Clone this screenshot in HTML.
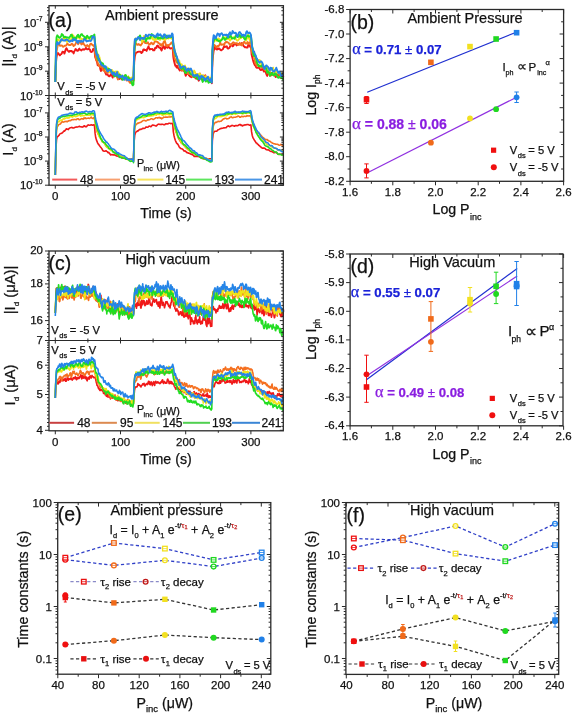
<!DOCTYPE html><html><head><meta charset="utf-8"><style>html,body{margin:0;padding:0;background:#fff;}svg{display:block;filter:blur(0.3px);}text{font-family:"Liberation Sans",sans-serif;stroke-width:0.25px;}</style></head><body><svg width="575" height="716" viewBox="0 0 575 716">
<rect width="575" height="716" fill="#fff"/>
<polyline points="55.3,82 56,62.5 56.6,56.6 57.3,53.7 57.9,53 58.6,53.7 59.2,54.6 59.9,55.4 60.5,54.5 61.2,54.2 61.8,53.4 62.5,51.7 63.1,51.9 63.8,52 64.4,53.6 65.1,51.4 65.7,49.5 66.4,48.2 67,49.1 67.7,50.6 68.3,51.2 69,51.9 69.6,51 70.3,51.2 70.9,51 71.6,50.9 72.3,51.9 72.9,52 73.6,53.4 74.2,51.5 74.9,50.4 75.5,49.1 76.2,49.4 76.8,50.5 77.5,50.9 78.1,50.6 78.8,49.2 79.4,48.6 80.1,49.9 80.7,49.9 81.4,50.5 82,49.8 82.7,49.3 83.3,49.1 84,49.7 84.6,49.3 85.3,49 85.9,47.8 86.6,48.7 87.2,49.4 87.9,49.4 88.6,48.8 89.2,49.1 89.9,49.6 90.5,51.6 91.2,52 91.8,51.8 92.5,51.1 93.1,48.9 93.8,49.1 94.4,48.5 95.1,56.8 95.7,58.5 96.4,60.4 97,61.9 97.7,65.2 98.3,65.3 99,65.5 99.6,65.4 100.3,68.9 100.9,71.1 101.6,70 102.2,67.3 102.9,67.6 103.5,69 104.2,70.5 104.9,71.4 105.5,73.2 106.2,74.6 106.8,74.3 107.5,74.1 108.1,75.5 108.8,76.1 109.4,76.4 110.1,75.8 110.7,74.3 111.4,75.2 112,75.7 112.7,77.6 113.3,75.2 114,74.2 114.6,74.6 115.3,74.9 115.9,75.5 116.6,75.8 117.2,76.4 117.9,78 118.5,77.8 119.2,78.9 119.8,78 120.5,78.2 121.2,78.6 121.8,79.4 122.5,78.5 123.1,78.2 123.8,78.2 124.4,78.9 125.1,78.7 125.7,78.7 126.4,80 127,80.5 127.7,78.7 128.3,77.6 129,77.9 129.6,78.9 130.3,80.2 130.9,79.6 131.6,81 132.2,79 132.9,79.3 133.5,78.9 133.5,80.8 134.2,62.5 134.8,56.5 135.5,53.9 136.1,52.6 136.8,52.5 137.5,52 138.1,51.8 138.8,51.6 139.4,51.6 140.1,51.8 140.7,51.6 141.4,53.1 142,52.6 142.7,51.6 143.3,49.6 144,49.2 144.6,50.1 145.3,50 145.9,50.2 146.6,50.9 147.2,49 147.9,47.7 148.5,46.3 149.2,48.6 149.8,49.6 150.5,49 151.1,49.1 151.8,49 152.4,48.9 153.1,50.3 153.8,50.3 154.4,50.2 155.1,48.1 155.7,47.6 156.4,47.9 157,45.8 157.7,45.5 158.3,46.3 159,47.5 159.6,47.8 160.3,47.7 160.9,49.3 161.6,50.5 162.2,48.4 162.9,47.4 163.5,45.9 164.2,47.7 164.8,48.8 165.5,46.9 166.1,47.3 166.8,45.2 167.4,47.9 168.1,45.8 168.7,47.1 169.4,47.5 170.1,48.5 170.7,48.5 171.4,48.2 172,48.4 172.7,48.2 173.3,56.9 174,61.1 174.6,63.2 175.3,65.8 175.9,65.4 176.6,67.5 177.2,66 177.9,67.8 178.5,68.4 179.2,69.5 179.8,70.5 180.5,69.2 181.1,68.3 181.8,68.8 182.4,69.7 183.1,70.5 183.7,69.2 184.4,71.3 185,73.1 185.7,75.8 186.4,74.3 187,74 187.7,72.2 188.3,73.8 189,75.4 189.6,75.8 190.3,76.7 190.9,76.4 191.6,77.2 192.2,74.6 192.9,75.2 193.5,75.4 194.2,76.7 194.8,76.1 195.5,76.7 196.1,78.6 196.8,77.6 197.4,78.4 198.1,78.5 198.7,80.7 199.4,79.8 200,78.1 200.7,77.9 201.3,78.3 202,79.2 202.7,79.6 203.3,79.5 204,77.7 204.6,76.3 205.3,75.2 205.9,77.8 206.6,78.5 207.2,79.6 207.9,79.1 208.5,79.6 209.2,80.3 209.8,81.5 210.5,80.9 211.1,81.7 211.8,82 211.8,83.3 212.4,61.6 213.1,55.1 213.7,50.4 214.4,49.3 215,46.6 215.7,48.7 216.3,48.3 217,49.6 217.6,48.4 218.3,49.1 219,48.5 219.6,48.6 220.3,49.9 220.9,50.2 221.6,50.3 222.2,49.5 222.9,49.2 223.5,47.6 224.2,46.2 224.8,47.1 225.5,46.7 226.1,46.5 226.8,46.3 227.4,48.2 228.1,48.6 228.7,48.3 229.4,47.7 230,46.7 230.7,44.7 231.3,44 232,45.6 232.6,46.3 233.3,46 233.9,44.6 234.6,43.8 235.3,44.4 235.9,44 236.6,45.4 237.2,43.6 237.9,44.8 238.5,43.9 239.2,44.2 239.8,44.5 240.5,44.7 241.1,44.5 241.8,43.1 242.4,43.6 243.1,44.9 243.7,46.2 244.4,46.6 245,47.4 245.7,47.1 246.3,47.5 247,47.5 247.6,47.6 248.3,44.8 248.9,45 249.6,45.6 250.2,47 250.9,45.9 251.6,54.6 252.2,56.9 252.9,59.9 253.5,61.9 254.2,63.9 254.8,65.2 255.5,65.7 256.1,67.2 256.8,67.8 257.4,67.7 258.1,67.6 258.7,67.7 259.4,67.7 260,69.5 260.7,70 261.3,70 262,68.9 262.6,69 263.3,70.3 263.9,71.5 264.6,71.4 265.2,70.3 265.9,72.6 266.5,74.5 267.2,75.9 267.9,72 268.5,71.8 269.2,71.9 269.8,75.6 270.5,75.6 271.1,75.4 271.8,74.7 272.4,73 273.1,74 273.7,74.1 274.4,75.2 275,75.7 275.7,77 276.3,76.6 277,75.2 277.6,74.1 278.3,75.6 278.9,75.9 279.6,75.1 280.2,76.7 280.9,78 281.5,78 282.2,75.4 282.8,76 283.5,77.3" fill="none" stroke="#f01818" stroke-width="1.9" stroke-linejoin="round"/>
<polyline points="55.3,82 56,59.8 56.6,51 57.3,47.5 57.9,44.4 58.6,44.3 59.2,43.8 59.9,45.8 60.5,45.7 61.2,45.6 61.8,45.4 62.5,46.2 63.1,46.8 63.8,46.5 64.4,45.8 65.1,45.9 65.7,45.7 66.4,45.2 67,44 67.7,43.9 68.3,44.4 69,45 69.6,44.9 70.3,45.1 70.9,44.8 71.6,43.8 72.3,43.9 72.9,44.8 73.6,46.1 74.2,45.6 74.9,45.1 75.5,43.9 76.2,42.5 76.8,42.2 77.5,42.2 78.1,44.3 78.8,43.3 79.4,42 80.1,40.5 80.7,42.6 81.4,44.4 82,44.1 82.7,42.2 83.3,42.9 84,44.4 84.6,45.1 85.3,45.9 85.9,46 86.6,45.9 87.2,45.1 87.9,45.9 88.6,46.7 89.2,47 89.9,44.8 90.5,43.9 91.2,43.6 91.8,44.3 92.5,45.2 93.1,45.1 93.8,46.1 94.4,45 95.1,53.5 95.7,57.6 96.4,60.2 97,60.2 97.7,62.9 98.3,64.2 99,66 99.6,65.7 100.3,66.9 100.9,66.1 101.6,66.2 102.2,67.2 102.9,69.7 103.5,70.7 104.2,71 104.9,71.3 105.5,71.6 106.2,72.3 106.8,72.1 107.5,71.9 108.1,72.6 108.8,72.1 109.4,72.2 110.1,72 110.7,72 111.4,72.5 112,71.2 112.7,72.1 113.3,73.2 114,75.6 114.6,76.3 115.3,76 115.9,74.6 116.6,76.4 117.2,77.2 117.9,79.5 118.5,77.5 119.2,77.2 119.8,75.1 120.5,76.6 121.2,77.7 121.8,77.9 122.5,77.4 123.1,77.3 123.8,77.6 124.4,76.4 125.1,75.2 125.7,76.3 126.4,76.8 127,77.9 127.7,78.7 128.3,80.5 129,81.2 129.6,82.4 130.3,83 130.9,81.5 131.6,80 132.2,78.4 132.9,78.7 133.5,79.2 133.5,80.1 134.2,56.2 134.8,47.7 135.5,44.5 136.1,43.4 136.8,44.2 137.5,44.8 138.1,44.6 138.8,44.1 139.4,44.8 140.1,45 140.7,45.4 141.4,44.3 142,43.7 142.7,41.6 143.3,41.2 144,41.3 144.6,42.2 145.3,43.1 145.9,43.1 146.6,43.2 147.2,42.8 147.9,42.3 148.5,43.8 149.2,44.4 149.8,44.6 150.5,43.5 151.1,42.8 151.8,42.8 152.4,44 153.1,44.3 153.8,43.8 154.4,42.1 155.1,41.5 155.7,41.4 156.4,41.6 157,41.8 157.7,42 158.3,42.9 159,43.4 159.6,43.4 160.3,45.2 160.9,44.5 161.6,45.7 162.2,43.9 162.9,45 163.5,42.2 164.2,41.5 164.8,40.8 165.5,43.2 166.1,45.7 166.8,45.7 167.4,46.2 168.1,45 168.7,45.4 169.4,44.8 170.1,44.1 170.7,43.7 171.4,42.4 172,43.5 172.7,42.3 173.3,50.3 174,54.8 174.6,58 175.3,59.8 175.9,60.7 176.6,62.3 177.2,62.8 177.9,63.1 178.5,64.4 179.2,66.5 179.8,66.4 180.5,68 181.1,69.4 181.8,70.7 182.4,70 183.1,68.9 183.7,70.5 184.4,70.2 185,71.5 185.7,70.4 186.4,70.8 187,71.3 187.7,73.1 188.3,74 189,73.2 189.6,73.1 190.3,73.4 190.9,74.5 191.6,75.3 192.2,76.6 192.9,76.2 193.5,77 194.2,76.4 194.8,77.7 195.5,75.6 196.1,75.8 196.8,74 197.4,76.2 198.1,77.5 198.7,78.1 199.4,75.7 200,73.5 200.7,75.6 201.3,76.7 202,78.1 202.7,77.1 203.3,77.5 204,76.9 204.6,77.3 205.3,76.5 205.9,77.4 206.6,77.8 207.2,79.5 207.9,79.5 208.5,78.7 209.2,78.6 209.8,78.6 210.5,80.7 211.1,81.3 211.8,81.8 211.8,80.1 212.4,54.6 213.1,46.8 213.7,44.8 214.4,44.9 215,45.7 215.7,46.3 216.3,47.6 217,46.5 217.6,46 218.3,46.4 219,45.4 219.6,44.9 220.3,42.7 220.9,44.3 221.6,44.9 222.2,44.5 222.9,44.6 223.5,44.3 224.2,45 224.8,43.1 225.5,42.3 226.1,41.7 226.8,42.3 227.4,42.1 228.1,42.6 228.7,42.8 229.4,44.2 230,44.2 230.7,44.9 231.3,44.8 232,44.1 232.6,42.7 233.3,42.2 233.9,42.6 234.6,43.3 235.3,43.2 235.9,43.4 236.6,43.1 237.2,43.7 237.9,44.6 238.5,44.8 239.2,44.4 239.8,42.8 240.5,44.4 241.1,44.5 241.8,45.4 242.4,43.6 243.1,43.3 243.7,42.5 244.4,41.7 245,42.8 245.7,43.5 246.3,43.5 247,43 247.6,42.1 248.3,43.9 248.9,43.6 249.6,42.5 250.2,41.9 250.9,42.8 251.6,50.1 252.2,53 252.9,53.2 253.5,54.6 254.2,57.2 254.8,60.9 255.5,63.4 256.1,64.3 256.8,65.6 257.4,65.6 258.1,65.6 258.7,64.9 259.4,66.3 260,66.6 260.7,65.8 261.3,66.1 262,67.6 262.6,67.9 263.3,67.9 263.9,67.7 264.6,69.5 265.2,69.9 265.9,70.6 266.5,70.3 267.2,71.6 267.9,73.1 268.5,73.3 269.2,73.5 269.8,72 270.5,72.6 271.1,72.8 271.8,74.9 272.4,74.8 273.1,74.3 273.7,73.5 274.4,72.8 275,73.1 275.7,72.6 276.3,74.3 277,73.6 277.6,72.8 278.3,72.7 278.9,74 279.6,75.3 280.2,76.2 280.9,75.9 281.5,76.1 282.2,75.9 282.8,75 283.5,75.2" fill="none" stroke="#f57020" stroke-width="1.9" stroke-linejoin="round"/>
<polyline points="55.3,82 56,52.1 56.6,43.8 57.3,41.5 57.9,39.5 58.6,39.6 59.2,40.5 59.9,40.4 60.5,42 61.2,40.1 61.8,40.6 62.5,38.7 63.1,40 63.8,39 64.4,37.1 65.1,36.7 65.7,38.3 66.4,40.4 67,42 67.7,41.5 68.3,41.1 69,39.7 69.6,39.8 70.3,40.9 70.9,39.2 71.6,38.5 72.3,34.4 72.9,36 73.6,36 74.2,39.5 74.9,40.5 75.5,40.8 76.2,39.8 76.8,37.7 77.5,37 78.1,36.7 78.8,37.6 79.4,38.3 80.1,38.8 80.7,38.1 81.4,38.8 82,39.2 82.7,39.2 83.3,39 84,38.4 84.6,37.6 85.3,38.2 85.9,38.7 86.6,38.9 87.2,38.5 87.9,38.4 88.6,37.9 89.2,38.4 89.9,38.3 90.5,40.3 91.2,39.2 91.8,38.8 92.5,36.8 93.1,37.4 93.8,37.6 94.4,38.6 95.1,44.4 95.7,48.3 96.4,51.9 97,53.6 97.7,55.3 98.3,54.6 99,56 99.6,57.7 100.3,61.6 100.9,62.6 101.6,62.9 102.2,63.9 102.9,64.7 103.5,66.1 104.2,66.8 104.9,67.7 105.5,68.7 106.2,67.4 106.8,68 107.5,67.5 108.1,68.6 108.8,69.8 109.4,72.2 110.1,72 110.7,71.1 111.4,69.9 112,70 112.7,71.2 113.3,71.6 114,72.6 114.6,73 115.3,71.6 115.9,72.7 116.6,71.4 117.2,72.3 117.9,71.6 118.5,72.8 119.2,74.3 119.8,75 120.5,75.3 121.2,75.3 121.8,76.7 122.5,77.3 123.1,77.4 123.8,77.4 124.4,77.8 125.1,76.7 125.7,77.9 126.4,79.7 127,79.3 127.7,77.5 128.3,76.3 129,78.8 129.6,79.6 130.3,79.2 130.9,77.8 131.6,77.5 132.2,78.7 132.9,78.9 133.5,78.1 133.5,77.3 134.2,48.7 134.8,41.2 135.5,38.5 136.1,39.7 136.8,39.1 137.5,38.6 138.1,37.8 138.8,38.2 139.4,38.4 140.1,38.6 140.7,39.2 141.4,40.6 142,41.9 142.7,40.6 143.3,39.3 144,35.9 144.6,38 145.3,37.7 145.9,39.6 146.6,38.5 147.2,37.9 147.9,38.3 148.5,37.8 149.2,37.4 149.8,37.2 150.5,38.2 151.1,38.1 151.8,38.5 152.4,37.7 153.1,39.6 153.8,39.2 154.4,40.1 155.1,39.5 155.7,39.8 156.4,38.5 157,39.2 157.7,37.8 158.3,38.1 159,38.8 159.6,39.8 160.3,39.8 160.9,37.5 161.6,36.5 162.2,36.7 162.9,38.4 163.5,39.4 164.2,39.6 164.8,38.8 165.5,39.5 166.1,38.8 166.8,38.4 167.4,38 168.1,38.4 168.7,38.6 169.4,37.4 170.1,37.1 170.7,37.8 171.4,38.6 172,37.8 172.7,37.7 173.3,43.8 174,47.9 174.6,51 175.3,52.9 175.9,55.3 176.6,56.8 177.2,59.5 177.9,60.4 178.5,61.2 179.2,60.4 179.8,63.7 180.5,63.8 181.1,66.2 181.8,64.5 182.4,66.2 183.1,67.7 183.7,66.7 184.4,66.3 185,65.5 185.7,67.9 186.4,68.2 187,70 187.7,70.6 188.3,70.2 189,69.6 189.6,68.5 190.3,71.1 190.9,70.4 191.6,72.2 192.2,72.6 192.9,73.5 193.5,72.6 194.2,70.6 194.8,71.7 195.5,73.7 196.1,74.7 196.8,74.7 197.4,74.8 198.1,76.2 198.7,74 199.4,73.6 200,74 200.7,76.7 201.3,77.9 202,75.4 202.7,75.2 203.3,75.1 204,79.3 204.6,78.6 205.3,78.2 205.9,76.3 206.6,78 207.2,78.1 207.9,79.2 208.5,78 209.2,78.8 209.8,77.6 210.5,78.6 211.1,78 211.8,77.3 211.8,78 212.4,51.6 213.1,44.5 213.7,41.5 214.4,41.3 215,40.7 215.7,40.3 216.3,39.8 217,40.9 217.6,40.6 218.3,38.4 219,38.9 219.6,39.4 220.3,41 220.9,39.7 221.6,39.6 222.2,39.2 222.9,38.5 223.5,37.7 224.2,37.5 224.8,37.8 225.5,37.4 226.1,38.3 226.8,37.7 227.4,39.2 228.1,37.8 228.7,39.1 229.4,39.6 230,40.6 230.7,39.7 231.3,38.6 232,38.5 232.6,37.7 233.3,37.1 233.9,37.1 234.6,38.1 235.3,38.6 235.9,39.1 236.6,40 237.2,40.7 237.9,40.5 238.5,39.7 239.2,38.9 239.8,38.2 240.5,38.2 241.1,38 241.8,36.9 242.4,36.8 243.1,36.9 243.7,37.5 244.4,37.8 245,38.2 245.7,38.8 246.3,40.5 247,38 247.6,37.9 248.3,34.8 248.9,37.7 249.6,40 250.2,39.4 250.9,38.7 251.6,42.8 252.2,48.1 252.9,51.1 253.5,50.9 254.2,53.5 254.8,54.8 255.5,57.8 256.1,57.8 256.8,59 257.4,59.5 258.1,60.9 258.7,60.8 259.4,60 260,60.5 260.7,61.7 261.3,64.6 262,64.5 262.6,64.8 263.3,65.2 263.9,66.5 264.6,67.9 265.2,69.5 265.9,69 266.5,66.9 267.2,66.3 267.9,68.6 268.5,71.3 269.2,71.6 269.8,70.2 270.5,69.2 271.1,69.5 271.8,69.6 272.4,69 273.1,67.7 273.7,70.7 274.4,74 275,74.5 275.7,72.2 276.3,71 277,71.2 277.6,73.1 278.3,73.1 278.9,73 279.6,73.2 280.2,73 280.9,74.3 281.5,73.4 282.2,73.8 282.8,74.1 283.5,74.3" fill="none" stroke="#f0e41a" stroke-width="1.9" stroke-linejoin="round"/>
<polyline points="55.3,82 56,46.7 56.6,37.1 57.3,35.3 57.9,36.2 58.6,36.9 59.2,37.8 59.9,37.8 60.5,37 61.2,35.9 61.8,34.1 62.5,34.5 63.1,35.4 63.8,37.4 64.4,37.4 65.1,36.8 65.7,37.1 66.4,37.1 67,37.8 67.7,37.5 68.3,37.6 69,38 69.6,37 70.3,36.5 70.9,34.8 71.6,34.6 72.3,36 72.9,38.1 73.6,38.7 74.2,37.9 74.9,37.4 75.5,38 76.2,38.5 76.8,36.5 77.5,35.3 78.1,34.7 78.8,36.8 79.4,37.4 80.1,36.3 80.7,34.9 81.4,34.2 82,34.2 82.7,35.7 83.3,35.7 84,36.4 84.6,36.9 85.3,38.3 85.9,38.6 86.6,36.3 87.2,35.7 87.9,36.7 88.6,37.7 89.2,38.4 89.9,37.1 90.5,37 91.2,35.9 91.8,36.1 92.5,36.7 93.1,35.8 93.8,35.4 94.4,34.5 95.1,43 95.7,47.4 96.4,51.1 97,55.7 97.7,58.5 98.3,59.9 99,58.5 99.6,60.9 100.3,61.9 100.9,64.2 101.6,62.7 102.2,63.5 102.9,63.5 103.5,65.3 104.2,66.4 104.9,68 105.5,68.8 106.2,68.4 106.8,70.1 107.5,69.9 108.1,69.6 108.8,68.8 109.4,69.2 110.1,70.3 110.7,70.7 111.4,71.9 112,72.2 112.7,72.8 113.3,74.1 114,75.9 114.6,76.3 115.3,75.6 115.9,75.3 116.6,75.7 117.2,76.5 117.9,76.8 118.5,75.2 119.2,74.9 119.8,74.6 120.5,77.3 121.2,77.1 121.8,78.2 122.5,79.7 123.1,79.6 123.8,78.8 124.4,76.2 125.1,75.3 125.7,75 126.4,76.6 127,78.3 127.7,78.5 128.3,77.2 129,78.4 129.6,79.5 130.3,80.6 130.9,80.6 131.6,82.5 132.2,84.5 132.9,85.3 133.5,84.5 133.5,83.1 134.2,52.9 134.8,45.1 135.5,42.1 136.1,40.2 136.8,39 137.5,39.1 138.1,38.3 138.8,36.9 139.4,36.3 140.1,35.4 140.7,37.4 141.4,38.2 142,38.4 142.7,38.5 143.3,38.8 144,38.1 144.6,38.5 145.3,38.3 145.9,41.5 146.6,39 147.2,38.7 147.9,37.4 148.5,38.5 149.2,38.2 149.8,38.6 150.5,37.3 151.1,36.1 151.8,34.1 152.4,34.8 153.1,35.3 153.8,36.7 154.4,37.3 155.1,37.8 155.7,37 156.4,36.4 157,37.1 157.7,38.2 158.3,38.7 159,37.6 159.6,38.2 160.3,37.7 160.9,38.4 161.6,38.1 162.2,38.4 162.9,38.5 163.5,36.7 164.2,37.7 164.8,37.2 165.5,36.8 166.1,36.5 166.8,35.6 167.4,37.9 168.1,36.8 168.7,37.4 169.4,36.6 170.1,36.9 170.7,37.2 171.4,36.5 172,37.3 172.7,37.1 173.3,45.3 174,47 174.6,51.1 175.3,53.4 175.9,56.1 176.6,57 177.2,58.8 177.9,62.4 178.5,62.6 179.2,64.5 179.8,64.4 180.5,68.1 181.1,67.6 181.8,69 182.4,67.5 183.1,67.4 183.7,68.3 184.4,69.9 185,72.6 185.7,73 186.4,72.3 187,70.2 187.7,69.5 188.3,69.8 189,71 189.6,72.4 190.3,73.6 190.9,74.4 191.6,74.4 192.2,74.4 192.9,75.1 193.5,75.9 194.2,77.1 194.8,76.7 195.5,75.2 196.1,75.9 196.8,76.8 197.4,79.2 198.1,77 198.7,77 199.4,76.4 200,76.8 200.7,76.9 201.3,77.7 202,79.9 202.7,81.9 203.3,80.8 204,79.1 204.6,78.4 205.3,80.1 205.9,81.6 206.6,80.3 207.2,80.4 207.9,81.1 208.5,82.8 209.2,81.9 209.8,81.7 210.5,82.1 211.1,82.2 211.8,80.7 211.8,80.3 212.4,50.4 213.1,43 213.7,40.9 214.4,39.3 215,38.9 215.7,37.8 216.3,38.7 217,40 217.6,40 218.3,41.1 219,41 219.6,41.8 220.3,40.6 220.9,40.7 221.6,39.9 222.2,39.3 222.9,37 223.5,37.5 224.2,38.6 224.8,39.9 225.5,39.8 226.1,38.6 226.8,38.2 227.4,36.7 228.1,37.7 228.7,37.2 229.4,37.5 230,36 230.7,35.6 231.3,37.2 232,38.6 232.6,38.2 233.3,38.2 233.9,38.1 234.6,38.7 235.3,36.7 235.9,35.4 236.6,35.4 237.2,36.8 237.9,37.1 238.5,36 239.2,35.9 239.8,34.9 240.5,37.3 241.1,36.1 241.8,36.8 242.4,35.4 243.1,35.9 243.7,37.5 244.4,38.8 245,39.7 245.7,39 246.3,37 247,36.1 247.6,35.4 248.3,35.9 248.9,36.7 249.6,36.5 250.2,36.8 250.9,35.5 251.6,41.4 252.2,46.6 252.9,51.4 253.5,55.4 254.2,56 254.8,54.3 255.5,55.7 256.1,58.6 256.8,62.1 257.4,63.7 258.1,64.7 258.7,66.2 259.4,65.9 260,66.2 260.7,66.6 261.3,66.3 262,65.7 262.6,64.5 263.3,66.2 263.9,67.5 264.6,68.2 265.2,67.1 265.9,68.1 266.5,69.7 267.2,72.9 267.9,71.2 268.5,72.1 269.2,72.9 269.8,75.9 270.5,75.3 271.1,74.1 271.8,72.7 272.4,74 273.1,74.9 273.7,75.4 274.4,73.8 275,73.8 275.7,73.6 276.3,75.5 277,75.3 277.6,77.2 278.3,77.9 278.9,77.6 279.6,76.8 280.2,77.5 280.9,77.6 281.5,77.9 282.2,77.7 282.8,79.3 283.5,80.1" fill="none" stroke="#22dd22" stroke-width="1.9" stroke-linejoin="round"/>
<polyline points="55.3,82 56,51.7 56.6,43.2 57.3,42.1 57.9,44.3 58.6,43.2 59.2,43.6 59.9,42.1 60.5,41.3 61.2,39.7 61.8,39.1 62.5,40 63.1,40.4 63.8,40.6 64.4,40.3 65.1,40.7 65.7,39.8 66.4,39.9 67,39.9 67.7,39.9 68.3,40.5 69,41.3 69.6,41.8 70.3,41.4 70.9,40.7 71.6,40.3 72.3,41.2 72.9,39.6 73.6,40.4 74.2,39 74.9,39.4 75.5,40.3 76.2,40 76.8,42 77.5,41.1 78.1,42.9 78.8,40.7 79.4,41.1 80.1,41.1 80.7,41.8 81.4,40.7 82,41.5 82.7,41.7 83.3,41.4 84,39 84.6,39.2 85.3,39.7 85.9,40.4 86.6,41.4 87.2,40.9 87.9,41.1 88.6,40.9 89.2,40.3 89.9,40.8 90.5,41 91.2,40.7 91.8,39 92.5,36.7 93.1,36.3 93.8,37.6 94.4,36.9 95.1,45.8 95.7,50.7 96.4,53.8 97,55.4 97.7,54.5 98.3,58 99,59 99.6,61.5 100.3,62 100.9,64 101.6,64.8 102.2,65.6 102.9,65.4 103.5,66.5 104.2,66.2 104.9,67.3 105.5,66.2 106.2,67.3 106.8,69.3 107.5,71.4 108.1,71.3 108.8,70.4 109.4,70 110.1,70.1 110.7,69.7 111.4,71.5 112,73.4 112.7,74.3 113.3,73.3 114,72.5 114.6,74 115.3,75.2 115.9,75.6 116.6,73.1 117.2,72.1 117.9,75.1 118.5,76.2 119.2,77.5 119.8,75.9 120.5,77 121.2,77.1 121.8,76 122.5,75.5 123.1,77.3 123.8,78.1 124.4,79.8 125.1,77.3 125.7,77.9 126.4,77.6 127,80 127.7,79.5 128.3,80 129,79.7 129.6,80.1 130.3,80.2 130.9,79.4 131.6,79.5 132.2,79.3 132.9,78 133.5,78.7 133.5,77.9 134.2,48.8 134.8,39.8 135.5,38.6 136.1,38.7 136.8,39.7 137.5,38 138.1,37.1 138.8,37.2 139.4,38.4 140.1,40.1 140.7,38.1 141.4,38.3 142,37.7 142.7,38.8 143.3,38.1 144,38.8 144.6,37.7 145.3,36.8 145.9,34.6 146.6,36 147.2,36.1 147.9,36.4 148.5,34.7 149.2,34.9 149.8,34.6 150.5,35.1 151.1,34.9 151.8,35.4 152.4,34.9 153.1,35.4 153.8,35.4 154.4,36.2 155.1,36.4 155.7,37 156.4,35.1 157,34.5 157.7,33.5 158.3,35.9 159,35 159.6,35.1 160.3,34.2 160.9,35.2 161.6,36.5 162.2,36.4 162.9,37.4 163.5,35.4 164.2,34.3 164.8,34.5 165.5,36 166.1,37.8 166.8,36.9 167.4,37 168.1,35.6 168.7,36.2 169.4,35.4 170.1,37.2 170.7,36.5 171.4,35.3 172,33.5 172.7,34.3 173.3,43.2 174,48.2 174.6,50.6 175.3,52.8 175.9,54.6 176.6,56.1 177.2,58 177.9,60.9 178.5,62 179.2,64.4 179.8,65.6 180.5,67.8 181.1,67.9 181.8,67.3 182.4,66.7 183.1,66.4 183.7,66.3 184.4,66.8 185,66.9 185.7,69.3 186.4,70.3 187,70.9 187.7,68.6 188.3,68.5 189,69 189.6,70 190.3,69.6 190.9,68.5 191.6,70.2 192.2,71.4 192.9,75.6 193.5,75.4 194.2,75.7 194.8,75.1 195.5,75.5 196.1,76 196.8,74.9 197.4,74.6 198.1,75.9 198.7,77.3 199.4,79.4 200,78.2 200.7,77.6 201.3,75.8 202,77.1 202.7,76.2 203.3,77.5 204,77.9 204.6,80.3 205.3,79.3 205.9,79.5 206.6,78 207.2,78.4 207.9,76.7 208.5,78.3 209.2,80.5 209.8,81.2 210.5,79.9 211.1,78.5 211.8,81.1 211.8,82.5 212.4,51.5 213.1,39.2 213.7,35.2 214.4,35.7 215,38.3 215.7,38.4 216.3,36.8 217,34.8 217.6,33.4 218.3,34.6 219,34 219.6,36.3 220.3,34.1 220.9,33.9 221.6,33.2 222.2,33.9 222.9,35.4 223.5,35.1 224.2,34.8 224.8,34.6 225.5,35.2 226.1,34.5 226.8,35.4 227.4,35.1 228.1,37.2 228.7,34.2 229.4,33.2 230,32.3 230.7,34.6 231.3,34 232,33.5 232.6,31 233.3,31.9 233.9,32.9 234.6,33.1 235.3,32.8 235.9,32.9 236.6,35.5 237.2,36.5 237.9,35.8 238.5,33.6 239.2,32.3 239.8,32 240.5,33 241.1,33.7 241.8,35.6 242.4,35.7 243.1,34.8 243.7,34.7 244.4,35.2 245,36.2 245.7,34.3 246.3,32.1 247,31.2 247.6,32.5 248.3,33.3 248.9,33.1 249.6,32.5 250.2,33.3 250.9,34.8 251.6,42.3 252.2,47.4 252.9,49.1 253.5,51.7 254.2,51.6 254.8,54.4 255.5,55.2 256.1,57.3 256.8,58.6 257.4,59.5 258.1,61 258.7,61.8 259.4,62.7 260,62 260.7,61.4 261.3,61.5 262,62.3 262.6,63.5 263.3,66.8 263.9,68 264.6,69.1 265.2,66.5 265.9,65.8 266.5,65.4 267.2,66.6 267.9,66.7 268.5,68.7 269.2,68.4 269.8,70.5 270.5,67.6 271.1,68.4 271.8,68.1 272.4,70.4 273.1,71.2 273.7,71.5 274.4,71.7 275,70 275.7,69.5 276.3,67.7 277,70 277.6,71.1 278.3,73 278.9,72.1 279.6,71.6 280.2,73.5 280.9,75.7 281.5,76.4 282.2,76.1 282.8,73.7 283.5,73.8" fill="none" stroke="#2585e8" stroke-width="1.9" stroke-linejoin="round"/>
<polyline points="55.3,175 56,147.1 56.6,139.2 57.3,136.6 57.9,136.5 58.6,135.7 59.2,135.1 59.9,133.9 60.5,133.6 61.2,133.4 61.8,133.3 62.5,132.6 63.1,132 63.8,131.1 64.4,131.2 65.1,130.4 65.7,129.7 66.4,128.7 67,128.9 67.7,129.2 68.3,129.6 69,128.5 69.6,128.2 70.3,127.7 70.9,127.8 71.6,127.4 72.3,127.6 72.9,128 73.6,128 74.2,127.8 74.9,127.3 75.5,127.2 76.2,126.9 76.8,127.1 77.5,127 78.1,126.8 78.8,126.5 79.4,126.2 80.1,126.8 80.7,126.8 81.4,127 82,126.9 82.7,127.1 83.3,126.5 84,126 84.6,125.8 85.3,126.6 85.9,126.7 86.6,126.6 87.2,125.7 87.9,125.1 88.6,124.9 89.2,125.3 89.9,125.2 90.5,125 91.2,124.7 91.8,125 92.5,125.1 93.1,125.1 93.8,124.7 94.4,124.9 95.1,133.4 95.7,137.5 96.4,139.9 97,141.4 97.7,143.1 98.3,144.1 99,144.9 99.6,145.8 100.3,146.7 100.9,147.4 101.6,148.4 102.2,149.3 102.9,150.6 103.5,151.1 104.2,151.3 104.9,151.2 105.5,150.9 106.2,150.9 106.8,151.4 107.5,151.9 108.1,152.7 108.8,152.4 109.4,153.4 110.1,154.1 110.7,154.9 111.4,154.8 112,154.5 112.7,154.9 113.3,154.9 114,155 114.6,154.9 115.3,155.3 115.9,155.5 116.6,156 117.2,156 117.9,156.2 118.5,156.3 119.2,156.9 119.8,156.8 120.5,157.1 121.2,157.3 121.8,158 122.5,157.9 123.1,157.7 123.8,157.6 124.4,158.1 125.1,158.8 125.7,159 126.4,158.7 127,158.6 127.7,158.8 128.3,158.9 129,158.7 129.6,158.8 130.3,159.3 130.9,159.3 131.6,159.2 132.2,159.3 132.9,159.4 133.5,159.8 133.5,159.8 134.2,141 134.8,134.9 135.5,132.8 136.1,131.8 136.8,131.6 137.5,130.9 138.1,130.9 138.8,130 139.4,129.8 140.1,129.2 140.7,129.5 141.4,129.1 142,129 142.7,128.3 143.3,128.4 144,128.4 144.6,128.2 145.3,127.9 145.9,127 146.6,127.1 147.2,127.2 147.9,127.2 148.5,126.5 149.2,126.1 149.8,126.2 150.5,126.7 151.1,126.6 151.8,125.7 152.4,125.1 153.1,125.1 153.8,125.2 154.4,125.5 155.1,125.5 155.7,126 156.4,125.9 157,125.2 157.7,124.6 158.3,124.2 159,124.1 159.6,124.4 160.3,124.5 160.9,124.4 161.6,124.4 162.2,124.3 162.9,124.3 163.5,124.7 164.2,124.6 164.8,124.6 165.5,124 166.1,123.7 166.8,123.9 167.4,124 168.1,123.8 168.7,123.3 169.4,123.2 170.1,123.3 170.7,123.7 171.4,123.4 172,123.6 172.7,123.4 173.3,131.7 174,135.5 174.6,138 175.3,140.3 175.9,141.7 176.6,143.1 177.2,143.6 177.9,144.4 178.5,145.4 179.2,146.9 179.8,147.8 180.5,148.1 181.1,148.7 181.8,148.7 182.4,149.2 183.1,149.5 183.7,150.7 184.4,151.1 185,150.8 185.7,151.4 186.4,152.1 187,152.7 187.7,152.6 188.3,153.1 189,153 189.6,153.6 190.3,153.8 190.9,154.2 191.6,154.4 192.2,154 192.9,155.1 193.5,155.2 194.2,156.5 194.8,156.3 195.5,156.4 196.1,156.3 196.8,156.5 197.4,156.5 198.1,156.3 198.7,156.6 199.4,156.7 200,157.1 200.7,157.5 201.3,158 202,158.4 202.7,158.4 203.3,158.9 204,158.4 204.6,158.9 205.3,158.2 205.9,158.5 206.6,158.4 207.2,158.9 207.9,158.9 208.5,159 209.2,159 209.8,158.7 210.5,158.8 211.1,159 211.8,159.6 211.8,159.4 212.4,139.8 213.1,134.3 213.7,132.5 214.4,131.6 215,131.2 215.7,131.2 216.3,131.2 217,130.9 217.6,130.2 218.3,129.7 219,129.4 219.6,129.1 220.3,128.8 220.9,128.4 221.6,128.4 222.2,128.2 222.9,128.2 223.5,127.8 224.2,127.9 224.8,127.8 225.5,127.8 226.1,127.7 226.8,126.9 227.4,126.3 228.1,125.8 228.7,126.1 229.4,126.7 230,126.5 230.7,126.3 231.3,125.6 232,125.6 232.6,125.4 233.3,125.7 233.9,125.9 234.6,126.2 235.3,125.6 235.9,125.8 236.6,125.6 237.2,125.8 237.9,125.7 238.5,125.2 239.2,124.8 239.8,124.5 240.5,124.5 241.1,125.5 241.8,125.4 242.4,126 243.1,125.2 243.7,125.4 244.4,125.1 245,124.8 245.7,125 246.3,124.8 247,124.6 247.6,124.5 248.3,124.5 248.9,125 249.6,125.2 250.2,125 250.9,124.9 251.6,131.9 252.2,135.2 252.9,137.6 253.5,138.6 254.2,139.8 254.8,140.8 255.5,141.8 256.1,142.9 256.8,143.1 257.4,144 258.1,144.4 258.7,145.4 259.4,145.5 260,146.4 260.7,146.7 261.3,147.5 262,147.8 262.6,148.3 263.3,148.2 263.9,147.9 264.6,148.2 265.2,148.6 265.9,149.4 266.5,149.8 267.2,149.8 267.9,150 268.5,149.9 269.2,150.4 269.8,150.9 270.5,151.3 271.1,151.5 271.8,151.4 272.4,151.9 273.1,152.1 273.7,152.7 274.4,152.8 275,152.6 275.7,152.4 276.3,152.4 277,153.2 277.6,153.8 278.3,154.2 278.9,154.5 279.6,154.4 280.2,154.2 280.9,154.3 281.5,154.4 282.2,154.9 282.8,154.4 283.5,154.6" fill="none" stroke="#f01818" stroke-width="1.6" stroke-linejoin="round"/>
<polyline points="55.3,175 56,139.9 56.6,129.7 57.3,126.6 57.9,126 58.6,124.8 59.2,124.2 59.9,124.2 60.5,123.9 61.2,122.8 61.8,121.9 62.5,121.5 63.1,122.1 63.8,122 64.4,121.8 65.1,121.4 65.7,121.6 66.4,121.2 67,121.8 67.7,121.2 68.3,121.1 69,120.6 69.6,120.8 70.3,120.6 70.9,120.5 71.6,119.7 72.3,119.6 72.9,119.5 73.6,119.8 74.2,119.6 74.9,119.4 75.5,119.6 76.2,119.8 76.8,119.1 77.5,118.7 78.1,118.7 78.8,119.3 79.4,119.8 80.1,119.6 80.7,119.2 81.4,118.6 82,118.9 82.7,118.7 83.3,119.1 84,117.9 84.6,118.4 85.3,117.8 85.9,118.6 86.6,118.5 87.2,118.3 87.9,118.2 88.6,118 89.2,118.4 89.9,118.2 90.5,117.8 91.2,117.1 91.8,118 92.5,118.2 93.1,118.6 93.8,117.5 94.4,117.8 95.1,122.2 95.7,126.3 96.4,129 97,131.4 97.7,133.1 98.3,134.3 99,135.6 99.6,136.6 100.3,137.8 100.9,139 101.6,140.2 102.2,141.8 102.9,141.8 103.5,142.5 104.2,142.7 104.9,144.2 105.5,145.2 106.2,146.2 106.8,147 107.5,147.3 108.1,147.9 108.8,148.6 109.4,148.8 110.1,149.1 110.7,149.1 111.4,149.8 112,150.3 112.7,151.2 113.3,151.9 114,152.1 114.6,152.4 115.3,152.5 115.9,153.2 116.6,153.9 117.2,154.9 117.9,155.5 118.5,155.5 119.2,155.2 119.8,154.9 120.5,155.6 121.2,156.5 121.8,157.3 122.5,156.9 123.1,156.3 123.8,156.1 124.4,157.1 125.1,157.7 125.7,158.4 126.4,159 127,159 127.7,159 128.3,159.2 129,159.8 129.6,160.1 130.3,159.2 130.9,159 131.6,158.7 132.2,159.5 132.9,160.2 133.5,161.3 133.5,161.2 134.2,135.6 134.8,127.6 135.5,125.6 136.1,124.4 136.8,124.1 137.5,123.1 138.1,123.4 138.8,122.9 139.4,122.8 140.1,122.5 140.7,122.3 141.4,121.8 142,121.3 142.7,120.8 143.3,120.6 144,120.4 144.6,120.5 145.3,120.7 145.9,121 146.6,120.6 147.2,120.2 147.9,119.8 148.5,120 149.2,119.7 149.8,119.5 150.5,119.1 151.1,118.7 151.8,118.8 152.4,119.1 153.1,119.4 153.8,119.2 154.4,118.8 155.1,118.4 155.7,117.7 156.4,117.8 157,117.8 157.7,118.1 158.3,117.6 159,117.8 159.6,117.4 160.3,118.1 160.9,117.8 161.6,118.9 162.2,118.2 162.9,118 163.5,117.1 164.2,117.3 164.8,117.2 165.5,117.1 166.1,117.3 166.8,117.1 167.4,117.2 168.1,117 168.7,117 169.4,117 170.1,116.9 170.7,117 171.4,116.7 172,116.6 172.7,116.6 173.3,122 174,125.1 174.6,128.2 175.3,129.8 175.9,132 176.6,133.3 177.2,135.1 177.9,136.8 178.5,138.6 179.2,139.5 179.8,140.7 180.5,141.5 181.1,142.8 181.8,143.1 182.4,143.9 183.1,144.4 183.7,145.4 184.4,145.8 185,146.6 185.7,147.4 186.4,148.4 187,148.7 187.7,149.3 188.3,149.9 189,150.2 189.6,150.8 190.3,150.5 190.9,151.4 191.6,151.6 192.2,152.8 192.9,153.1 193.5,153.2 194.2,153 194.8,153 195.5,153.7 196.1,154.2 196.8,154.7 197.4,155 198.1,155.1 198.7,155.5 199.4,155.6 200,156.6 200.7,157.4 201.3,157.7 202,157.2 202.7,157.1 203.3,157.5 204,158.3 204.6,158.6 205.3,158.8 205.9,159.2 206.6,159.5 207.2,159.9 207.9,159.8 208.5,159.7 209.2,160 209.8,160.1 210.5,160.4 211.1,160.2 211.8,160.4 211.8,160.6 212.4,134.6 213.1,127.2 213.7,124.8 214.4,123.4 215,122.8 215.7,122.2 216.3,122.5 217,121.9 217.6,121.7 218.3,121.2 219,121.6 219.6,121.5 220.3,121.3 220.9,121.3 221.6,120.7 222.2,120.2 222.9,119.4 223.5,118.9 224.2,118.8 224.8,118.3 225.5,118.3 226.1,118.3 226.8,118.9 227.4,118.7 228.1,118.8 228.7,118.2 229.4,118.1 230,117.2 230.7,117 231.3,116.7 232,117.5 232.6,117.8 233.3,117.6 233.9,117.2 234.6,117.2 235.3,117.3 235.9,117.1 236.6,116.8 237.2,116.7 237.9,116.1 238.5,116.1 239.2,116.5 239.8,117.3 240.5,117.2 241.1,116.6 241.8,116.2 242.4,116.4 243.1,116.7 243.7,116.5 244.4,116.3 245,116.2 245.7,116.4 246.3,116.2 247,115.8 247.6,115.7 248.3,115.9 248.9,116 249.6,115.9 250.2,115.9 250.9,116.1 251.6,119.3 252.2,122.1 252.9,124.4 253.5,126.5 254.2,127.2 254.8,128.6 255.5,129 256.1,130.1 256.8,130.8 257.4,132.4 258.1,133.1 258.7,133.4 259.4,133.8 260,134.1 260.7,135.1 261.3,135.7 262,136.6 262.6,137.1 263.3,137.6 263.9,138.3 264.6,138.7 265.2,139.3 265.9,139.5 266.5,139.8 267.2,139.6 267.9,140.4 268.5,140.6 269.2,141.2 269.8,141.2 270.5,141.7 271.1,142.3 271.8,142.5 272.4,143.2 273.1,143.2 273.7,143.8 274.4,143.7 275,144 275.7,144.1 276.3,144.2 277,144.3 277.6,144.3 278.3,144.7 278.9,145.1 279.6,145.2 280.2,145 280.9,144.4 281.5,144.7 282.2,145.1 282.8,145.8 283.5,146" fill="none" stroke="#f57020" stroke-width="1.6" stroke-linejoin="round"/>
<polyline points="55.3,175 56,138.2 56.6,127.1 57.3,123.1 57.9,121.9 58.6,121.5 59.2,121.7 59.9,120.7 60.5,120.3 61.2,120.1 61.8,120.5 62.5,119.7 63.1,119 63.8,118.7 64.4,118.9 65.1,118.6 65.7,118 66.4,118 67,117.7 67.7,118.1 68.3,117.7 69,118 69.6,117.1 70.3,116.8 70.9,116.8 71.6,116.6 72.3,117.2 72.9,116.6 73.6,116.5 74.2,115.9 74.9,116.3 75.5,116.7 76.2,116.5 76.8,116.2 77.5,115.9 78.1,115.8 78.8,115.1 79.4,115.3 80.1,115.5 80.7,116.1 81.4,115.7 82,115.6 82.7,115.5 83.3,115.6 84,115.8 84.6,115.3 85.3,115.3 85.9,114.7 86.6,115.1 87.2,115.3 87.9,115.3 88.6,115.3 89.2,114.8 89.9,115.2 90.5,115 91.2,114.7 91.8,114.5 92.5,114.7 93.1,115 93.8,115.1 94.4,115 95.1,120.4 95.7,124 96.4,127.3 97,129.7 97.7,132 98.3,134.3 99,135.9 99.6,137.5 100.3,137.7 100.9,139.3 101.6,139.8 102.2,141.4 102.9,141.9 103.5,142.6 104.2,143.1 104.9,143.8 105.5,145.1 106.2,146.4 106.8,147 107.5,147.2 108.1,147.3 108.8,147.7 109.4,148.8 110.1,149.7 110.7,150.5 111.4,150.4 112,150.5 112.7,151.2 113.3,152 114,152.4 114.6,152.8 115.3,152.7 115.9,153.5 116.6,153.4 117.2,153.9 117.9,154.2 118.5,154.9 119.2,155.6 119.8,155.6 120.5,156.2 121.2,156.6 121.8,157.2 122.5,157.2 123.1,156.9 123.8,157.2 124.4,157 125.1,157.5 125.7,157.9 126.4,158.8 127,159.3 127.7,159.7 128.3,159.5 129,159.5 129.6,159.4 130.3,159.8 130.9,159.6 131.6,160.1 132.2,159.9 132.9,160.4 133.5,160.5 133.5,160.7 134.2,132.4 134.8,123.9 135.5,121.7 136.1,120.6 136.8,120 137.5,119.4 138.1,119.1 138.8,118.9 139.4,118.6 140.1,117.9 140.7,117.8 141.4,117.5 142,117.4 142.7,117.5 143.3,117.7 144,117.6 144.6,117.2 145.3,116.9 145.9,116.7 146.6,116.2 147.2,116.2 147.9,115.9 148.5,116.2 149.2,115.6 149.8,116.2 150.5,115.6 151.1,116 151.8,115.8 152.4,115.7 153.1,115.8 153.8,115.1 154.4,114.8 155.1,114.6 155.7,114.9 156.4,115.2 157,114.3 157.7,114.1 158.3,114 159,114.5 159.6,114.4 160.3,114 160.9,113.9 161.6,114.3 162.2,115.2 162.9,115.2 163.5,114.5 164.2,114.2 164.8,114.5 165.5,114.8 166.1,114.4 166.8,114.1 167.4,114 168.1,114.6 168.7,114.8 169.4,114.9 170.1,114.8 170.7,114.4 171.4,114.6 172,114.2 172.7,114.4 173.3,119.8 174,123.6 174.6,126.4 175.3,128.2 175.9,130.6 176.6,132.6 177.2,134.5 177.9,136.1 178.5,136.8 179.2,138.1 179.8,139.1 180.5,140.6 181.1,141.7 181.8,143 182.4,143.8 183.1,144.2 183.7,144.3 184.4,145.1 185,146.2 185.7,146.8 186.4,147.6 187,147.8 187.7,148.8 188.3,149.2 189,150.1 189.6,150.9 190.3,151.2 190.9,151.5 191.6,151.5 192.2,152.2 192.9,152.4 193.5,152.7 194.2,152.7 194.8,153.6 195.5,154.3 196.1,154.8 196.8,155 197.4,155 198.1,154.6 198.7,155.2 199.4,155.6 200,156.7 200.7,156.7 201.3,156.7 202,156.9 202.7,157.6 203.3,158 204,158.7 204.6,158 205.3,158.2 205.9,158.1 206.6,159.1 207.2,159 207.9,159 208.5,159.6 209.2,159.9 209.8,160.1 210.5,159.7 211.1,160.1 211.8,160.7 211.8,161.2 212.4,131.2 213.1,122.7 213.7,119.6 214.4,119 215,118.6 215.7,118.4 216.3,117.9 217,117.1 217.6,116.7 218.3,116.5 219,116.4 219.6,116.6 220.3,116.7 220.9,116.3 221.6,116.6 222.2,116.1 222.9,116.3 223.5,115.4 224.2,115.7 224.8,115.5 225.5,115.4 226.1,115.7 226.8,115.6 227.4,115.1 228.1,114.6 228.7,114.2 229.4,114.3 230,114.2 230.7,114.4 231.3,114.3 232,114.4 232.6,114.2 233.3,113.9 233.9,113.8 234.6,113.7 235.3,114.3 235.9,113.8 236.6,114 237.2,113.7 237.9,113.2 238.5,112.6 239.2,112.2 239.8,113.2 240.5,113 241.1,113.5 241.8,113.4 242.4,114 243.1,113.9 243.7,113.4 244.4,113.3 245,113.1 245.7,113.3 246.3,113.5 247,113.4 247.6,113.1 248.3,112.7 248.9,112.8 249.6,112.6 250.2,112.4 250.9,112.1 251.6,117.3 252.2,121 252.9,123 253.5,125.3 254.2,127.1 254.8,129.6 255.5,130.6 256.1,131.8 256.8,132.9 257.4,134.6 258.1,135.9 258.7,136.9 259.4,137.4 260,138 260.7,138.4 261.3,139.1 262,140 262.6,140.5 263.3,141.1 263.9,141.1 264.6,141.6 265.2,142.6 265.9,143.3 266.5,144.3 267.2,144.6 267.9,144.8 268.5,145.1 269.2,145.3 269.8,145.7 270.5,145.8 271.1,146.3 271.8,147.1 272.4,147.3 273.1,147.8 273.7,147.8 274.4,147.9 275,147.9 275.7,148.1 276.3,148.8 277,149.5 277.6,149.9 278.3,150.1 278.9,150.2 279.6,150.4 280.2,150.4 280.9,150.5 281.5,150.5 282.2,150.6 282.8,151.1 283.5,151.2" fill="none" stroke="#f0e41a" stroke-width="1.6" stroke-linejoin="round"/>
<polyline points="55.3,175 56,135.7 56.6,124.3 57.3,120.8 57.9,119.1 58.6,118.7 59.2,118.2 59.9,118.4 60.5,117.4 61.2,117.1 61.8,116.8 62.5,116.7 63.1,116.5 63.8,116.3 64.4,116.7 65.1,116.2 65.7,116.1 66.4,115.9 67,115.9 67.7,115.8 68.3,115.6 69,115.7 69.6,115.3 70.3,115.3 70.9,115.2 71.6,115.5 72.3,115.3 72.9,115 73.6,114.6 74.2,114.6 74.9,114.5 75.5,114.6 76.2,114.4 76.8,114.4 77.5,113.6 78.1,113.4 78.8,113.5 79.4,114 80.1,113.7 80.7,113.9 81.4,113.8 82,113.8 82.7,113.2 83.3,113.3 84,113.1 84.6,113 85.3,113.4 85.9,114 86.6,114.5 87.2,114.3 87.9,114 88.6,113.3 89.2,113.2 89.9,113.4 90.5,113.9 91.2,113.1 91.8,113 92.5,113.2 93.1,113.6 93.8,113.3 94.4,113.1 95.1,118.3 95.7,122.4 96.4,125.3 97,128 97.7,129.9 98.3,131.4 99,132.7 99.6,135 100.3,136.9 100.9,138.7 101.6,139.4 102.2,140.8 102.9,141.7 103.5,142.2 104.2,142.6 104.9,142.8 105.5,143.7 106.2,144.7 106.8,145.4 107.5,146.2 108.1,146.8 108.8,148.4 109.4,148.7 110.1,148.9 110.7,148.6 111.4,149.1 112,150 112.7,151.5 113.3,151.9 114,152.6 114.6,152.7 115.3,153.3 115.9,153.9 116.6,153.6 117.2,154.1 117.9,154 118.5,155.6 119.2,156.5 119.8,157.4 120.5,157.2 121.2,157.4 121.8,157.5 122.5,157.9 123.1,158.1 123.8,158 124.4,158.1 125.1,158 125.7,158.8 126.4,159.1 127,159.2 127.7,159 128.3,159.4 129,160.3 129.6,161 130.3,161.2 130.9,161.4 131.6,161 132.2,161.2 132.9,161.4 133.5,161.9 133.5,162.7 134.2,132 134.8,122.6 135.5,119.5 136.1,118.6 136.8,118.6 137.5,118 138.1,117.8 138.8,117.5 139.4,117.5 140.1,117.3 140.7,117.3 141.4,116.6 142,116.2 142.7,115.5 143.3,115.7 144,115.8 144.6,115.7 145.3,115.5 145.9,115.8 146.6,116.2 147.2,115.6 147.9,114.8 148.5,114.5 149.2,114.7 149.8,114.8 150.5,114.8 151.1,114.8 151.8,114.3 152.4,114.2 153.1,114 153.8,114.2 154.4,113.8 155.1,113.4 155.7,113 156.4,113 157,113 157.7,112.6 158.3,112.9 159,112.9 159.6,113.3 160.3,113.1 160.9,112.8 161.6,113.3 162.2,112.9 162.9,113.7 163.5,113.2 164.2,113.4 164.8,113.2 165.5,113.3 166.1,112.8 166.8,112.3 167.4,112.3 168.1,113.1 168.7,113.3 169.4,113.5 170.1,113.1 170.7,113.4 171.4,113.5 172,113 172.7,112.9 173.3,117.8 174,121.9 174.6,124.7 175.3,127 175.9,129 176.6,130.9 177.2,133.4 177.9,135.7 178.5,137.3 179.2,138.1 179.8,138.6 180.5,139 181.1,139.3 181.8,140.6 182.4,142.6 183.1,143.9 183.7,144.4 184.4,144.7 185,145.2 185.7,145.8 186.4,146.4 187,147.2 187.7,148 188.3,148.4 189,148.8 189.6,149.6 190.3,150.8 190.9,151.4 191.6,152.5 192.2,152.2 192.9,152.7 193.5,152.3 194.2,153.1 194.8,153.5 195.5,154.4 196.1,155.1 196.8,155.3 197.4,155.2 198.1,155.3 198.7,155.8 199.4,156.3 200,157 200.7,157.7 201.3,157.8 202,158 202.7,158.1 203.3,158.3 204,158.6 204.6,158.5 205.3,159 205.9,159.5 206.6,159.9 207.2,160.5 207.9,160.5 208.5,160.9 209.2,161.5 209.8,161.8 210.5,162 211.1,161.7 211.8,161.7 211.8,161.6 212.4,129.5 213.1,120.9 213.7,118 214.4,117.4 215,116 215.7,115.8 216.3,115.9 217,116 217.6,115.7 218.3,115.2 219,115 219.6,114.9 220.3,114.8 220.9,115.1 221.6,114.9 222.2,115 222.9,114.8 223.5,115 224.2,115 224.8,114.9 225.5,114.4 226.1,113.9 226.8,113.7 227.4,113.8 228.1,114 228.7,113.9 229.4,113.3 230,112.8 230.7,112.9 231.3,113.5 232,113.9 232.6,113.4 233.3,113 233.9,112.9 234.6,113 235.3,113.1 235.9,112.9 236.6,112.9 237.2,112.4 237.9,112.7 238.5,112.9 239.2,113 239.8,112.5 240.5,112.6 241.1,112.9 241.8,113.1 242.4,113.3 243.1,113 243.7,112.8 244.4,112.6 245,112.6 245.7,113 246.3,112.7 247,112.4 247.6,112 248.3,111.9 248.9,112.6 249.6,112.6 250.2,113 250.9,112.6 251.6,117.4 252.2,120.6 252.9,123.6 253.5,126 254.2,127.4 254.8,129.1 255.5,130.6 256.1,132.7 256.8,133.4 257.4,134.8 258.1,135.6 258.7,136.7 259.4,137.6 260,138.8 260.7,139.8 261.3,140.4 262,141.1 262.6,141.5 263.3,142.7 263.9,143.4 264.6,144.9 265.2,145.6 265.9,146.1 266.5,146.3 267.2,146.6 267.9,146.6 268.5,147.4 269.2,148 269.8,148.8 270.5,148.5 271.1,149.2 271.8,149.8 272.4,150.2 273.1,150.4 273.7,151.1 274.4,151.8 275,152.1 275.7,151.9 276.3,152 277,152.6 277.6,153.8 278.3,154.3 278.9,154.3 279.6,154 280.2,154.2 280.9,154.7 281.5,155 282.2,155.1 282.8,154.9 283.5,154.7" fill="none" stroke="#22dd22" stroke-width="1.6" stroke-linejoin="round"/>
<polyline points="55.3,175 56,134.9 56.6,123.5 57.3,119.3 57.9,118 58.6,117 59.2,117 59.9,116.6 60.5,116.3 61.2,115.9 61.8,115.3 62.5,115.4 63.1,115 63.8,114.9 64.4,114.7 65.1,114.6 65.7,114.8 66.4,114.4 67,114.7 67.7,114.3 68.3,114 69,113.6 69.6,113.2 70.3,113.2 70.9,113.1 71.6,113.7 72.3,113.5 72.9,113.9 73.6,113.5 74.2,113.1 74.9,112 75.5,112 76.2,111.8 76.8,112.5 77.5,112.5 78.1,113 78.8,112.7 79.4,112.3 80.1,112.2 80.7,112.2 81.4,112 82,111.8 82.7,112.1 83.3,112.1 84,112.2 84.6,111.6 85.3,111.5 85.9,111 86.6,111.2 87.2,111.6 87.9,112 88.6,111.9 89.2,111.8 89.9,111.6 90.5,111.8 91.2,111.7 91.8,111.9 92.5,111.1 93.1,110.7 93.8,110.7 94.4,111.3 95.1,116.2 95.7,119.2 96.4,121.9 97,124.1 97.7,126.4 98.3,128.9 99,130.3 99.6,131.7 100.3,132.8 100.9,133.8 101.6,135 102.2,135.8 102.9,137 103.5,138.4 104.2,139.3 104.9,140.4 105.5,140.9 106.2,142.1 106.8,142.1 107.5,143 108.1,143.5 108.8,144.6 109.4,145.6 110.1,146.3 110.7,147.5 111.4,148.1 112,148.8 112.7,149 113.3,149 114,149.3 114.6,149.8 115.3,150.6 115.9,151 116.6,152.4 117.2,152.4 117.9,153.3 118.5,152.8 119.2,153.6 119.8,154 120.5,154.5 121.2,154.6 121.8,154.9 122.5,155.2 123.1,155.4 123.8,155.7 124.4,155.8 125.1,156.5 125.7,157 126.4,157.6 127,158.1 127.7,158.9 128.3,159.2 129,159.4 129.6,159.3 130.3,159.4 130.9,159.3 131.6,159.1 132.2,159.1 132.9,160.5 133.5,161.1 133.5,161.4 134.2,129.7 134.8,120.9 135.5,118.1 136.1,117.7 136.8,117.1 137.5,117.2 138.1,116.4 138.8,116.1 139.4,115.3 140.1,115 140.7,114.3 141.4,114 142,113.6 142.7,113.7 143.3,114 144,114.2 144.6,114.5 145.3,114.2 145.9,114.3 146.6,114.1 147.2,113.6 147.9,113.4 148.5,112.9 149.2,112.8 149.8,112.8 150.5,113.4 151.1,113.2 151.8,113.2 152.4,112.8 153.1,112.7 153.8,112.3 154.4,112.1 155.1,112.3 155.7,112.1 156.4,111.6 157,111.4 157.7,111.7 158.3,112.2 159,112.3 159.6,112.3 160.3,111.8 160.9,111.6 161.6,111.3 162.2,111.8 162.9,111.8 163.5,111.8 164.2,111.5 164.8,112 165.5,111.3 166.1,111.2 166.8,111.3 167.4,111.9 168.1,111.4 168.7,110.8 169.4,110.3 170.1,110.6 170.7,110.6 171.4,111.4 172,111.6 172.7,111.7 173.3,115.6 174,118.8 174.6,121.2 175.3,123.3 175.9,125.5 176.6,127.5 177.2,129.1 177.9,130.5 178.5,131.6 179.2,132.9 179.8,134.2 180.5,135.6 181.1,137 181.8,138.4 182.4,139.5 183.1,140.5 183.7,140.7 184.4,141.2 185,142.1 185.7,142.9 186.4,144 187,144.4 187.7,145.3 188.3,145.8 189,147 189.6,147.5 190.3,148 190.9,148.4 191.6,149 192.2,150.1 192.9,150.5 193.5,150.9 194.2,150.8 194.8,151.5 195.5,152.2 196.1,152.9 196.8,152.9 197.4,153.9 198.1,154.6 198.7,155.3 199.4,154.8 200,154.8 200.7,155.3 201.3,155.4 202,155.7 202.7,155.6 203.3,156.6 204,157.3 204.6,158.3 205.3,158.2 205.9,158.5 206.6,158.8 207.2,159.4 207.9,159.5 208.5,160 209.2,160.3 209.8,160.4 210.5,160.2 211.1,160.9 211.8,160.6 211.8,161.1 212.4,128.9 213.1,120.4 213.7,116.8 214.4,115.8 215,115 215.7,115.3 216.3,114.9 217,115 217.6,114.5 218.3,115 219,114.6 219.6,114.8 220.3,114.2 220.9,114.6 221.6,114.3 222.2,114.2 222.9,114.1 223.5,114.1 224.2,114.2 224.8,113.3 225.5,113.3 226.1,112.4 226.8,112.5 227.4,112.2 228.1,112.3 228.7,111.9 229.4,112.3 230,112.7 230.7,112.6 231.3,112.7 232,112.3 232.6,112.6 233.3,112.1 233.9,111.9 234.6,111.6 235.3,111.3 235.9,111.8 236.6,112.4 237.2,112.2 237.9,112.1 238.5,111.9 239.2,112.4 239.8,112 240.5,112.1 241.1,111.7 241.8,111.4 242.4,111.1 243.1,111.2 243.7,111.6 244.4,111.4 245,111.9 245.7,111.6 246.3,111.7 247,111.5 247.6,111.7 248.3,111.8 248.9,111.3 249.6,110.9 250.2,110.6 250.9,111.1 251.6,115.2 252.2,118.9 252.9,121.2 253.5,123.1 254.2,124.6 254.8,126.4 255.5,127.7 256.1,129 256.8,130.6 257.4,131.4 258.1,132 258.7,132.2 259.4,133.8 260,135.3 260.7,136.4 261.3,137.1 262,137.6 262.6,138.5 263.3,138.9 263.9,139.5 264.6,140.1 265.2,141.1 265.9,142.3 266.5,142.4 267.2,142.8 267.9,142.8 268.5,144 269.2,144.6 269.8,145.3 270.5,145.8 271.1,145.7 271.8,145.5 272.4,146.1 273.1,147.1 273.7,147.7 274.4,148 275,148.3 275.7,148.3 276.3,148.5 277,148.5 277.6,149.8 278.3,149.7 278.9,150.1 279.6,149.7 280.2,150.2 280.9,150.9 281.5,151.5 282.2,151.4 282.8,151.9 283.5,152.4" fill="none" stroke="#2585e8" stroke-width="1.6" stroke-linejoin="round"/>
<rect x="49" y="5.7" width="234.4" height="179.5" fill="none" stroke="#2a2a2a" stroke-width="1.3"/>
<line x1="49" y1="95.5" x2="283.4" y2="95.5" stroke="#2a2a2a" stroke-width="1.2" />
<path d="M55.3 185.2L55.3 188.7M55.3 5.7L55.3 8.7M55.3 95.5L55.3 92.5M55.3 95.5L55.3 98.5M120.5 185.2L120.5 188.7M120.5 5.7L120.5 8.7M120.5 95.5L120.5 92.5M120.5 95.5L120.5 98.5M185.7 185.2L185.7 188.7M185.7 5.7L185.7 8.7M185.7 95.5L185.7 92.5M185.7 95.5L185.7 98.5M250.9 185.2L250.9 188.7M250.9 5.7L250.9 8.7M250.9 95.5L250.9 92.5M250.9 95.5L250.9 98.5M87.9 185.2L87.9 187.2M87.9 5.7L87.9 7.7M87.9 95.5L87.9 93.5M87.9 95.5L87.9 97.5M153.1 185.2L153.1 187.2M153.1 5.7L153.1 7.7M153.1 95.5L153.1 93.5M153.1 95.5L153.1 97.5M218.3 185.2L218.3 187.2M218.3 5.7L218.3 7.7M218.3 95.5L218.3 93.5M218.3 95.5L218.3 97.5M45 22.3L49 22.3M279.9 22.3L283.4 22.3M45 46.8L49 46.8M279.9 46.8L283.4 46.8M45 71.2L49 71.2M279.9 71.2L283.4 71.2M45 95.5L49 95.5M279.9 95.5L283.4 95.5M45 112.9L49 112.9M279.9 112.9L283.4 112.9M45 137L49 137M279.9 137L283.4 137M45 161.1L49 161.1M279.9 161.1L283.4 161.1M45 185.2L49 185.2M279.9 185.2L283.4 185.2M47 15L49 15M281.4 15L283.4 15M47 10.7L49 10.7M281.4 10.7L283.4 10.7M47 7.6L49 7.6M281.4 7.6L283.4 7.6M47 39.4L49 39.4M281.4 39.4L283.4 39.4M47 35.1L49 35.1M281.4 35.1L283.4 35.1M47 32L49 32M281.4 32L283.4 32M47 29.6L49 29.6M281.4 29.6L283.4 29.6M47 27.7L49 27.7M281.4 27.7L283.4 27.7M47 26.1L49 26.1M281.4 26.1L283.4 26.1M47 24.7L49 24.7M281.4 24.7L283.4 24.7M47 23.4L49 23.4M281.4 23.4L283.4 23.4M47 63.8L49 63.8M281.4 63.8L283.4 63.8M47 59.5L49 59.5M281.4 59.5L283.4 59.5M47 56.4L49 56.4M281.4 56.4L283.4 56.4M47 54L49 54M281.4 54L283.4 54M47 52.1L49 52.1M281.4 52.1L283.4 52.1M47 50.5L49 50.5M281.4 50.5L283.4 50.5M47 49.1L49 49.1M281.4 49.1L283.4 49.1M47 47.8L49 47.8M281.4 47.8L283.4 47.8M47 88.2L49 88.2M281.4 88.2L283.4 88.2M47 83.9L49 83.9M281.4 83.9L283.4 83.9M47 80.8L49 80.8M281.4 80.8L283.4 80.8M47 78.4L49 78.4M281.4 78.4L283.4 78.4M47 76.5L49 76.5M281.4 76.5L283.4 76.5M47 74.9L49 74.9M281.4 74.9L283.4 74.9M47 73.5L49 73.5M281.4 73.5L283.4 73.5M47 72.2L49 72.2M281.4 72.2L283.4 72.2M47 105.6L49 105.6M281.4 105.6L283.4 105.6M47 101.4L49 101.4M281.4 101.4L283.4 101.4M47 98.4L49 98.4M281.4 98.4L283.4 98.4M47 129.7L49 129.7M281.4 129.7L283.4 129.7M47 125.5L49 125.5M281.4 125.5L283.4 125.5M47 122.5L49 122.5M281.4 122.5L283.4 122.5M47 120.2L49 120.2M281.4 120.2L283.4 120.2M47 118.2L49 118.2M281.4 118.2L283.4 118.2M47 116.6L49 116.6M281.4 116.6L283.4 116.6M47 115.2L49 115.2M281.4 115.2L283.4 115.2M47 114L49 114M281.4 114L283.4 114M47 153.8L49 153.8M281.4 153.8L283.4 153.8M47 149.6L49 149.6M281.4 149.6L283.4 149.6M47 146.6L49 146.6M281.4 146.6L283.4 146.6M47 144.3L49 144.3M281.4 144.3L283.4 144.3M47 142.3L49 142.3M281.4 142.3L283.4 142.3M47 140.7L49 140.7M281.4 140.7L283.4 140.7M47 139.3L49 139.3M281.4 139.3L283.4 139.3M47 138.1L49 138.1M281.4 138.1L283.4 138.1M47 177.9L49 177.9M281.4 177.9L283.4 177.9M47 173.7L49 173.7M281.4 173.7L283.4 173.7M47 170.7L49 170.7M281.4 170.7L283.4 170.7M47 168.4L49 168.4M281.4 168.4L283.4 168.4M47 166.4L49 166.4M281.4 166.4L283.4 166.4M47 164.8L49 164.8M281.4 164.8L283.4 164.8M47 163.4L49 163.4M281.4 163.4L283.4 163.4M47 162.2L49 162.2M281.4 162.2L283.4 162.2" stroke="#2a2a2a" stroke-width="1.0" fill="none"/>
<text x="42.5" y="26.5" font-size="11.5" text-anchor="end" fill="#111" stroke="#111">10<tspan font-size="6.8" dy="-5.2">-7</tspan></text>
<text x="42.5" y="51" font-size="11.5" text-anchor="end" fill="#111" stroke="#111">10<tspan font-size="6.8" dy="-5.2">-8</tspan></text>
<text x="42.5" y="75.4" font-size="11.5" text-anchor="end" fill="#111" stroke="#111">10<tspan font-size="6.8" dy="-5.2">-9</tspan></text>
<text x="42.5" y="99.7" font-size="11.5" text-anchor="end" fill="#111" stroke="#111">10<tspan font-size="6.8" dy="-5.2">-10</tspan></text>
<text x="42.5" y="117.1" font-size="11.5" text-anchor="end" fill="#111" stroke="#111">10<tspan font-size="6.8" dy="-5.2">-7</tspan></text>
<text x="42.5" y="141.2" font-size="11.5" text-anchor="end" fill="#111" stroke="#111">10<tspan font-size="6.8" dy="-5.2">-8</tspan></text>
<text x="42.5" y="165.3" font-size="11.5" text-anchor="end" fill="#111" stroke="#111">10<tspan font-size="6.8" dy="-5.2">-9</tspan></text>
<text x="42.5" y="189.4" font-size="11.5" text-anchor="end" fill="#111" stroke="#111">10<tspan font-size="6.8" dy="-5.2">-10</tspan></text>
<text x="55.3" y="199.8" font-size="11.5" text-anchor="middle" font-weight="normal" fill="#111" stroke="#111" >0</text>
<text x="120.5" y="199.8" font-size="11.5" text-anchor="middle" font-weight="normal" fill="#111" stroke="#111" >100</text>
<text x="185.7" y="199.8" font-size="11.5" text-anchor="middle" font-weight="normal" fill="#111" stroke="#111" >200</text>
<text x="250.9" y="199.8" font-size="11.5" text-anchor="middle" font-weight="normal" fill="#111" stroke="#111" >300</text>
<text x="166" y="218.1" font-size="14.2" text-anchor="middle" font-weight="normal" fill="#111" stroke="#111" >Time (s)</text>
<text transform="translate(13,46.5) rotate(-90)" font-size="14.8" text-anchor="middle" fill="#111" stroke="#111">|I<tspan font-size="8" dy="3.8">d</tspan><tspan dy="-3.8"> (A)|</tspan></text>
<text transform="translate(13,139.5) rotate(-90)" font-size="14.8" text-anchor="middle" fill="#111" stroke="#111">I<tspan font-size="8" dy="3.8">d</tspan><tspan dy="-3.8"> (A)</tspan></text>
<text x="48.5" y="26.5" font-size="19.5" text-anchor="start" font-weight="normal" fill="#111" stroke="#111" >(a)</text>
<text x="105" y="19.7" font-size="14.5" text-anchor="start" font-weight="normal" fill="#111" stroke="#111" >Ambient pressure</text>
<text x="57.3" y="90.3" font-size="11.2" text-anchor="start" font-weight="normal" fill="#111" stroke="#111" >V</text>
<text x="65.3" y="94.6" font-size="7.5" text-anchor="start" font-weight="normal" fill="#111" stroke="#111" >ds</text>
<text x="75.8" y="90.3" font-size="11.2" text-anchor="start" font-weight="normal" fill="#111" stroke="#111" >= -5 V</text>
<text x="57.3" y="105.5" font-size="11.2" text-anchor="start" font-weight="normal" fill="#111" stroke="#111" >V</text>
<text x="65.3" y="109.8" font-size="7.5" text-anchor="start" font-weight="normal" fill="#111" stroke="#111" >ds</text>
<text x="75.8" y="105.5" font-size="11.2" text-anchor="start" font-weight="normal" fill="#111" stroke="#111" >= 5 V</text>
<text x="137" y="167.4" font-size="10.8" text-anchor="start" font-weight="normal" fill="#111" stroke="#111" >P</text>
<text x="143.6" y="171.4" font-size="7.2" text-anchor="start" font-weight="normal" fill="#111" stroke="#111" >inc</text>
<text x="156.3" y="169.2" font-size="10.8" text-anchor="start" font-weight="normal" fill="#111" stroke="#111" >(μW)</text>
<line x1="52.2" y1="179.6" x2="77.2" y2="179.6" stroke="#f25a5a" stroke-width="2.0" />
<text x="80" y="183.8" font-size="12" text-anchor="start" font-weight="normal" fill="#111" stroke="#111" >48</text>
<line x1="95" y1="179.6" x2="120" y2="179.6" stroke="#f7a070" stroke-width="2.0" />
<text x="122.7" y="183.8" font-size="12" text-anchor="start" font-weight="normal" fill="#111" stroke="#111" >95</text>
<line x1="137.4" y1="179.6" x2="163.4" y2="179.6" stroke="#f7e35a" stroke-width="2.0" />
<text x="165.2" y="183.8" font-size="12" text-anchor="start" font-weight="normal" fill="#111" stroke="#111" >145</text>
<line x1="186" y1="179.6" x2="212" y2="179.6" stroke="#5ee65e" stroke-width="2.0" />
<text x="214.5" y="183.8" font-size="12" text-anchor="start" font-weight="normal" fill="#111" stroke="#111" >193</text>
<line x1="235" y1="179.6" x2="262" y2="179.6" stroke="#4a96e6" stroke-width="2.0" />
<text x="264" y="183.8" font-size="12" text-anchor="start" font-weight="normal" fill="#111" stroke="#111" >241</text>
<polyline points="55.3,313 55.6,304.6 56,294.6 56.3,288.3 56.6,288.1 56.9,290.6 57.3,290.9 57.6,290 57.9,287.7 58.2,288.8 58.6,289.5 58.9,292.7 59.2,292.2 59.5,292.7 59.9,291.4 60.2,291.9 60.5,290.6 60.8,287.3 61.2,289.2 61.5,288.7 61.8,289.7 62.1,288.4 62.5,287.9 62.8,287.4 63.1,287 63.4,290.2 63.8,291.3 64.1,292.5 64.4,288.5 64.8,286.2 65.1,288 65.4,289.4 65.7,290 66.1,287.4 66.4,288.8 66.7,288.6 67,287.5 67.4,287.1 67.7,288.2 68,290.5 68.3,291.5 68.7,293.3 69,291.7 69.3,290.3 69.6,288.9 70,289.3 70.3,289.8 70.6,290.3 70.9,291.8 71.3,294.9 71.6,294.6 71.9,293.7 72.3,291.4 72.6,293 72.9,292.2 73.2,290.5 73.6,291 73.9,292.2 74.2,293.5 74.5,291.1 74.9,291.1 75.2,291.5 75.5,292.3 75.8,292.4 76.2,294.2 76.5,292 76.8,291.9 77.1,287.4 77.5,288.1 77.8,287 78.1,289.3 78.4,291.2 78.8,290 79.1,287.3 79.4,286.5 79.8,288.1 80.1,288.9 80.4,287.7 80.7,290 81.1,290 81.4,291.8 81.7,288.7 82,289.1 82.4,289.4 82.7,289.7 83,291.3 83.3,289.7 83.7,288.1 84,289.9 84.3,291.4 84.6,294.5 85,293.4 85.3,294.3 85.6,293.3 85.9,289.6 86.3,286.7 86.6,288 86.9,291 87.2,293.9 87.6,290.4 87.9,286.6 88.2,284.4 88.6,285 88.9,288.1 89.2,288.2 89.5,291.9 89.9,290.9 90.2,291.5 90.5,290.5 90.8,291.8 91.2,291.4 91.5,291.3 91.8,293.5 92.1,293 92.5,291.6 92.8,287.5 93.1,286.6 93.4,287.7 93.8,290.2 94.1,294.1 94.4,293.9 94.7,291.7 95.1,291.6 95.4,291.1 95.7,293 96,292.3 96.4,294.9 96.7,296.6 97,301.3 97.4,301.4 97.7,299.6 98,298.6 98.3,300 98.7,303 99,300.4 99.3,301.4 99.6,299.9 100,301.7 100.3,297 100.6,297.3 100.9,295.4 101.3,299.7 101.6,303.2 101.9,305.2 102.2,302 102.6,300.5 102.9,301.8 103.2,301.8 103.5,300.4 103.9,300 104.2,303.2 104.5,305 104.9,305.9 105.2,303.4 105.5,300 105.8,300 106.2,300.6 106.5,304 106.8,303.1 107.1,305.2 107.5,304.4 107.8,307 108.1,306.5 108.4,308.4 108.8,307.4 109.1,308.9 109.4,308.9 109.7,305.7 110.1,303.6 110.4,305.7 110.7,308.8 111,310.5 111.4,308.7 111.7,307.3 112,305.7 112.3,304.3 112.7,306.8 113,308.3 113.3,311.7 113.7,310.9 114,313.1 114.3,311.4 114.6,309.2 115,309 115.3,309 115.6,312.3 115.9,310.3 116.3,309.4 116.6,308.1 116.9,306.4 117.2,305.2 117.6,303.9 117.9,304.8 118.2,304.6 118.5,305.8 118.9,307 119.2,311.7 119.5,314.4 119.8,314 120.2,312.5 120.5,309.7 120.8,310.4 121.2,309.2 121.5,308.8 121.8,308.4 122.1,306.5 122.5,307.9 122.8,307.5 123.1,308.1 123.4,307.1 123.8,308.3 124.1,308.9 124.4,310.1 124.7,310.2 125.1,313.3 125.4,311.2 125.7,310.3 126,308.9 126.4,312.6 126.7,313.1 127,313.5 127.3,309.5 127.7,308.4 128,309.7 128.3,311.3 128.7,315.2 129,311.9 129.3,312 129.6,306.9 130,308.8 130.3,309.6 130.6,314.6 130.9,314 131.3,313.4 131.6,308.7 131.9,308.4 132.2,310.1 132.6,313.1 132.9,314.9 133.2,314.9 133.5,313.8 133.5,313 133.9,309.1 134.2,305.8 134.5,306.5 134.8,306.2 135.2,306.3 135.5,304.3 135.8,304 136.1,306.8 136.5,308.2 136.8,303.5 137.1,302.8 137.5,302.9 137.8,305.7 138.1,302.3 138.4,300.5 138.8,302.2 139.1,305.2 139.4,303.3 139.7,302.1 140.1,301.8 140.4,304.4 140.7,308 141,308.1 141.4,306.2 141.7,299.8 142,300.9 142.3,301.5 142.7,304.6 143,301.7 143.3,302.8 143.6,300.5 144,301.9 144.3,301.1 144.6,303.9 144.9,305.6 145.3,305.2 145.6,304.9 145.9,304.2 146.3,302.2 146.6,301.6 146.9,300.5 147.2,304 147.6,303.2 147.9,304.2 148.2,303.4 148.5,302.4 148.9,299.2 149.2,296.7 149.5,298.9 149.8,301.2 150.2,304.2 150.5,305.1 150.8,304.1 151.1,304.5 151.5,304.5 151.8,305.9 152.1,305.1 152.4,302.1 152.8,301.9 153.1,299.8 153.4,299.9 153.8,298.9 154.1,300.5 154.4,302.1 154.7,302.1 155.1,300.5 155.4,300.8 155.7,300.3 156,299.7 156.4,299.5 156.7,302.6 157,304 157.3,302.3 157.7,302.2 158,305.2 158.3,306.2 158.6,304 159,301.9 159.3,306.4 159.6,306.9 159.9,307.9 160.3,304.4 160.6,301.7 160.9,298.8 161.2,296.4 161.6,299.6 161.9,301.2 162.2,305.4 162.6,304.4 162.9,304.7 163.2,302.3 163.5,302.9 163.9,305.7 164.2,306 164.5,307.8 164.8,306.4 165.2,305.1 165.5,304 165.8,301.7 166.1,302.7 166.5,301.9 166.8,302.5 167.1,301.7 167.4,303.6 167.8,303.2 168.1,304.8 168.4,305 168.7,306.3 169.1,306.7 169.4,306.3 169.7,306.9 170.1,307.9 170.4,304 170.7,305.2 171,302.8 171.4,302.3 171.7,298.7 172,296.7 172.3,299.1 172.7,297.9 173,300.1 173.3,301.8 173.6,305.1 174,306.3 174.3,306.3 174.6,306.6 174.9,308.4 175.3,309.3 175.6,309.6 175.9,311.2 176.2,309.4 176.6,309.4 176.9,308.7 177.2,310.7 177.6,311 177.9,310.5 178.2,311.6 178.5,314.4 178.9,315 179.2,314.6 179.5,313.6 179.8,313.8 180.2,311.7 180.5,311.8 180.8,311.8 181.1,313.9 181.5,314.6 181.8,315.3 182.1,315.5 182.4,311.8 182.8,309.5 183.1,310.5 183.4,313.5 183.7,316.7 184.1,317.1 184.4,316.8 184.7,314.5 185,312.8 185.4,313.4 185.7,313.7 186,316.4 186.4,314.9 186.7,314.1 187,312.9 187.3,312.4 187.7,317.3 188,316.3 188.3,318.8 188.6,316.3 189,316.7 189.3,314.4 189.6,312.2 189.9,314.7 190.3,318.7 190.6,324.4 190.9,321.3 191.2,320.7 191.6,317.8 191.9,321.1 192.2,319.7 192.5,320.8 192.9,320.9 193.2,322.6 193.5,323.7 193.9,322.3 194.2,323.7 194.5,320.7 194.8,323.4 195.2,317.5 195.5,318.6 195.8,315.2 196.1,319.1 196.5,320.6 196.8,322.8 197.1,323 197.4,324 197.8,321 198.1,319.8 198.4,319.6 198.7,322.2 199.1,320.5 199.4,318.9 199.7,316.9 200,321.9 200.4,323.1 200.7,324.1 201,323.9 201.3,321.2 201.7,323.3 202,322.4 202.3,323.4 202.7,320.2 203,319 203.3,316.1 203.6,317.3 204,315.2 204.3,320.2 204.6,319.6 204.9,318.9 205.3,318.1 205.6,320 205.9,322.7 206.2,324.9 206.6,325.5 206.9,326.4 207.2,322.6 207.5,317.4 207.9,318.1 208.2,320.3 208.5,323.7 208.8,321.1 209.2,319.8 209.5,318.3 209.8,320.3 210.1,321.5 210.5,326 210.8,326.4 211.1,325.7 211.5,324.7 211.8,326.3 211.8,325.6 212.1,316.6 212.4,310.2 212.8,307 213.1,306.5 213.4,306.8 213.7,308.6 214.1,309.8 214.4,309.9 214.7,308.8 215,309.1 215.4,310.1 215.7,311.5 216,312.9 216.3,311.2 216.7,309.7 217,309.9 217.3,310.5 217.6,311.3 218,308.4 218.3,309.4 218.6,308.2 219,307.2 219.3,305.6 219.6,305.5 219.9,308 220.3,307.5 220.6,308.2 220.9,306.7 221.2,307.6 221.6,306.5 221.9,308.3 222.2,305.8 222.5,306.1 222.9,303.5 223.2,306.3 223.5,306.8 223.8,308.5 224.2,307 224.5,305.9 224.8,303.6 225.1,303.6 225.5,303.8 225.8,305.7 226.1,306.6 226.4,308.7 226.8,308.1 227.1,306.5 227.4,303.6 227.8,303.8 228.1,305.4 228.4,309.5 228.7,309.7 229.1,311.6 229.4,311.4 229.7,309.7 230,308.9 230.4,307.8 230.7,311.1 231,309.4 231.3,309.1 231.7,306.5 232,306.4 232.3,305.1 232.6,308.2 233,308 233.3,309.3 233.6,306.9 233.9,306.1 234.3,305.1 234.6,305.9 234.9,305.9 235.3,306.4 235.6,304.5 235.9,304.2 236.2,303.6 236.6,304.3 236.9,304.1 237.2,301.5 237.5,301.8 237.9,303.5 238.2,305.2 238.5,305.4 238.8,302.9 239.2,304.1 239.5,304.4 239.8,306.9 240.1,305.4 240.5,305 240.8,304.7 241.1,307.1 241.4,307.3 241.8,307.5 242.1,305 242.4,305.8 242.8,307.1 243.1,307.4 243.4,307 243.7,305.8 244.1,306.4 244.4,303.7 244.7,305.8 245,303.2 245.4,305.4 245.7,302.4 246,306.6 246.3,305.6 246.7,306.2 247,305.4 247.3,306.6 247.6,305.8 248,305.9 248.3,305.8 248.6,307.9 248.9,306.3 249.3,305.6 249.6,303.7 249.9,303.2 250.2,303.7 250.6,304.8 250.9,307.9 251.2,307.7 251.6,308.2 251.9,308.2 252.2,308.8 252.5,308.6 252.9,307.5 253.2,306.9 253.5,305.6 253.8,307.2 254.2,308.6 254.5,310 254.8,306.9 255.1,306.9 255.5,308.8 255.8,309.1 256.1,307.8 256.4,307.8 256.8,311.5 257.1,315 257.4,312.8 257.7,311.7 258.1,308.6 258.4,310.2 258.7,308.9 259.1,310.3 259.4,311.5 259.7,312.6 260,312 260.4,310.3 260.7,310.3 261,310 261.3,310.2 261.7,310.8 262,313.7 262.3,310.6 262.6,308.2 263,304.3 263.3,308.5 263.6,313.6 263.9,315.6 264.3,314.6 264.6,312.9 264.9,309.2 265.2,308.9 265.6,303 265.9,306.6 266.2,306.2 266.5,309.9 266.9,310.2 267.2,310.2 267.5,312.4 267.9,312 268.2,313.4 268.5,315.4 268.8,314.8 269.2,315.6 269.5,311 269.8,313.4 270.1,313.4 270.5,314.8 270.8,314.5 271.1,315.4 271.4,317.2 271.8,315.8 272.1,313.6 272.4,313.2 272.7,311.2 273.1,310.5 273.4,309.6 273.7,312.5 274,316 274.4,317.8 274.7,317.4 275,315.5 275.4,311.3 275.7,310.6 276,310.3 276.3,311.9 276.7,312.3 277,312.8 277.3,311.8 277.6,310.9 278,307.7 278.3,310.6 278.6,309.9 278.9,310.1 279.3,309.6 279.6,310.8 279.9,314.5 280.2,312.9 280.6,316.2 280.9,315.9 281.2,316.6 281.5,313.8 281.9,312.6 282.2,313.5 282.5,316.2 282.8,315.9 283.2,313.3 283.5,309.5" fill="none" stroke="#f01818" stroke-width="1.6" stroke-linejoin="round"/>
<polyline points="55.3,313 55.6,306.6 56,301.3 56.3,296.4 56.6,298.2 56.9,299.2 57.3,299.2 57.6,296.6 57.9,296.7 58.2,294.7 58.6,297.1 58.9,295.8 59.2,301.2 59.5,301.6 59.9,301 60.2,297.9 60.5,296.1 60.8,295.8 61.2,296.2 61.5,297.8 61.8,296.7 62.1,296.2 62.5,296.9 62.8,299.9 63.1,299.1 63.4,295.8 63.8,293.6 64.1,292.4 64.4,295.1 64.8,296.3 65.1,297.5 65.4,293.9 65.7,293.2 66.1,293.4 66.4,297.7 66.7,297.6 67,298.4 67.4,297.5 67.7,299 68,298.5 68.3,294 68.7,295 69,296 69.3,298.4 69.6,296.3 70,294.1 70.3,293.4 70.6,291.5 70.9,293.5 71.3,295.4 71.6,297.6 71.9,298 72.3,298 72.6,297.9 72.9,295.6 73.2,295.6 73.6,297.1 73.9,299.1 74.2,300 74.5,297.7 74.9,295.4 75.2,295.4 75.5,295.3 75.8,296.9 76.2,294.9 76.5,295.7 76.8,295 77.1,294.5 77.5,292 77.8,295 78.1,296 78.4,295.8 78.8,291.9 79.1,290 79.4,291.6 79.8,289.4 80.1,291.7 80.4,294.9 80.7,298.1 81.1,298.3 81.4,296.9 81.7,295.5 82,296.1 82.4,293 82.7,293.9 83,291.7 83.3,295.7 83.7,296.7 84,297 84.3,294.1 84.6,294.1 85,294.3 85.3,296.4 85.6,298.2 85.9,299.1 86.3,298.1 86.6,296 86.9,297.2 87.2,297.4 87.6,297.6 87.9,297.9 88.2,299.7 88.6,300.5 88.9,297.9 89.2,294.9 89.5,295.5 89.9,295.1 90.2,297.2 90.5,294.7 90.8,295.5 91.2,294.7 91.5,295.9 91.8,296.1 92.1,296.1 92.5,294.3 92.8,292.5 93.1,291.8 93.4,295.8 93.8,297.1 94.1,296 94.4,292.7 94.7,294.2 95.1,298.1 95.4,299.1 95.7,300.5 96,299.7 96.4,300.6 96.7,299 97,299 97.4,298.9 97.7,301.3 98,299.4 98.3,302.2 98.7,302.8 99,306.3 99.3,307.1 99.6,307.1 100,304.2 100.3,302.5 100.6,302.5 100.9,304.1 101.3,302.7 101.6,302.8 101.9,304.6 102.2,305.8 102.6,305 102.9,303.8 103.2,303.7 103.5,304.1 103.9,306.4 104.2,305.2 104.5,304.9 104.9,305.8 105.2,308.5 105.5,309.4 105.8,308.4 106.2,306.7 106.5,305 106.8,301.7 107.1,301.2 107.5,303.3 107.8,306.8 108.1,308.3 108.4,307.2 108.8,306.7 109.1,308.2 109.4,309.5 109.7,306.5 110.1,305 110.4,301.3 110.7,304.3 111,303.9 111.4,306.6 111.7,308.4 112,311.4 112.3,313.1 112.7,311.5 113,310 113.3,308.6 113.7,308.2 114,310.7 114.3,310.4 114.6,309.6 115,307.3 115.3,309.8 115.6,311.9 115.9,310.4 116.3,309.1 116.6,307.6 116.9,307.3 117.2,307.7 117.6,307.4 117.9,310.4 118.2,311 118.5,310.6 118.9,309.6 119.2,308.5 119.5,308.8 119.8,308.1 120.2,310.1 120.5,310.4 120.8,308.8 121.2,306.4 121.5,308.1 121.8,313.4 122.1,313.1 122.5,311.5 122.8,308.2 123.1,307.8 123.4,308.9 123.8,309.3 124.1,311.6 124.4,314.2 124.7,313.9 125.1,314.7 125.4,312.8 125.7,312.4 126,310.5 126.4,311.5 126.7,313.4 127,314.5 127.3,310.9 127.7,311.2 128,311.8 128.3,316.3 128.7,317.1 129,317.5 129.3,315 129.6,313.1 130,311.3 130.3,311.4 130.6,311.7 130.9,313.3 131.3,314.4 131.6,314.6 131.9,313 132.2,312.6 132.6,314.4 132.9,314 133.2,313.5 133.5,312.2 133.5,314 133.9,307.1 134.2,302.4 134.5,299.5 134.8,300 135.2,301.8 135.5,299.7 135.8,293.7 136.1,291.8 136.5,292.6 136.8,295.3 137.1,292.5 137.5,293.8 137.8,294.4 138.1,295.7 138.4,296.4 138.8,299.8 139.1,302.4 139.4,302.8 139.7,298.9 140.1,297.7 140.4,296 140.7,298.1 141,297.9 141.4,297.9 141.7,297 142,295.2 142.3,296.3 142.7,297.6 143,298 143.3,297.6 143.6,293.3 144,295 144.3,295.4 144.6,296.3 144.9,297.3 145.3,296.3 145.6,295.3 145.9,291 146.3,292 146.6,294 146.9,297.3 147.2,294 147.6,294.2 147.9,294 148.2,295.1 148.5,296.2 148.9,294.3 149.2,295.7 149.5,295.2 149.8,298.7 150.2,296.5 150.5,297.1 150.8,295.8 151.1,296 151.5,295 151.8,296.3 152.1,299.3 152.4,295.1 152.8,291.6 153.1,287.9 153.4,292.3 153.8,291.6 154.1,293.2 154.4,291.6 154.7,293 155.1,293.1 155.4,293 155.7,292.2 156,293.4 156.4,293.5 156.7,295.3 157,292.5 157.3,294.2 157.7,292.1 158,296.5 158.3,295.1 158.6,294.7 159,290.7 159.3,294.3 159.6,296 159.9,296.3 160.3,293.2 160.6,291 160.9,294.5 161.2,295.6 161.6,294.1 161.9,292.3 162.2,293 162.6,295.7 162.9,296.1 163.2,294.7 163.5,294.9 163.9,294.6 164.2,293.8 164.5,293.9 164.8,293.9 165.2,294.8 165.5,293.4 165.8,291.7 166.1,292.1 166.5,294.2 166.8,292.3 167.1,291.2 167.4,291.9 167.8,296.4 168.1,296.2 168.4,296.2 168.7,293.6 169.1,293.5 169.4,294.3 169.7,295 170.1,295.8 170.4,290.9 170.7,290.1 171,288.8 171.4,290.9 171.7,289.7 172,292.8 172.3,292.5 172.7,294.1 173,293.3 173.3,295.9 173.6,299.8 174,300.9 174.3,302.7 174.6,303.5 174.9,306.4 175.3,305.1 175.6,301.3 175.9,300.8 176.2,300.2 176.6,302.9 176.9,299.7 177.2,300.2 177.6,300.5 177.9,302.1 178.2,303.1 178.5,305.4 178.9,307.2 179.2,306.1 179.5,307.3 179.8,304.2 180.2,304.1 180.5,301.6 180.8,303.9 181.1,302.2 181.5,302.2 181.8,304.3 182.1,306.5 182.4,308.3 182.8,308 183.1,310.9 183.4,306.9 183.7,306.4 184.1,307.1 184.4,312 184.7,314 185,311.9 185.4,309.5 185.7,307 186,308.6 186.4,307.5 186.7,308.7 187,304.5 187.3,303.5 187.7,305.9 188,308.8 188.3,311.3 188.6,306 189,305.9 189.3,308.6 189.6,309.6 189.9,306.5 190.3,303.6 190.6,305 190.9,308 191.2,306.6 191.6,305.6 191.9,304.2 192.2,306.9 192.5,308.8 192.9,311.7 193.2,309.4 193.5,310.3 193.9,308.7 194.2,310.4 194.5,310.9 194.8,311.6 195.2,311.1 195.5,307.6 195.8,307.7 196.1,309.4 196.5,310.8 196.8,310.7 197.1,307.3 197.4,306.4 197.8,307.1 198.1,311.4 198.4,312.8 198.7,310 199.1,307.8 199.4,306.2 199.7,308.1 200,311.4 200.4,314 200.7,314.2 201,313 201.3,312.2 201.7,312.9 202,311.8 202.3,313 202.7,310.5 203,311.3 203.3,312 203.6,310.9 204,306.2 204.3,303.9 204.6,309.1 204.9,312.9 205.3,315.1 205.6,313.9 205.9,315.1 206.2,313.3 206.6,311.8 206.9,311.2 207.2,312.9 207.5,314.6 207.9,314.6 208.2,313.1 208.5,313.9 208.8,314.1 209.2,316.3 209.5,311.3 209.8,312.1 210.1,307.3 210.5,311.2 210.8,308.9 211.1,312.5 211.5,311.6 211.8,312.1 211.8,312.2 212.1,305.4 212.4,300.4 212.8,294.3 213.1,291.5 213.4,292.7 213.7,294.6 214.1,296.1 214.4,294.7 214.7,294.4 215,295.4 215.4,298.1 215.7,299.2 216,297.5 216.3,296.5 216.7,294.8 217,293.6 217.3,293.8 217.6,296.8 218,297.3 218.3,294.7 218.6,293.9 219,292.6 219.3,292.9 219.6,292.1 219.9,290.6 220.3,292.1 220.6,293.4 220.9,298.3 221.2,295.5 221.6,292.6 221.9,290 222.2,290.1 222.5,294.7 222.9,294.5 223.2,295.8 223.5,293.2 223.8,295.2 224.2,297.6 224.5,295.8 224.8,296.4 225.1,294.6 225.5,294.4 225.8,293.4 226.1,291.2 226.4,295.1 226.8,293.9 227.1,297.2 227.4,296.7 227.8,296.9 228.1,294.2 228.4,292.6 228.7,291.9 229.1,294.4 229.4,294.5 229.7,294.9 230,292.6 230.4,293.4 230.7,292.4 231,295.7 231.3,293.6 231.7,295.3 232,291.7 232.3,295 232.6,296.4 233,299.5 233.3,298.2 233.6,297.1 233.9,297.7 234.3,297.7 234.6,298.2 234.9,296.6 235.3,296.7 235.6,296.5 235.9,295.4 236.2,292.2 236.6,294.6 236.9,293 237.2,292.2 237.5,288.4 237.9,292.9 238.2,297.6 238.5,297.7 238.8,295.4 239.2,293.6 239.5,291.7 239.8,290.9 240.1,291.3 240.5,295.7 240.8,294.5 241.1,290.9 241.4,287.1 241.8,289.2 242.1,292.5 242.4,294.9 242.8,294.6 243.1,294 243.4,291.9 243.7,292.3 244.1,293.3 244.4,296 244.7,297.2 245,294.9 245.4,290.8 245.7,286.6 246,291.3 246.3,293.3 246.7,296.3 247,293.3 247.3,295.6 247.6,299.5 248,298.8 248.3,297.6 248.6,292.2 248.9,293.3 249.3,294.2 249.6,293.7 249.9,295.2 250.2,296.1 250.6,298.1 250.9,296.1 251.2,295.6 251.6,293.8 251.9,295.8 252.2,295.6 252.5,297.9 252.9,298.9 253.2,299.6 253.5,300 253.8,300.3 254.2,304.6 254.5,304.7 254.8,305.4 255.1,302.2 255.5,304 255.8,303.5 256.1,303.1 256.4,304.2 256.8,306.3 257.1,308.2 257.4,307.4 257.7,303.4 258.1,306.1 258.4,306 258.7,306 259.1,304.8 259.4,302.8 259.7,303.8 260,300 260.4,304.1 260.7,308.3 261,310.6 261.3,307.9 261.7,304.1 262,304.3 262.3,306.2 262.6,309.1 263,308.7 263.3,308.6 263.6,304.2 263.9,307.8 264.3,307.2 264.6,308.9 264.9,309 265.2,309.1 265.6,312.1 265.9,311.6 266.2,314.1 266.5,311.2 266.9,309.9 267.2,308.2 267.5,309.1 267.9,311.3 268.2,309.8 268.5,311.6 268.8,311.5 269.2,309.8 269.5,307.1 269.8,304.1 270.1,306.1 270.5,308.1 270.8,309.2 271.1,310.2 271.4,309 271.8,309.2 272.1,309.9 272.4,311.6 272.7,310.7 273.1,310 273.4,307.9 273.7,308.9 274,307.1 274.4,309.5 274.7,310.8 275,312.7 275.4,310.5 275.7,309 276,308.3 276.3,307.1 276.7,310.1 277,315.7 277.3,316.2 277.6,312.4 278,308.6 278.3,311.3 278.6,310.7 278.9,307.3 279.3,307.3 279.6,306.7 279.9,311.5 280.2,310.1 280.6,313 280.9,311.1 281.2,311.1 281.5,310.8 281.9,310.4 282.2,313 282.5,313.1 282.8,313.6 283.2,311.1 283.5,310.9" fill="none" stroke="#f57020" stroke-width="1.6" stroke-linejoin="round"/>
<polyline points="55.3,313 55.6,302.7 56,301.6 56.3,301.7 56.6,300.6 56.9,299.6 57.3,299.1 57.6,298.8 57.9,296 58.2,293 58.6,292.9 58.9,292.6 59.2,291.9 59.5,289.7 59.9,292.8 60.2,295.2 60.5,297.7 60.8,295.2 61.2,294.2 61.5,294.1 61.8,295.3 62.1,295.4 62.5,295.5 62.8,295.3 63.1,295.1 63.4,294.5 63.8,292 64.1,293.5 64.4,292.7 64.8,295.3 65.1,293.4 65.4,296.2 65.7,294.1 66.1,294 66.4,290.3 66.7,291.6 67,291.6 67.4,295.4 67.7,296.2 68,298.1 68.3,293.5 68.7,291.7 69,289.9 69.3,289.3 69.6,289.9 70,294 70.3,295.8 70.6,296.3 70.9,295 71.3,294.4 71.6,292.7 71.9,291.3 72.3,293.3 72.6,292.1 72.9,292 73.2,291.2 73.6,294.1 73.9,291.5 74.2,290.9 74.5,288.8 74.9,290.6 75.2,292.4 75.5,292.2 75.8,296.5 76.2,294.4 76.5,296.5 76.8,294.1 77.1,296.4 77.5,294.9 77.8,292.3 78.1,290.6 78.4,291.8 78.8,293.1 79.1,294.3 79.4,294.1 79.8,292.7 80.1,290.6 80.4,291.8 80.7,292.3 81.1,291.4 81.4,292 81.7,291.5 82,292.4 82.4,291.1 82.7,290.7 83,290.8 83.3,290.9 83.7,291.3 84,296 84.3,294.7 84.6,299.6 85,296.2 85.3,296.2 85.6,291.5 85.9,291 86.3,290.2 86.6,291.1 86.9,292.5 87.2,291.4 87.6,290.1 87.9,286.1 88.2,290 88.6,291.2 88.9,294.1 89.2,291.9 89.5,293.4 89.9,293.8 90.2,295.1 90.5,293.5 90.8,292.8 91.2,291.6 91.5,289.2 91.8,290.9 92.1,288.7 92.5,289.9 92.8,289.4 93.1,291.6 93.4,294.2 93.8,295.6 94.1,298.1 94.4,298.9 94.7,297.3 95.1,298.5 95.4,296.1 95.7,297 96,296.1 96.4,297.6 96.7,298.1 97,296.7 97.4,299.3 97.7,296.4 98,299.1 98.3,299 98.7,302.7 99,302 99.3,299.5 99.6,301.5 100,305.2 100.3,305.6 100.6,306.2 100.9,302.1 101.3,303.1 101.6,300.7 101.9,300.7 102.2,299.7 102.6,298.7 102.9,301.4 103.2,303.4 103.5,306.2 103.9,304.5 104.2,305.4 104.5,302.6 104.9,301 105.2,301.4 105.5,305.1 105.8,305 106.2,303.4 106.5,300.7 106.8,303.3 107.1,304.7 107.5,306.4 107.8,304.7 108.1,304.8 108.4,305 108.8,305 109.1,305.1 109.4,304.2 109.7,306.7 110.1,307.2 110.4,307.3 110.7,306.9 111,306.2 111.4,306.3 111.7,304.3 112,302 112.3,301.5 112.7,303.3 113,307.5 113.3,308.3 113.7,308.1 114,307 114.3,309 114.6,309.5 115,310.8 115.3,310.9 115.6,309.3 115.9,308.2 116.3,304 116.6,304.9 116.9,304.4 117.2,308.6 117.6,308.5 117.9,309.7 118.2,310.8 118.5,310.1 118.9,308.3 119.2,306.9 119.5,308.8 119.8,309.8 120.2,310.7 120.5,308.4 120.8,309.4 121.2,309.9 121.5,313.2 121.8,312.8 122.1,310.9 122.5,310 122.8,309.3 123.1,307.5 123.4,306.1 123.8,306.3 124.1,307.8 124.4,307.4 124.7,307.2 125.1,307.5 125.4,308.9 125.7,309.3 126,310.1 126.4,311.4 126.7,311.7 127,312.1 127.3,309.1 127.7,304.8 128,303.7 128.3,306.5 128.7,310.2 129,309.9 129.3,307.3 129.6,309 130,309.2 130.3,311.4 130.6,311.7 130.9,313.3 131.3,316.1 131.6,314.4 131.9,315.1 132.2,312.9 132.6,312.2 132.9,311 133.2,309.3 133.5,308.8 133.5,309.2 133.9,301.4 134.2,301.2 134.5,297.6 134.8,296.8 135.2,293.9 135.5,293.9 135.8,294.5 136.1,293.4 136.5,292.1 136.8,288.6 137.1,287.6 137.5,291.7 137.8,295.7 138.1,297.7 138.4,294.9 138.8,294 139.1,294.2 139.4,292.9 139.7,292 140.1,290.3 140.4,294 140.7,293.6 141,296.5 141.4,294 141.7,299.3 142,297.6 142.3,298.2 142.7,296.3 143,297.6 143.3,298.9 143.6,295.5 144,295.8 144.3,296.9 144.6,298.2 144.9,295.9 145.3,292 145.6,293.6 145.9,294.7 146.3,296.2 146.6,293 146.9,294.9 147.2,296.1 147.6,297.8 147.9,297.6 148.2,295 148.5,296.3 148.9,292.8 149.2,296.1 149.5,294.4 149.8,297.6 150.2,295 150.5,295.9 150.8,295.8 151.1,295.1 151.5,294.7 151.8,291.9 152.1,294.4 152.4,293.4 152.8,294 153.1,292.5 153.4,295 153.8,294.1 154.1,294.3 154.4,292.2 154.7,292.9 155.1,291.8 155.4,292 155.7,293.1 156,292 156.4,292.6 156.7,290.6 157,292.8 157.3,295.7 157.7,296 158,295.9 158.3,292.3 158.6,295 159,294.5 159.3,292.3 159.6,288.7 159.9,289.6 160.3,292.4 160.6,296.2 160.9,295.2 161.2,295.7 161.6,292.8 161.9,295.3 162.2,294.3 162.6,294.8 162.9,293.3 163.2,295.8 163.5,295.6 163.9,293.6 164.2,289.7 164.5,289.3 164.8,290.9 165.2,292.8 165.5,294.2 165.8,294.6 166.1,295.7 166.5,295.6 166.8,293.5 167.1,288.7 167.4,289.4 167.8,290.2 168.1,293.1 168.4,293.3 168.7,294.9 169.1,293 169.4,291.1 169.7,290.6 170.1,292.6 170.4,295.5 170.7,294.7 171,292 171.4,292.1 171.7,290.5 172,292 172.3,290.9 172.7,291.7 173,297.4 173.3,297.9 173.6,300.8 174,297.2 174.3,300.5 174.6,300.9 174.9,300.9 175.3,300 175.6,297.2 175.9,297.7 176.2,296.6 176.6,299.5 176.9,299.2 177.2,301.3 177.6,303.4 177.9,303.7 178.2,302.2 178.5,299.4 178.9,300.3 179.2,301.4 179.5,302.6 179.8,303.3 180.2,302.2 180.5,300.5 180.8,302.6 181.1,301.5 181.5,305.1 181.8,302.9 182.1,303.5 182.4,303.9 182.8,304.9 183.1,304.8 183.4,302.1 183.7,302.8 184.1,306.4 184.4,308.1 184.7,306.8 185,302.8 185.4,301.1 185.7,301.6 186,303.6 186.4,303.7 186.7,305.8 187,304.2 187.3,304.2 187.7,303.2 188,305.3 188.3,305.8 188.6,306.6 189,304 189.3,306.9 189.6,308.7 189.9,313.5 190.3,311.5 190.6,311.2 190.9,308.7 191.2,310.4 191.6,307.5 191.9,307.7 192.2,306.7 192.5,304.6 192.9,304.1 193.2,305.8 193.5,304.3 193.9,305.2 194.2,304.1 194.5,308.7 194.8,308.5 195.2,309.2 195.5,309.3 195.8,306.4 196.1,303.2 196.5,302.4 196.8,305.3 197.1,306.1 197.4,306.4 197.8,308.6 198.1,305.2 198.4,307 198.7,306 199.1,311 199.4,309.5 199.7,308.3 200,308 200.4,308.4 200.7,307.4 201,308 201.3,306.5 201.7,307.6 202,306 202.3,305.6 202.7,306.6 203,307 203.3,307 203.6,306.1 204,304.3 204.3,308 204.6,308.9 204.9,313.6 205.3,310.9 205.6,311.2 205.9,307.1 206.2,306.8 206.6,305.7 206.9,307.7 207.2,310.2 207.5,310 207.9,311 208.2,311.1 208.5,310.3 208.8,308.5 209.2,305.9 209.5,309.6 209.8,309.1 210.1,311.7 210.5,310.6 210.8,311 211.1,309.2 211.5,308.4 211.8,307.7 211.8,306.6 212.1,297.8 212.4,295.6 212.8,295.6 213.1,298.3 213.4,294.7 213.7,294.8 214.1,290.6 214.4,294.6 214.7,294.8 215,296.6 215.4,297 215.7,295.4 216,294.5 216.3,291 216.7,290.6 217,291.4 217.3,293.8 217.6,296.5 218,295.9 218.3,294 218.6,291.7 219,291.5 219.3,291.8 219.6,291.7 219.9,291.1 220.3,291.7 220.6,291.5 220.9,292.4 221.2,290.6 221.6,291.5 221.9,292.5 222.2,295.3 222.5,294.3 222.9,291.9 223.2,289.2 223.5,288.3 223.8,289 224.2,290.4 224.5,289.6 224.8,291.4 225.1,289.7 225.5,291.2 225.8,289.2 226.1,292.5 226.4,296 226.8,296.5 227.1,295 227.4,291.8 227.8,292.1 228.1,292.2 228.4,296.2 228.7,294.9 229.1,295 229.4,290.5 229.7,292.5 230,291.9 230.4,293.8 230.7,291.8 231,295.4 231.3,294.9 231.7,293.9 232,292 232.3,291 232.6,291.9 233,291.5 233.3,291.4 233.6,294.1 233.9,292.7 234.3,294.7 234.6,293.8 234.9,295.1 235.3,294 235.6,293.3 235.9,292.3 236.2,292.7 236.6,294.2 236.9,294.1 237.2,296.6 237.5,298 237.9,296.9 238.2,295.4 238.5,292.9 238.8,294.8 239.2,292.2 239.5,294.6 239.8,293.1 240.1,294.1 240.5,290.8 240.8,294.6 241.1,296.5 241.4,295.6 241.8,292.3 242.1,291.1 242.4,292.3 242.8,292.5 243.1,290.5 243.4,291.4 243.7,290.4 244.1,293 244.4,296 244.7,297 245,298.2 245.4,295.4 245.7,294.9 246,292.1 246.3,290.3 246.7,291.4 247,292.8 247.3,295.4 247.6,294.9 248,292.3 248.3,290.9 248.6,293.6 248.9,295.6 249.3,295.6 249.6,290.4 249.9,289.5 250.2,290.3 250.6,291.8 250.9,294.3 251.2,293.9 251.6,295 251.9,293.1 252.2,294.5 252.5,297.8 252.9,298.4 253.2,296.6 253.5,295.6 253.8,297.6 254.2,302.6 254.5,301.5 254.8,303.2 255.1,302.4 255.5,304.9 255.8,302.1 256.1,300.3 256.4,298.6 256.8,301.2 257.1,303 257.4,306.1 257.7,307.5 258.1,307.5 258.4,306.2 258.7,306.5 259.1,304.9 259.4,304.6 259.7,301.6 260,303.1 260.4,304.1 260.7,303.6 261,305.9 261.3,304 261.7,304.2 262,300.5 262.3,300.6 262.6,302.6 263,306 263.3,307.8 263.6,308.3 263.9,308.4 264.3,308 264.6,306.9 264.9,306.7 265.2,310.4 265.6,310 265.9,310.1 266.2,308.2 266.5,310.6 266.9,310.8 267.2,311.6 267.5,308.6 267.9,307.8 268.2,303.7 268.5,305.3 268.8,308.9 269.2,312 269.5,312.3 269.8,309.6 270.1,309.5 270.5,307.7 270.8,306.5 271.1,306.1 271.4,308.3 271.8,308.1 272.1,308.3 272.4,307.2 272.7,306.6 273.1,306 273.4,305.9 273.7,309 274,311.8 274.4,313.8 274.7,312.4 275,309.9 275.4,307 275.7,306.7 276,309.7 276.3,313.5 276.7,314.6 277,312.2 277.3,310.7 277.6,311 278,311.4 278.3,312.1 278.6,310.5 278.9,310.6 279.3,309.6 279.6,312.2 279.9,310.5 280.2,312.9 280.6,311.3 280.9,312.4 281.2,310.7 281.5,311.1 281.9,311.5 282.2,312.1 282.5,311.2 282.8,309.3 283.2,309.7 283.5,309.9" fill="none" stroke="#f0e41a" stroke-width="1.6" stroke-linejoin="round"/>
<polyline points="55.3,313 55.6,304.2 56,295.3 56.3,291.5 56.6,288.3 56.9,290.9 57.3,291.7 57.6,294 57.9,291.6 58.2,288.4 58.6,284.7 58.9,287.1 59.2,288 59.5,288.9 59.9,288.6 60.2,289.2 60.5,291.7 60.8,290.2 61.2,288 61.5,285.4 61.8,284.6 62.1,286 62.5,287.6 62.8,291.2 63.1,291.2 63.4,290.7 63.8,287 64.1,288.8 64.4,289.4 64.8,291.4 65.1,287.9 65.4,286.3 65.7,287.2 66.1,287.3 66.4,289.6 66.7,289.6 67,290.4 67.4,287.4 67.7,287.1 68,289.6 68.3,290.7 68.7,288.4 69,288 69.3,289.4 69.6,290.3 70,290.5 70.3,289.9 70.6,291.4 70.9,289.2 71.3,288.6 71.6,288.2 71.9,287.7 72.3,286.2 72.6,285.2 72.9,288.1 73.2,292.1 73.6,295.8 73.9,295.5 74.2,296.2 74.5,293.6 74.9,291.6 75.2,290 75.5,288.4 75.8,290 76.2,288.8 76.5,290.5 76.8,288.3 77.1,288.7 77.5,289.7 77.8,290.6 78.1,289.9 78.4,288.9 78.8,290.4 79.1,291.1 79.4,289.1 79.8,285.8 80.1,284.2 80.4,287.3 80.7,289.3 81.1,291.8 81.4,291.8 81.7,292.4 82,292.4 82.4,290.2 82.7,287.6 83,287.8 83.3,288.4 83.7,291.4 84,289.1 84.3,289 84.6,291 85,291.4 85.3,291.7 85.6,290.7 85.9,291.5 86.3,291.6 86.6,286.9 86.9,288.2 87.2,287.5 87.6,292.1 87.9,291 88.2,291.1 88.6,289.9 88.9,289.7 89.2,289.5 89.5,291 89.9,292.7 90.2,293.6 90.5,292.6 90.8,292.4 91.2,293 91.5,292 91.8,291 92.1,290.7 92.5,291.4 92.8,291.8 93.1,290.5 93.4,289.6 93.8,289.8 94.1,289.2 94.4,289.3 94.7,291.9 95.1,295.1 95.4,296.1 95.7,296.1 96,296.1 96.4,298.6 96.7,298.9 97,297.9 97.4,295.5 97.7,297 98,300 98.3,301.5 98.7,299.7 99,299.6 99.3,299.5 99.6,300.7 100,301.3 100.3,301.7 100.6,303.3 100.9,302.6 101.3,303.3 101.6,302.8 101.9,306.1 102.2,309.1 102.6,310.9 102.9,308.2 103.2,306.2 103.5,306.4 103.9,308.7 104.2,306.7 104.5,305.6 104.9,303.6 105.2,307.1 105.5,308.2 105.8,308.7 106.2,310.7 106.5,309.7 106.8,313.9 107.1,310.9 107.5,311.3 107.8,310.7 108.1,310.3 108.4,309.9 108.8,309.5 109.1,310.3 109.4,311.7 109.7,308.2 110.1,310.8 110.4,311.6 110.7,313.9 111,312.5 111.4,310.6 111.7,309.6 112,306.6 112.3,307.9 112.7,310.4 113,313.8 113.3,314.6 113.7,314 114,311.7 114.3,308.8 114.6,308.8 115,310.4 115.3,313.6 115.6,312.5 115.9,311.1 116.3,310.5 116.6,310.1 116.9,309.3 117.2,307.9 117.6,307.6 117.9,308.3 118.2,308.5 118.5,311.1 118.9,315.8 119.2,319 119.5,317.2 119.8,315.7 120.2,313.4 120.5,314.5 120.8,312.2 121.2,312.2 121.5,309.5 121.8,312.9 122.1,312.1 122.5,315.2 122.8,312 123.1,313.5 123.4,311.2 123.8,311.5 124.1,312.5 124.4,314.9 124.7,312.9 125.1,312.9 125.4,310.4 125.7,313.4 126,313.1 126.4,314 126.7,313.2 127,312.2 127.3,313.7 127.7,315.5 128,317.7 128.3,317.6 128.7,319.1 129,316.1 129.3,318.1 129.6,315.1 130,317.5 130.3,315 130.6,315.5 130.9,313.3 131.3,314 131.6,316.7 131.9,318.3 132.2,317.8 132.6,315.1 132.9,315.9 133.2,315.7 133.5,315.7 133.5,315.1 133.9,305.1 134.2,300 134.5,294.9 134.8,290.6 135.2,288.4 135.5,290.6 135.8,292.5 136.1,292.2 136.5,293.9 136.8,292.5 137.1,294.7 137.5,293.8 137.8,296.2 138.1,294.6 138.4,293.6 138.8,289.5 139.1,286.8 139.4,285.3 139.7,288.4 140.1,292.3 140.4,293 140.7,293.5 141,292.9 141.4,295.1 141.7,291.6 142,289.8 142.3,286.5 142.7,287.4 143,290.8 143.3,290.9 143.6,291.2 144,288.5 144.3,290.9 144.6,291.5 144.9,293.1 145.3,292.7 145.6,292.4 145.9,288.3 146.3,286.4 146.6,285.6 146.9,291 147.2,291.4 147.6,291.6 147.9,289.9 148.2,291 148.5,291.3 148.9,292.3 149.2,293.5 149.5,295.1 149.8,292.6 150.2,290.2 150.5,287.2 150.8,288.7 151.1,290.5 151.5,292 151.8,291.5 152.1,295.5 152.4,295.3 152.8,292.9 153.1,289.3 153.4,290.2 153.8,291.9 154.1,292 154.4,292.4 154.7,294.4 155.1,294.3 155.4,296.1 155.7,294.9 156,291.3 156.4,291.5 156.7,289 157,293.4 157.3,292 157.7,292.5 158,291.2 158.3,292 158.6,292.5 159,292.5 159.3,290.3 159.6,290.4 159.9,289.5 160.3,292.2 160.6,294.5 160.9,295.3 161.2,293.5 161.6,292.8 161.9,293.2 162.2,293.6 162.6,291.1 162.9,291.9 163.2,290.5 163.5,289.4 163.9,289.1 164.2,288.7 164.5,292 164.8,290.9 165.2,291.7 165.5,292.7 165.8,292.4 166.1,292.9 166.5,290.8 166.8,290.9 167.1,289.8 167.4,291.2 167.8,293.4 168.1,296.2 168.4,296.7 168.7,293.1 169.1,293.1 169.4,293.8 169.7,298.5 170.1,294.1 170.4,292.8 170.7,289.6 171,294.1 171.4,292.6 171.7,292.5 172,294.1 172.3,296.9 172.7,294.8 173,293.6 173.3,295.5 173.6,298.3 174,300 174.3,299.1 174.6,298.7 174.9,297.6 175.3,299.6 175.6,303.6 175.9,304.1 176.2,304.6 176.6,302.4 176.9,303.9 177.2,302.7 177.6,302.2 177.9,302.6 178.2,302.3 178.5,300.7 178.9,299.4 179.2,299 179.5,301.8 179.8,301.8 180.2,302.2 180.5,300.3 180.8,303 181.1,304.3 181.5,308.1 181.8,306.7 182.1,306.8 182.4,306.3 182.8,305.3 183.1,303.4 183.4,304 183.7,307 184.1,309.5 184.4,311.7 184.7,308.6 185,308 185.4,305.1 185.7,308.8 186,311.6 186.4,311.9 186.7,311.4 187,308.8 187.3,308.3 187.7,307.2 188,306.2 188.3,309.8 188.6,310.8 189,314 189.3,312.5 189.6,308.5 189.9,308.1 190.3,307.9 190.6,307.9 190.9,307 191.2,308.4 191.6,314.1 191.9,312.6 192.2,312.3 192.5,310.6 192.9,311.9 193.2,310.5 193.5,310.8 193.9,311.9 194.2,313.3 194.5,312.1 194.8,309.6 195.2,310.6 195.5,313 195.8,314.1 196.1,312.3 196.5,311.7 196.8,310.2 197.1,311 197.4,313.2 197.8,316 198.1,314.4 198.4,314.1 198.7,313.8 199.1,315.1 199.4,311.8 199.7,312.1 200,309.4 200.4,308.3 200.7,306.1 201,309.8 201.3,311.5 201.7,315.2 202,311.2 202.3,310.6 202.7,311 203,312.7 203.3,311.1 203.6,308.2 204,308.9 204.3,311.4 204.6,314.2 204.9,316.6 205.3,318.7 205.6,317.8 205.9,315.4 206.2,312.7 206.6,309.9 206.9,312.4 207.2,314.8 207.5,317 207.9,314.1 208.2,313.4 208.5,313.9 208.8,315.4 209.2,313 209.5,312.7 209.8,311.7 210.1,314.4 210.5,314.9 210.8,316.3 211.1,314.8 211.5,316.1 211.8,316.6 211.8,318.9 212.1,309.3 212.4,304.6 212.8,301 213.1,297.2 213.4,293.3 213.7,291.3 214.1,293.5 214.4,297.3 214.7,298.9 215,298.3 215.4,299.6 215.7,299 216,296.6 216.3,292.1 216.7,292.4 217,295.8 217.3,299.1 217.6,299.3 218,299.6 218.3,298.6 218.6,298.1 219,296.6 219.3,297.7 219.6,300.1 219.9,299.2 220.3,297 220.6,295.9 220.9,300.4 221.2,300.3 221.6,298.5 221.9,296.2 222.2,298.6 222.5,299.6 222.9,299.1 223.2,299.1 223.5,297.6 223.8,297.7 224.2,297.9 224.5,301.6 224.8,303.3 225.1,302.5 225.5,299.3 225.8,299.6 226.1,300.8 226.4,302 226.8,301.7 227.1,302.1 227.4,302.8 227.8,298.2 228.1,296.3 228.4,295.5 228.7,297.6 229.1,298.1 229.4,297.7 229.7,299.4 230,302.2 230.4,302.1 230.7,303.1 231,299.8 231.3,302.2 231.7,300.6 232,303.1 232.3,301.5 232.6,302.7 233,299.9 233.3,301.2 233.6,300.2 233.9,302.8 234.3,300.4 234.6,298.6 234.9,299 235.3,301.7 235.6,305.9 235.9,302.6 236.2,302.4 236.6,301 236.9,304.8 237.2,304.4 237.5,303 237.9,301.7 238.2,301.6 238.5,301.2 238.8,301.3 239.2,298.9 239.5,298.5 239.8,299.4 240.1,301.4 240.5,302.3 240.8,301 241.1,303.2 241.4,304.4 241.8,302.6 242.1,300.3 242.4,301 242.8,302.2 243.1,302.1 243.4,301.9 243.7,303.6 244.1,307.4 244.4,304.8 244.7,302.3 245,298.4 245.4,300.4 245.7,300.7 246,303.2 246.3,299 246.7,301 247,298.6 247.3,301.9 247.6,301.4 248,302.6 248.3,301.6 248.6,302.8 248.9,303.4 249.3,304.1 249.6,302.4 249.9,300.1 250.2,299.1 250.6,298.4 250.9,300.4 251.2,304.9 251.6,306.2 251.9,305.4 252.2,304.3 252.5,308.6 252.9,311.9 253.2,314 253.5,314.2 253.8,315.2 254.2,316.3 254.5,314.5 254.8,315.8 255.1,317.4 255.5,320.9 255.8,320.3 256.1,319.5 256.4,316.8 256.8,315.8 257.1,317.3 257.4,318.8 257.7,320.9 258.1,321.5 258.4,320 258.7,319.2 259.1,317.6 259.4,320 259.7,318.7 260,319.5 260.4,317.9 260.7,319.1 261,319.8 261.3,323.2 261.7,323.9 262,322.5 262.3,320.2 262.6,321.8 263,324.7 263.3,325.6 263.6,327.5 263.9,328.4 264.3,328.4 264.6,327.6 264.9,324.4 265.2,324.2 265.6,321.6 265.9,323.8 266.2,326.3 266.5,327 266.9,329 267.2,325.6 267.5,328.3 267.9,324 268.2,324.4 268.5,324 268.8,326.3 269.2,327.8 269.5,326.5 269.8,327 270.1,326.7 270.5,325.5 270.8,325 271.1,325.5 271.4,325.8 271.8,326.9 272.1,329.2 272.4,328.3 272.7,327.1 273.1,324.4 273.4,326.8 273.7,327.8 274,327.3 274.4,327.3 274.7,327.3 275,328.2 275.4,330.5 275.7,330.7 276,329 276.3,324.9 276.7,325.6 277,327.2 277.3,328.6 277.6,326 278,326.2 278.3,327 278.6,328 278.9,328 279.3,329.4 279.6,331.5 279.9,332.8 280.2,331.4 280.6,328.6 280.9,329 281.2,331.3 281.5,335 281.9,335.6 282.2,334 282.5,332.9 282.8,331.4 283.2,332.7 283.5,333.1" fill="none" stroke="#22dd22" stroke-width="1.6" stroke-linejoin="round"/>
<polyline points="55.3,316 55.6,308.3 56,302.2 56.3,296.1 56.6,291.1 56.9,289.5 57.3,288.6 57.6,293.7 57.9,293.4 58.2,294.9 58.6,291.6 58.9,292.2 59.2,291.7 59.5,288.9 59.9,290.5 60.2,292.2 60.5,295.3 60.8,293.9 61.2,291.4 61.5,291.8 61.8,291.2 62.1,291.1 62.5,290.8 62.8,291 63.1,291.3 63.4,291 63.8,292.4 64.1,290.5 64.4,289.3 64.8,287.7 65.1,290.6 65.4,291.7 65.7,290 66.1,286.6 66.4,288.8 66.7,291.5 67,291.5 67.4,287.6 67.7,287.3 68,290.9 68.3,294.3 68.7,293.6 69,291.2 69.3,291.6 69.6,290.8 70,293.3 70.3,291.1 70.6,292.5 70.9,292.1 71.3,292.3 71.6,291 71.9,287.2 72.3,286.5 72.6,288.3 72.9,292.2 73.2,288.6 73.6,289.7 73.9,288.7 74.2,294.3 74.5,293.5 74.9,293 75.2,291.5 75.5,290.9 75.8,289.8 76.2,289 76.5,288.6 76.8,288.9 77.1,287 77.5,284.9 77.8,286.2 78.1,288.8 78.4,290.9 78.8,288.6 79.1,289.1 79.4,288.4 79.8,287.1 80.1,288.1 80.4,286.6 80.7,292.4 81.1,291 81.4,292.4 81.7,286.2 82,284.5 82.4,287.1 82.7,292.1 83,293.4 83.3,289.1 83.7,286.7 84,286 84.3,288.9 84.6,289.3 85,290.1 85.3,287.3 85.6,286.6 85.9,288 86.3,288.2 86.6,290.3 86.9,291.5 87.2,294.4 87.6,291.2 87.9,289.8 88.2,286.4 88.6,288.7 88.9,286.5 89.2,290.6 89.5,291.8 89.9,292.6 90.2,293.4 90.5,293.1 90.8,292.2 91.2,288.4 91.5,290.4 91.8,290.5 92.1,292.4 92.5,288.9 92.8,288.8 93.1,286.1 93.4,286 93.8,286.5 94.1,290 94.4,289.5 94.7,288.3 95.1,286.2 95.4,287.5 95.7,290.6 96,293.6 96.4,293.7 96.7,294.5 97,294.2 97.4,297.5 97.7,297.1 98,297.5 98.3,296.3 98.7,298.4 99,297.3 99.3,296.3 99.6,294.6 100,293.2 100.3,295.9 100.6,298 100.9,301.2 101.3,304.3 101.6,304.8 101.9,307.8 102.2,305.6 102.6,305.4 102.9,300.9 103.2,301.1 103.5,300.7 103.9,301.2 104.2,299.4 104.5,300 104.9,303.2 105.2,303.5 105.5,302 105.8,301.9 106.2,300.8 106.5,301.6 106.8,301.7 107.1,301 107.5,301.8 107.8,298.2 108.1,299.1 108.4,297.1 108.8,299.8 109.1,302.1 109.4,303.9 109.7,305.4 110.1,304.7 110.4,304.6 110.7,304.2 111,303.9 111.4,304.5 111.7,305.3 112,305 112.3,306.5 112.7,303.8 113,304.3 113.3,300.6 113.7,301.5 114,304 114.3,307 114.6,309.5 115,305.5 115.3,303.7 115.6,302.8 115.9,306 116.3,308.6 116.6,305.8 116.9,305.5 117.2,304.4 117.6,306.9 117.9,306.9 118.2,306.8 118.5,304.4 118.9,302.4 119.2,300.9 119.5,301.5 119.8,302.9 120.2,306.7 120.5,307.6 120.8,306.9 121.2,303.6 121.5,302.3 121.8,303.5 122.1,304.5 122.5,306.6 122.8,305.3 123.1,306.7 123.4,305.5 123.8,307.6 124.1,306.1 124.4,308.9 124.7,307 125.1,308.6 125.4,308.2 125.7,309.4 126,311.1 126.4,310.8 126.7,309.8 127,308.6 127.3,307.3 127.7,307.9 128,307 128.3,308.5 128.7,311.6 129,309.3 129.3,308.8 129.6,308 130,310.2 130.3,311.1 130.6,311.7 130.9,310.3 131.3,310 131.6,309.1 131.9,310 132.2,307.6 132.6,305.3 132.9,306.4 133.2,309.1 133.5,313 133.5,314.6 133.9,302.4 134.2,296 134.5,292.6 134.8,295.4 135.2,292.9 135.5,290.4 135.8,288.2 136.1,290.3 136.5,291.8 136.8,293.8 137.1,292.7 137.5,291 137.8,287.3 138.1,288.7 138.4,287.5 138.8,288.3 139.1,285.3 139.4,286.1 139.7,285.8 140.1,286.2 140.4,290.6 140.7,291.2 141,290.5 141.4,287.4 141.7,288.8 142,288.3 142.3,287.6 142.7,283.9 143,285.9 143.3,287.4 143.6,291.8 144,289.2 144.3,291.2 144.6,290.3 144.9,291.5 145.3,288 145.6,286.4 145.9,285.1 146.3,286.7 146.6,286.2 146.9,286.9 147.2,286.5 147.6,287.5 147.9,287.7 148.2,286.6 148.5,285.8 148.9,288.4 149.2,290 149.5,289.7 149.8,287.8 150.2,288.3 150.5,288.9 150.8,291.3 151.1,290.1 151.5,291.4 151.8,286.1 152.1,286.6 152.4,286.2 152.8,289.8 153.1,289.3 153.4,289.5 153.8,288 154.1,288.6 154.4,287.9 154.7,287.2 155.1,284.6 155.4,284.7 155.7,286.6 156,285 156.4,281.9 156.7,282.9 157,285.8 157.3,292.5 157.7,289 158,288.7 158.3,284 158.6,286.8 159,289.1 159.3,292.1 159.6,289.9 159.9,289.7 160.3,285.8 160.6,287.6 160.9,286.1 161.2,288.6 161.6,287.1 161.9,288.7 162.2,287.8 162.6,288.8 162.9,286.6 163.2,285.3 163.5,286.3 163.9,287.1 164.2,289.2 164.5,290.7 164.8,289.1 165.2,288 165.5,285.5 165.8,287.9 166.1,288 166.5,289.3 166.8,288.7 167.1,286.6 167.4,284.4 167.8,281 168.1,283 168.4,283.3 168.7,286.9 169.1,287.5 169.4,288 169.7,288.9 170.1,289.5 170.4,287.9 170.7,285.2 171,284.8 171.4,288.8 171.7,289.5 172,288.8 172.3,286.9 172.7,288.2 173,289.3 173.3,290.3 173.6,289.6 174,289.8 174.3,289 174.6,291.2 174.9,291.9 175.3,294.3 175.6,294.6 175.9,297.2 176.2,293.3 176.6,292 176.9,289.5 177.2,293.4 177.6,296.2 177.9,301.8 178.2,304.5 178.5,305.7 178.9,303.1 179.2,300.8 179.5,300.1 179.8,296.9 180.2,299.1 180.5,298.7 180.8,302.8 181.1,300.4 181.5,299.2 181.8,297.8 182.1,299.4 182.4,301.7 182.8,302.3 183.1,303.1 183.4,303.8 183.7,303 184.1,302.6 184.4,299.8 184.7,300.9 185,302.5 185.4,303.9 185.7,307.4 186,307 186.4,309.4 186.7,307.3 187,308 187.3,308.4 187.7,308.6 188,306.9 188.3,304.9 188.6,307.5 189,308.2 189.3,308.5 189.6,305.1 189.9,303.2 190.3,303.3 190.6,304.9 190.9,306.7 191.2,306.5 191.6,306.8 191.9,308.2 192.2,308.8 192.5,308.8 192.9,307 193.2,309 193.5,307.3 193.9,308.4 194.2,307.5 194.5,308.4 194.8,307.5 195.2,310.3 195.5,313.1 195.8,312.4 196.1,309.8 196.5,306.2 196.8,309.1 197.1,307.3 197.4,309.9 197.8,310.4 198.1,314.6 198.4,315.6 198.7,314.3 199.1,313.4 199.4,311.3 199.7,311.9 200,310 200.4,308.3 200.7,309.4 201,307.5 201.3,309.7 201.7,309.7 202,312.7 202.3,311 202.7,309.5 203,310.4 203.3,314.1 203.6,317.3 204,314 204.3,313.2 204.6,310.5 204.9,314.1 205.3,311.3 205.6,311.8 205.9,311.8 206.2,313.4 206.6,313.2 206.9,311 207.2,313.5 207.5,312.2 207.9,312.4 208.2,310.5 208.5,312 208.8,316.2 209.2,317.1 209.5,316.5 209.8,314.5 210.1,314.7 210.5,316.3 210.8,315.5 211.1,315.8 211.5,313.9 211.8,312.4 211.8,311.2 212.1,300.4 212.4,297.2 212.8,297.2 213.1,298.7 213.4,297.3 213.7,294.6 214.1,291.6 214.4,289 214.7,289.1 215,287.8 215.4,289.9 215.7,288.9 216,291.8 216.3,291.4 216.7,291.6 217,289.7 217.3,287.2 217.6,286.5 218,288.1 218.3,291.8 218.6,294.1 219,291.7 219.3,288.9 219.6,287.9 219.9,288.6 220.3,293.3 220.6,292.7 220.9,291.2 221.2,286.9 221.6,288.5 221.9,288 222.2,289 222.5,284.9 222.9,289.5 223.2,288.6 223.5,289 223.8,284.5 224.2,284.1 224.5,281.9 224.8,283.6 225.1,287.5 225.5,291.1 225.8,291.3 226.1,286.7 226.4,287 226.8,286.6 227.1,287 227.4,288.4 227.8,289.6 228.1,289.5 228.4,289.6 228.7,288.9 229.1,290.8 229.4,288.9 229.7,290.6 230,290.7 230.4,290 230.7,289.3 231,287.9 231.3,288.5 231.7,289.8 232,288.8 232.3,287.2 232.6,284.4 233,285.1 233.3,288.3 233.6,286.6 233.9,290.4 234.3,290.8 234.6,292.3 234.9,289.4 235.3,286.8 235.6,288.3 235.9,288.9 236.2,290.4 236.6,290.5 236.9,292.2 237.2,290.9 237.5,290.8 237.9,287.9 238.2,288.2 238.5,287.5 238.8,287.7 239.2,288.1 239.5,286.6 239.8,286.4 240.1,285.1 240.5,284.7 240.8,283.9 241.1,284.1 241.4,285.4 241.8,284.3 242.1,284.6 242.4,283.2 242.8,284.2 243.1,284.8 243.4,287.9 243.7,289.4 244.1,288.4 244.4,286.3 244.7,287.7 245,286.2 245.4,288.3 245.7,284.4 246,285.8 246.3,284.3 246.7,286 247,289.1 247.3,289.7 247.6,290 248,289 248.3,288.3 248.6,287.3 248.9,287.5 249.3,289.5 249.6,292.4 249.9,289.2 250.2,289.8 250.6,287.4 250.9,290.1 251.2,290 251.6,294.6 251.9,292 252.2,289.7 252.5,288.6 252.9,292.1 253.2,293.6 253.5,288.5 253.8,288.9 254.2,289.6 254.5,290.4 254.8,293.9 255.1,291.1 255.5,294.3 255.8,291 256.1,295.1 256.4,297.3 256.8,297.2 257.1,296 257.4,294.8 257.7,292.5 258.1,292.5 258.4,296 258.7,298.2 259.1,299.9 259.4,300 259.7,302.7 260,303.2 260.4,301.8 260.7,300.2 261,299 261.3,299.6 261.7,300.4 262,304 262.3,302.5 262.6,302 263,300.5 263.3,300.8 263.6,301 263.9,299.5 264.3,300.3 264.6,301.4 264.9,305.3 265.2,305 265.6,302.4 265.9,300.6 266.2,304 266.5,305.9 266.9,304.4 267.2,301.1 267.5,298 267.9,298.8 268.2,298.9 268.5,300.9 268.8,302.2 269.2,301.4 269.5,301.1 269.8,299.5 270.1,301.7 270.5,307 270.8,309.8 271.1,309.3 271.4,306.1 271.8,304.2 272.1,305.3 272.4,305.4 272.7,306.5 273.1,306.6 273.4,306.2 273.7,304.9 274,304.3 274.4,305.7 274.7,306.4 275,305.2 275.4,305.2 275.7,308 276,310.7 276.3,308.7 276.7,306.3 277,304.7 277.3,307 277.6,305.2 278,305 278.3,305.2 278.6,306.3 278.9,307 279.3,303.5 279.6,302.5 279.9,302.3 280.2,306.3 280.6,308.2 280.9,307.5 281.2,307.3 281.5,309.1 281.9,311.1 282.2,310.8 282.5,308.7 282.8,309 283.2,310 283.5,311.8" fill="none" stroke="#2585e8" stroke-width="1.6" stroke-linejoin="round"/>
<polyline points="55.3,398 55.6,390.7 56,386.3 56.3,384 56.6,384.1 56.9,383.9 57.3,382.4 57.6,381.7 57.9,381.8 58.2,383.9 58.6,382.9 58.9,381.3 59.2,381.1 59.5,382 59.9,382.5 60.2,381 60.5,379.1 60.8,379.2 61.2,379.3 61.5,379.8 61.8,379.8 62.1,381 62.5,379.9 62.8,379.1 63.1,379.2 63.4,380.5 63.8,380.6 64.1,380.1 64.4,379.2 64.8,378.6 65.1,378.1 65.4,379.8 65.7,381.3 66.1,381.2 66.4,380.8 66.7,379.7 67,378.9 67.4,377 67.7,377.4 68,378.7 68.3,380.1 68.7,379.8 69,378.9 69.3,379.3 69.6,379.2 70,378.5 70.3,378.6 70.6,378.1 70.9,379.4 71.3,378.4 71.6,379.5 71.9,379.3 72.3,380.1 72.6,379.5 72.9,379 73.2,377.8 73.6,378 73.9,377.7 74.2,378.7 74.5,378 74.9,377.9 75.2,376.7 75.5,376.7 75.8,378.5 76.2,379.6 76.5,379.7 76.8,377.8 77.1,378.6 77.5,378.3 77.8,378.9 78.1,377.3 78.4,378.4 78.8,378.5 79.1,378.4 79.4,377.6 79.8,376.8 80.1,376.4 80.4,376.1 80.7,374.8 81.1,376.3 81.4,377.7 81.7,378.9 82,378 82.4,375.5 82.7,376.4 83,376.6 83.3,378.2 83.7,377.1 84,376.6 84.3,375.6 84.6,376.3 85,378.3 85.3,378.6 85.6,378.7 85.9,376.8 86.3,377.4 86.6,379.2 86.9,380.3 87.2,380.8 87.6,378.3 87.9,378.2 88.2,377.2 88.6,378.8 88.9,378.8 89.2,379.2 89.5,377.2 89.9,376.5 90.2,375.7 90.5,377.2 90.8,377.1 91.2,378.1 91.5,376.7 91.8,376.2 92.1,375.4 92.5,376.7 92.8,376.9 93.1,377 93.4,376.8 93.8,377.8 94.1,377.7 94.4,377.8 94.7,377.5 95.1,377.2 95.4,377.2 95.7,379.7 96,380.8 96.4,382.9 96.7,383.3 97,385.5 97.4,385.4 97.7,385.7 98,386.8 98.3,388 98.7,388.8 99,388.3 99.3,388.6 99.6,389.8 100,390.5 100.3,390.5 100.6,389.2 100.9,389.6 101.3,389.5 101.6,389.6 101.9,390.4 102.2,390.9 102.6,390.8 102.9,389.9 103.2,391.9 103.5,393.4 103.9,393.3 104.2,391.5 104.5,392.3 104.9,393.7 105.2,394.8 105.5,394.3 105.8,394.6 106.2,395.7 106.5,396.3 106.8,396.1 107.1,394.2 107.5,394.4 107.8,395.7 108.1,397.3 108.4,396.3 108.8,395.5 109.1,396.1 109.4,396.7 109.7,397.1 110.1,397.2 110.4,398.9 110.7,397.6 111,395.7 111.4,395 111.7,396.7 112,397.7 112.3,397.6 112.7,397 113,398.2 113.3,396.8 113.7,397.4 114,395.8 114.3,396.9 114.6,395.8 115,396.2 115.3,396.8 115.6,397.9 115.9,399.9 116.3,399.9 116.6,400.2 116.9,399.3 117.2,399.7 117.6,400.6 117.9,400.6 118.2,400.6 118.5,399.6 118.9,399.6 119.2,399.6 119.5,400.4 119.8,400.5 120.2,400.7 120.5,400.1 120.8,400.7 121.2,400.4 121.5,401.2 121.8,400.3 122.1,401.2 122.5,402 122.8,402.6 123.1,402.2 123.4,400.1 123.8,400.5 124.1,400.7 124.4,402.2 124.7,401.3 125.1,401.8 125.4,402.4 125.7,403.2 126,402.7 126.4,400.7 126.7,400.5 127,401.2 127.3,402.6 127.7,401.9 128,400.8 128.3,399.8 128.7,399.9 129,400.5 129.3,401.5 129.6,403.5 130,403.9 130.3,404.8 130.6,402.4 130.9,403.4 131.3,403 131.6,404.5 131.9,404.1 132.2,404 132.6,405.1 132.9,405.2 133.2,403.6 133.5,401.2 133.5,401.7 133.9,395.7 134.2,393.9 134.5,390.5 134.8,388.9 135.2,387 135.5,387 135.8,387.3 136.1,386.9 136.5,386.9 136.8,387 137.1,386.7 137.5,385.4 137.8,383.5 138.1,383.8 138.4,384.5 138.8,385.2 139.1,384.9 139.4,384.7 139.7,385.1 140.1,385.8 140.4,386.4 140.7,386.6 141,386.9 141.4,385.6 141.7,385.6 142,385 142.3,384.9 142.7,383.9 143,383.9 143.3,384.6 143.6,384.1 144,383.3 144.3,384.3 144.6,385.6 144.9,386 145.3,385.8 145.6,384.5 145.9,384.3 146.3,384 146.6,384.3 146.9,383.6 147.2,383.3 147.6,384.6 147.9,383.5 148.2,383.2 148.5,381.2 148.9,382.7 149.2,381.6 149.5,384.2 149.8,383.8 150.2,384.8 150.5,382.5 150.8,382.2 151.1,381.8 151.5,382.4 151.8,384.3 152.1,384.8 152.4,385.6 152.8,383.7 153.1,383.5 153.4,382.1 153.8,381.7 154.1,384.2 154.4,384.3 154.7,385.5 155.1,382.4 155.4,382.1 155.7,381.2 156,382.4 156.4,382.5 156.7,383.1 157,382.5 157.3,381.9 157.7,382.1 158,381.9 158.3,383 158.6,382.5 159,382.7 159.3,382.7 159.6,383.6 159.9,383.1 160.3,383.4 160.6,382 160.9,382.3 161.2,381.7 161.6,382.5 161.9,380.9 162.2,380.1 162.6,379.8 162.9,382.2 163.2,382.4 163.5,383.5 163.9,381.6 164.2,382.1 164.5,381.5 164.8,382.7 165.2,382.8 165.5,383.1 165.8,382.5 166.1,382.7 166.5,382.8 166.8,383.2 167.1,381.1 167.4,379.6 167.8,379.1 168.1,380 168.4,381.1 168.7,381.1 169.1,383.5 169.4,383.6 169.7,383.3 170.1,381.4 170.4,382 170.7,383.4 171,382.9 171.4,382.5 171.7,381.7 172,383.9 172.3,382.8 172.7,383.6 173,383.3 173.3,384.1 173.6,384.3 174,385.2 174.3,386.3 174.6,386.8 174.9,386.7 175.3,387.9 175.6,389 175.9,389.3 176.2,388.6 176.6,387.1 176.9,387.1 177.2,386.8 177.6,388.6 177.9,388.3 178.2,389.2 178.5,388.1 178.9,389.3 179.2,388.7 179.5,389.6 179.8,389.5 180.2,389.9 180.5,390.1 180.8,390.6 181.1,392.2 181.5,391.1 181.8,389.8 182.1,389.2 182.4,391.2 182.8,391.6 183.1,391.3 183.4,390.7 183.7,392.7 184.1,392.6 184.4,392 184.7,389.5 185,388.8 185.4,390.6 185.7,391.5 186,393.8 186.4,393.5 186.7,394.1 187,393.3 187.3,393.5 187.7,393.9 188,392.9 188.3,392 188.6,391.1 189,391.9 189.3,392.2 189.6,391.8 189.9,391.3 190.3,392.8 190.6,395.2 190.9,395.1 191.2,394.2 191.6,392.8 191.9,392.9 192.2,393.2 192.5,393.2 192.9,395 193.2,394.9 193.5,394.8 193.9,391.9 194.2,391.6 194.5,392.4 194.8,393.8 195.2,394.5 195.5,394.5 195.8,393.8 196.1,393.1 196.5,392.9 196.8,394.7 197.1,395 197.4,394.8 197.8,394.1 198.1,393.9 198.4,393.9 198.7,393.5 199.1,394.2 199.4,394 199.7,395.1 200,394.4 200.4,394.9 200.7,394.7 201,395.7 201.3,395.8 201.7,396.4 202,395.7 202.3,395.4 202.7,394.6 203,393.9 203.3,393.9 203.6,394.9 204,396.3 204.3,395.9 204.6,395.4 204.9,395.4 205.3,395.1 205.6,395.1 205.9,394.9 206.2,396.4 206.6,396.4 206.9,395 207.2,393.1 207.5,394.3 207.9,395.3 208.2,397.6 208.5,397.1 208.8,397.5 209.2,395.9 209.5,396 209.8,395.9 210.1,397.1 210.5,396.5 210.8,397.2 211.1,397.6 211.5,396.3 211.8,394.8 211.8,394.2 212.1,389.5 212.4,387.9 212.8,386.1 213.1,385 213.4,385.3 213.7,386.1 214.1,386.8 214.4,386 214.7,384.4 215,383.4 215.4,382.6 215.7,382.3 216,381.7 216.3,381.8 216.7,381.7 217,382.6 217.3,382.8 217.6,383.4 218,382.7 218.3,382.8 218.6,383.2 219,383.7 219.3,382.4 219.6,380.9 219.9,382 220.3,382.3 220.6,383.2 220.9,380.5 221.2,380.3 221.6,380 221.9,381.8 222.2,380.5 222.5,380 222.9,379.1 223.2,380.6 223.5,381 223.8,380.9 224.2,380.1 224.5,380.8 224.8,381.9 225.1,383.1 225.5,382.5 225.8,382.5 226.1,382.7 226.4,382.4 226.8,381.1 227.1,380.3 227.4,380.9 227.8,382.2 228.1,382.1 228.4,382 228.7,381.2 229.1,380.8 229.4,380.6 229.7,380.9 230,382.5 230.4,381.5 230.7,381.6 231,380.6 231.3,382.7 231.7,382.6 232,384.2 232.3,383.5 232.6,382.8 233,380.8 233.3,379.6 233.6,380.3 233.9,381.2 234.3,382.7 234.6,382.5 234.9,381.2 235.3,380.3 235.6,379.9 235.9,381 236.2,381.8 236.6,382.9 236.9,383 237.2,381 237.5,379.4 237.9,377.7 238.2,378.6 238.5,378.4 238.8,380.1 239.2,380.4 239.5,382 239.8,382.6 240.1,382.4 240.5,382.3 240.8,381.5 241.1,382.1 241.4,382.4 241.8,381.6 242.1,381.2 242.4,381.4 242.8,381.6 243.1,381.8 243.4,380.8 243.7,381.1 244.1,380 244.4,379.4 244.7,379.1 245,380.7 245.4,381.3 245.7,382.5 246,380.9 246.3,381.1 246.7,380.7 247,382.2 247.3,381.4 247.6,381.8 248,382 248.3,383.8 248.6,382.6 248.9,380.9 249.3,378.6 249.6,379.9 249.9,381.1 250.2,382.3 250.6,381.1 250.9,381.5 251.2,383.4 251.6,384.8 251.9,384.6 252.2,384.9 252.5,385.9 252.9,387.4 253.2,386.7 253.5,387 253.8,386.2 254.2,386.4 254.5,386.3 254.8,386.7 255.1,387.7 255.5,387.9 255.8,388.4 256.1,387.8 256.4,387.4 256.8,388.5 257.1,388.6 257.4,390.9 257.7,390.8 258.1,390 258.4,388.5 258.7,387.8 259.1,389.5 259.4,390 259.7,390 260,391 260.4,391.2 260.7,392.4 261,391.2 261.3,391 261.7,391.3 262,391.7 262.3,391.6 262.6,390.7 263,391.7 263.3,392.4 263.6,392.2 263.9,392 264.3,392.9 264.6,393.3 264.9,392.8 265.2,392 265.6,394 265.9,394.2 266.2,395.8 266.5,393.9 266.9,394.4 267.2,391.9 267.5,392.2 267.9,392.1 268.2,393.3 268.5,393 268.8,392.1 269.2,391.4 269.5,391.9 269.8,392.4 270.1,393.5 270.5,393.3 270.8,393.5 271.1,393.1 271.4,394.6 271.8,394.2 272.1,394.4 272.4,393 272.7,393.1 273.1,392.8 273.4,393.7 273.7,395.2 274,396 274.4,397.7 274.7,397.7 275,398.5 275.4,395.8 275.7,396 276,396.4 276.3,396.7 276.7,397.3 277,395.6 277.3,395.1 277.6,393.9 278,394 278.3,395.3 278.6,394.6 278.9,395.3 279.3,393.5 279.6,394.3 279.9,395 280.2,396.2 280.6,396.5 280.9,396.6 281.2,396.1 281.5,395 281.9,394.4 282.2,395.4 282.5,396.1 282.8,395.4 283.2,396.1 283.5,396.4" fill="none" stroke="#f01818" stroke-width="1.6" stroke-linejoin="round"/>
<polyline points="55.3,398 55.6,388.9 56,385.7 56.3,383.1 56.6,381.1 56.9,381.2 57.3,380.3 57.6,381.1 57.9,379.3 58.2,379.3 58.6,378.5 58.9,378.2 59.2,378.6 59.5,376.7 59.9,376.7 60.2,376.3 60.5,377.3 60.8,376.8 61.2,378.2 61.5,380 61.8,380.6 62.1,379 62.5,377.4 62.8,377.8 63.1,377.2 63.4,376.7 63.8,376.1 64.1,375.6 64.4,375.5 64.8,375.9 65.1,375.4 65.4,375.8 65.7,374.7 66.1,375.9 66.4,374.8 66.7,374.5 67,374 67.4,376.2 67.7,377 68,376.6 68.3,375.8 68.7,375.5 69,375.8 69.3,375 69.6,374.3 70,373.2 70.3,372.9 70.6,373.6 70.9,375.6 71.3,377.2 71.6,376.2 71.9,375.6 72.3,372.6 72.6,372.7 72.9,371.3 73.2,373.5 73.6,372.4 73.9,372.5 74.2,371.2 74.5,372.5 74.9,373.7 75.2,373.8 75.5,374.7 75.8,374.2 76.2,374.2 76.5,373.2 76.8,373 77.1,374.1 77.5,374.1 77.8,375.5 78.1,375.7 78.4,375 78.8,374 79.1,373.7 79.4,373.4 79.8,372.3 80.1,371.2 80.4,370.2 80.7,371.1 81.1,371.4 81.4,373.9 81.7,373.1 82,373.3 82.4,372.9 82.7,373.9 83,374 83.3,372.8 83.7,373.6 84,374 84.3,375.6 84.6,375.2 85,375.5 85.3,374.8 85.6,374 85.9,373.5 86.3,372.1 86.6,372.3 86.9,371.2 87.2,372.5 87.6,371.3 87.9,372.4 88.2,371.8 88.6,374.1 88.9,373.7 89.2,374.4 89.5,372.1 89.9,371.7 90.2,371.3 90.5,371.7 90.8,371.6 91.2,371.1 91.5,371.8 91.8,371.8 92.1,371.8 92.5,371.5 92.8,371.2 93.1,371.6 93.4,371 93.8,370.9 94.1,370.9 94.4,370.7 94.7,372 95.1,373.8 95.4,375.3 95.7,376.2 96,376.7 96.4,377.9 96.7,380 97,381.3 97.4,382.1 97.7,382.8 98,382.9 98.3,382.7 98.7,383.3 99,383.9 99.3,384.9 99.6,385.4 100,386.8 100.3,388 100.6,387.5 100.9,387 101.3,387 101.6,386.9 101.9,386.6 102.2,387 102.6,387.9 102.9,388.4 103.2,388.9 103.5,390 103.9,391.5 104.2,391 104.5,390.7 104.9,390.1 105.2,390.8 105.5,389.9 105.8,389.9 106.2,390.4 106.5,391.5 106.8,392.2 107.1,392 107.5,393.1 107.8,393.1 108.1,392.4 108.4,394 108.8,394.1 109.1,396.2 109.4,393.5 109.7,394.3 110.1,393.1 110.4,395.8 110.7,397.3 111,398.3 111.4,396.5 111.7,394.7 112,393.7 112.3,394.2 112.7,395.1 113,395.2 113.3,395.6 113.7,396.6 114,398.2 114.3,397.3 114.6,395.8 115,394.7 115.3,397 115.6,397.6 115.9,399.3 116.3,398.8 116.6,400.1 116.9,398.4 117.2,398 117.6,397.9 117.9,399 118.2,398.1 118.5,397.3 118.9,397.2 119.2,399 119.5,398.9 119.8,400 120.2,399.9 120.5,401.4 120.8,400.6 121.2,400.7 121.5,399.6 121.8,398.6 122.1,399.3 122.5,400.1 122.8,401.7 123.1,400.9 123.4,399.8 123.8,399 124.1,399.2 124.4,400 124.7,401 125.1,400.7 125.4,400.5 125.7,400.4 126,401.7 126.4,403.6 126.7,403.6 127,402.5 127.3,400.4 127.7,399.6 128,400.3 128.3,401.3 128.7,401.9 129,401.5 129.3,401.3 129.6,401.4 130,402.3 130.3,402.6 130.6,402.2 130.9,401.1 131.3,402.1 131.6,402.7 131.9,403.4 132.2,402.5 132.6,403.4 132.9,403.4 133.2,403.6 133.5,402.8 133.5,403.4 133.9,391.6 134.2,386 134.5,383 134.8,382.6 135.2,381.8 135.5,380.7 135.8,380.5 136.1,380.2 136.5,380.7 136.8,378.6 137.1,377.1 137.5,376.6 137.8,377 138.1,377.3 138.4,375.9 138.8,377 139.1,376.3 139.4,376.9 139.7,374.8 140.1,375.3 140.4,376.6 140.7,379.1 141,378.7 141.4,376.4 141.7,375.7 142,375.3 142.3,374.7 142.7,373.7 143,373.4 143.3,373.5 143.6,373.9 144,374.1 144.3,374.2 144.6,373.5 144.9,373.8 145.3,375.2 145.6,375 145.9,376.1 146.3,376 146.6,377.1 146.9,376.7 147.2,375.9 147.6,374.9 147.9,374.1 148.2,372.9 148.5,371.7 148.9,372.1 149.2,371.5 149.5,371.7 149.8,370.2 150.2,371.7 150.5,371.5 150.8,372.5 151.1,372.3 151.5,372.7 151.8,371.9 152.1,370.4 152.4,370.7 152.8,370.4 153.1,371.6 153.4,371.8 153.8,373.3 154.1,373.9 154.4,374.7 154.7,372.9 155.1,372.9 155.4,372.9 155.7,374.1 156,372.8 156.4,372 156.7,371.3 157,371.6 157.3,372 157.7,372.2 158,371.8 158.3,370.6 158.6,372 159,372.2 159.3,373.1 159.6,371.8 159.9,373.2 160.3,372.5 160.6,371.7 160.9,370.4 161.2,369.9 161.6,372.3 161.9,372.8 162.2,373.3 162.6,372.3 162.9,372.6 163.2,372.7 163.5,372.3 163.9,372 164.2,372.8 164.5,373.5 164.8,373.1 165.2,372.3 165.5,371 165.8,372 166.1,372.3 166.5,372.9 166.8,372.7 167.1,372 167.4,371.5 167.8,371.8 168.1,372.9 168.4,373.3 168.7,372.2 169.1,371.3 169.4,370.1 169.7,370.1 170.1,370.3 170.4,369.9 170.7,370.9 171,370.4 171.4,371.5 171.7,371.1 172,371.2 172.3,369.8 172.7,370.1 173,371.8 173.3,373.8 173.6,374.7 174,375.7 174.3,375.9 174.6,375.7 174.9,374.5 175.3,375.4 175.6,376.9 175.9,378 176.2,379.1 176.6,377.6 176.9,378.3 177.2,378.7 177.6,381.3 177.9,382.1 178.2,382.3 178.5,382.6 178.9,380.9 179.2,379.5 179.5,379.9 179.8,383.4 180.2,385.2 180.5,384.3 180.8,383 181.1,382.8 181.5,382.6 181.8,382.6 182.1,382.7 182.4,383.7 182.8,384.4 183.1,385.3 183.4,385.4 183.7,384.5 184.1,384.9 184.4,382.9 184.7,383.8 185,383.3 185.4,384.9 185.7,386.2 186,385.4 186.4,385.1 186.7,383.6 187,384.8 187.3,386.3 187.7,386.8 188,387.1 188.3,386.2 188.6,385.9 189,385.6 189.3,385.3 189.6,386 189.9,385.7 190.3,387.2 190.6,386.5 190.9,386.6 191.2,385.8 191.6,386.4 191.9,386.1 192.2,386.5 192.5,385.9 192.9,387 193.2,387.8 193.5,388.8 193.9,388.4 194.2,387.4 194.5,386.9 194.8,387 195.2,387 195.5,387 195.8,387.3 196.1,388 196.5,388.6 196.8,388.1 197.1,388.1 197.4,388 197.8,388.3 198.1,388.6 198.4,389.6 198.7,390.5 199.1,390 199.4,390.5 199.7,389.2 200,389.6 200.4,389.8 200.7,392.2 201,392.5 201.3,391.5 201.7,389.7 202,388.8 202.3,389 202.7,389.1 203,389.5 203.3,390.4 203.6,390.3 204,392 204.3,391.8 204.6,392.8 204.9,391.4 205.3,390.5 205.6,388.8 205.9,389.5 206.2,389.7 206.6,391.4 206.9,390.8 207.2,391.4 207.5,390.1 207.9,389.2 208.2,389.2 208.5,391 208.8,390.4 209.2,391 209.5,390.1 209.8,392.2 210.1,390.4 210.5,390 210.8,390.6 211.1,391.2 211.5,391.9 211.8,391.4 211.8,393.2 212.1,384.9 212.4,379.3 212.8,374.9 213.1,372.1 213.4,371.2 213.7,370.6 214.1,371.8 214.4,372.5 214.7,373.3 215,372.3 215.4,371.9 215.7,371.3 216,371.3 216.3,372.8 216.7,373.8 217,374 217.3,373.1 217.6,370.4 218,370 218.3,371.1 218.6,371.9 219,372.4 219.3,371.6 219.6,371.7 219.9,371 220.3,369.8 220.6,370.5 220.9,370.6 221.2,371.9 221.6,372.1 221.9,372 222.2,372.7 222.5,371.6 222.9,371.1 223.2,369.2 223.5,368.7 223.8,368.8 224.2,368.9 224.5,370 224.8,369.2 225.1,368.2 225.5,367.1 225.8,367.9 226.1,369.1 226.4,369 226.8,370.2 227.1,369.5 227.4,369.9 227.8,368.8 228.1,369.9 228.4,370.3 228.7,370.2 229.1,369 229.4,368.9 229.7,369.1 230,369.2 230.4,369 230.7,367.5 231,367.3 231.3,368.1 231.7,370.3 232,370.6 232.3,368.3 232.6,368.5 233,368.5 233.3,371.6 233.6,370.1 233.9,370.8 234.3,368.7 234.6,369.9 234.9,369.9 235.3,369.6 235.6,369.5 235.9,370.7 236.2,371.2 236.6,369.5 236.9,367.7 237.2,367.6 237.5,367.4 237.9,366.5 238.2,366.9 238.5,366.9 238.8,368.3 239.2,368.4 239.5,369.3 239.8,369.5 240.1,368.6 240.5,369.1 240.8,367.3 241.1,367.6 241.4,367.6 241.8,368.1 242.1,368.3 242.4,368.2 242.8,369.6 243.1,370.6 243.4,370.4 243.7,369.2 244.1,367.4 244.4,368.2 244.7,369.6 245,369.1 245.4,368.5 245.7,367.2 246,369.2 246.3,368.8 246.7,368.7 247,368.2 247.3,367.9 247.6,368.8 248,368.7 248.3,368.3 248.6,368 248.9,368.6 249.3,369.2 249.6,369 249.9,369.5 250.2,370 250.6,369.9 250.9,368.8 251.2,369.7 251.6,369.3 251.9,370 252.2,369.9 252.5,372.1 252.9,372.8 253.2,375.6 253.5,376.6 253.8,377.7 254.2,378 254.5,378 254.8,378 255.1,377.7 255.5,378.7 255.8,379.9 256.1,380.3 256.4,379.8 256.8,379.1 257.1,378.1 257.4,378.7 257.7,380.1 258.1,380.2 258.4,380 258.7,378.7 259.1,381 259.4,382.2 259.7,383.5 260,381.5 260.4,380.5 260.7,380.2 261,381.2 261.3,381.3 261.7,381.8 262,382.8 262.3,383.8 262.6,384.2 263,382.2 263.3,382.2 263.6,382.2 263.9,383.3 264.3,382.7 264.6,383 264.9,382.9 265.2,383.6 265.6,382.8 265.9,383.5 266.2,384.7 266.5,385.3 266.9,385.7 267.2,384.2 267.5,385.3 267.9,385.6 268.2,386.5 268.5,386.9 268.8,386 269.2,386.5 269.5,387.1 269.8,387.8 270.1,387.2 270.5,386.9 270.8,387.4 271.1,388.1 271.4,386.2 271.8,384.7 272.1,384 272.4,386.3 272.7,387.9 273.1,388.4 273.4,388.3 273.7,389.2 274,389.3 274.4,389 274.7,387 275,387.9 275.4,388.9 275.7,389.1 276,389 276.3,387.5 276.7,388.5 277,388.6 277.3,389.3 277.6,390 278,390.4 278.3,391 278.6,391.2 278.9,391.7 279.3,390.6 279.6,390.3 279.9,389.4 280.2,389.3 280.6,390.4 280.9,391 281.2,391.6 281.5,389 281.9,388.7 282.2,389.3 282.5,390.7 282.8,390.5 283.2,391.1 283.5,391.6" fill="none" stroke="#f57020" stroke-width="1.6" stroke-linejoin="round"/>
<polyline points="55.3,398 55.6,385.3 56,378.7 56.3,376 56.6,374.5 56.9,373.5 57.3,371.8 57.6,370.9 57.9,371.8 58.2,371.6 58.6,372 58.9,369.7 59.2,370 59.5,369.9 59.9,371.7 60.2,371.6 60.5,371.4 60.8,370.6 61.2,371 61.5,371.9 61.8,371.8 62.1,370.4 62.5,369.3 62.8,369 63.1,369.9 63.4,370 63.8,370.1 64.1,369.2 64.4,368.8 64.8,367.8 65.1,368.2 65.4,367.3 65.7,368.4 66.1,368.2 66.4,368.6 66.7,367.4 67,367.3 67.4,367 67.7,367.6 68,368 68.3,369 68.7,368.2 69,368.3 69.3,368.5 69.6,370.1 70,369.6 70.3,368.6 70.6,369 70.9,368.5 71.3,367.5 71.6,366.3 71.9,366.7 72.3,367 72.6,366 72.9,367.1 73.2,367.9 73.6,369.2 73.9,367.4 74.2,366.3 74.5,365.6 74.9,366.9 75.2,367.4 75.5,366.3 75.8,365.2 76.2,365.5 76.5,366.6 76.8,366 77.1,366 77.5,365.6 77.8,366.8 78.1,367.1 78.4,368.1 78.8,367.4 79.1,365.8 79.4,363.9 79.8,364.3 80.1,366.3 80.4,368.2 80.7,367.7 81.1,365.9 81.4,365 81.7,365.3 82,367.4 82.4,367.4 82.7,366.8 83,365.3 83.3,366.2 83.7,367.2 84,366.5 84.3,366.6 84.6,365.4 85,365.6 85.3,363.7 85.6,363.8 85.9,366.3 86.3,369.1 86.6,368.7 86.9,366.7 87.2,365.1 87.6,366.2 87.9,366.3 88.2,365.1 88.6,364.5 88.9,364.4 89.2,364.2 89.5,364.6 89.9,364.1 90.2,364.1 90.5,365 90.8,366.6 91.2,368.7 91.5,367.8 91.8,366.9 92.1,365.8 92.5,364.8 92.8,365.6 93.1,365.8 93.4,366.5 93.8,364.8 94.1,364.5 94.4,365.8 94.7,370.4 95.1,373 95.4,373.4 95.7,373.9 96,375 96.4,376.5 96.7,378.1 97,378.3 97.4,377.4 97.7,375.9 98,376.4 98.3,377.8 98.7,380.5 99,382.5 99.3,384 99.6,384.4 100,384.3 100.3,384.9 100.6,384.7 100.9,384.8 101.3,386 101.6,386.5 101.9,387.2 102.2,387.6 102.6,388.8 102.9,388.9 103.2,388.7 103.5,387.7 103.9,388.3 104.2,388.7 104.5,389.7 104.9,390 105.2,390.3 105.5,388.9 105.8,388.5 106.2,388.6 106.5,390.2 106.8,390.4 107.1,390.5 107.5,392.1 107.8,392.8 108.1,392.8 108.4,391.6 108.8,391.2 109.1,392.2 109.4,392.1 109.7,393.7 110.1,394.2 110.4,395.5 110.7,395.7 111,395.3 111.4,393.9 111.7,393.4 112,394 112.3,394.3 112.7,393.8 113,394.2 113.3,395.8 113.7,397.7 114,397.5 114.3,397.5 114.6,397 115,397.3 115.3,397.4 115.6,397.1 115.9,396.9 116.3,396.9 116.6,398.8 116.9,398.2 117.2,397.5 117.6,395.2 117.9,396.5 118.2,397.4 118.5,398.6 118.9,397.8 119.2,398.4 119.5,397.5 119.8,397.8 120.2,397.4 120.5,399.2 120.8,399.7 121.2,399.4 121.5,398.1 121.8,398.2 122.1,400 122.5,401.3 122.8,400.9 123.1,401 123.4,398.9 123.8,398.8 124.1,397.5 124.4,398.5 124.7,399.4 125.1,400.4 125.4,401.3 125.7,401 126,401.3 126.4,401.8 126.7,401.6 127,401.9 127.3,400.8 127.7,402.5 128,401.1 128.3,401.6 128.7,399.8 129,400.8 129.3,402 129.6,402.3 130,403.6 130.3,403.8 130.6,404.6 130.9,403.1 131.3,402.9 131.6,400.8 131.9,400.7 132.2,400.9 132.6,402.8 132.9,405.1 133.2,404.1 133.5,403.3 133.5,401.5 133.9,388.8 134.2,383.5 134.5,378.5 134.8,376 135.2,374.4 135.5,374.5 135.8,373.6 136.1,371.7 136.5,372.4 136.8,373.2 137.1,374.3 137.5,373.8 137.8,373.8 138.1,373.2 138.4,373.4 138.8,373.2 139.1,374.1 139.4,373.9 139.7,373.3 140.1,372.8 140.4,371.4 140.7,370 141,370.6 141.4,371.6 141.7,372 142,370.5 142.3,370.2 142.7,370.9 143,370.7 143.3,371.4 143.6,370.2 144,372.6 144.3,371.1 144.6,373.3 144.9,371.8 145.3,371.3 145.6,369.3 145.9,368.8 146.3,370.1 146.6,370.6 146.9,370.5 147.2,370.4 147.6,369.9 147.9,369.9 148.2,371.3 148.5,371.6 148.9,370.8 149.2,369.7 149.5,371 149.8,372.3 150.2,371.4 150.5,370.4 150.8,369.8 151.1,370.1 151.5,370.4 151.8,370.9 152.1,371.4 152.4,371.1 152.8,370.2 153.1,371 153.4,370.2 153.8,371.6 154.1,370.9 154.4,371.7 154.7,369.8 155.1,370.6 155.4,371.3 155.7,372.4 156,372.6 156.4,370.5 156.7,369.9 157,368.2 157.3,369 157.7,368.9 158,369.5 158.3,370.3 158.6,370.2 159,368.9 159.3,368.9 159.6,369.4 159.9,371.7 160.3,371.9 160.6,371.5 160.9,369.3 161.2,370.5 161.6,370 161.9,370.9 162.2,369.5 162.6,370.3 162.9,371.1 163.2,369.8 163.5,369 163.9,368.2 164.2,368 164.5,368.1 164.8,368.9 165.2,370 165.5,370.3 165.8,368.9 166.1,368.8 166.5,368.8 166.8,368.4 167.1,368.9 167.4,368.1 167.8,369.7 168.1,368.9 168.4,368.2 168.7,366.2 169.1,366.7 169.4,367.6 169.7,369.9 170.1,370.7 170.4,372.7 170.7,372.1 171,372 171.4,370.2 171.7,370.4 172,369.2 172.3,369.6 172.7,367.7 173,370.2 173.3,372.3 173.6,374.7 174,375.1 174.3,376.6 174.6,378.3 174.9,379.9 175.3,380.7 175.6,381.5 175.9,381.6 176.2,381.7 176.6,380.3 176.9,380.9 177.2,381.8 177.6,383 177.9,384.4 178.2,384.9 178.5,384.5 178.9,384.3 179.2,385.5 179.5,387.4 179.8,388.1 180.2,387 180.5,386.2 180.8,385.4 181.1,388.2 181.5,389.5 181.8,390.3 182.1,388.6 182.4,387.7 182.8,389.6 183.1,390.9 183.4,392 183.7,391.5 184.1,390 184.4,391.3 184.7,390.8 185,391.5 185.4,392.1 185.7,393.2 186,393.3 186.4,391.6 186.7,390.3 187,391.6 187.3,393.2 187.7,394.5 188,394.7 188.3,394.7 188.6,394.3 189,393.5 189.3,393.6 189.6,394.2 189.9,396.2 190.3,396.8 190.6,397.2 190.9,395.5 191.2,394.7 191.6,394 191.9,393 192.2,393.3 192.5,393.1 192.9,393.3 193.2,393.1 193.5,392.9 193.9,395.3 194.2,396.9 194.5,397.8 194.8,398.4 195.2,398.1 195.5,397.2 195.8,395.9 196.1,394.9 196.5,395.5 196.8,395.5 197.1,397.1 197.4,398.7 197.8,398 198.1,396.9 198.4,396.2 198.7,398.1 199.1,398.6 199.4,398.5 199.7,397.2 200,396 200.4,396.2 200.7,397.6 201,397.7 201.3,398.6 201.7,398 202,400 202.3,399.1 202.7,400 203,400.6 203.3,403.1 203.6,401.4 204,400.4 204.3,398.7 204.6,400 204.9,399.5 205.3,400.3 205.6,402 205.9,403.8 206.2,402.6 206.6,400.7 206.9,400.2 207.2,401.1 207.5,401 207.9,401.5 208.2,401.8 208.5,403.1 208.8,402.2 209.2,402.8 209.5,401.9 209.8,401.3 210.1,400.5 210.5,399.9 210.8,401.7 211.1,402.3 211.5,402.1 211.8,401.5 211.8,401.5 212.1,391.2 212.4,385.3 212.8,380.9 213.1,379.3 213.4,377.9 213.7,378.1 214.1,377.1 214.4,376.1 214.7,375.8 215,376 215.4,377 215.7,376.3 216,375.6 216.3,375.7 216.7,376.1 217,377.5 217.3,376.6 217.6,376.1 218,376.4 218.3,375.4 218.6,376.8 219,376.2 219.3,377.2 219.6,376 219.9,376 220.3,375.4 220.6,375.5 220.9,374.3 221.2,373.5 221.6,373.4 221.9,374.1 222.2,375.8 222.5,376 222.9,376.3 223.2,376.4 223.5,375.2 223.8,375.5 224.2,376.8 224.5,377.1 224.8,375.3 225.1,373.8 225.5,374.8 225.8,376.4 226.1,376.9 226.4,375.3 226.8,374.8 227.1,374 227.4,375.8 227.8,374.9 228.1,374.5 228.4,373.3 228.7,373.8 229.1,373.7 229.4,373.8 229.7,372.6 230,372.7 230.4,372.8 230.7,373.7 231,371.2 231.3,370.7 231.7,370.5 232,372.3 232.3,373.9 232.6,375 233,375.4 233.3,374.7 233.6,376.3 233.9,375.7 234.3,375.6 234.6,372.9 234.9,374.6 235.3,375 235.6,375.3 235.9,374.7 236.2,373.3 236.6,372.3 236.9,372.4 237.2,374.1 237.5,375 237.9,374 238.2,371.6 238.5,373.3 238.8,372.8 239.2,373.4 239.5,371.7 239.8,373.4 240.1,374.1 240.5,374.2 240.8,373.3 241.1,373.9 241.4,373.9 241.8,373.9 242.1,373.3 242.4,372.5 242.8,373.3 243.1,372.9 243.4,372.7 243.7,371.5 244.1,372 244.4,373.5 244.7,372.7 245,371.8 245.4,371.3 245.7,372.6 246,372.7 246.3,371.8 246.7,371.7 247,372.3 247.3,372 247.6,371.2 248,372.4 248.3,372.7 248.6,374.1 248.9,372 249.3,373.7 249.6,374.1 249.9,374.7 250.2,373.2 250.6,372.5 250.9,372.1 251.2,375.2 251.6,377.4 251.9,380 252.2,381.1 252.5,381.3 252.9,382.9 253.2,383 253.5,385.1 253.8,385.2 254.2,386.3 254.5,384.7 254.8,385 255.1,386 255.5,388.6 255.8,388.3 256.1,388.6 256.4,387.7 256.8,388.5 257.1,389 257.4,389.4 257.7,391.2 258.1,389.7 258.4,391.1 258.7,389.6 259.1,390.4 259.4,390.6 259.7,392 260,393.8 260.4,393.1 260.7,392.9 261,392.6 261.3,393.5 261.7,393.9 262,394.4 262.3,394.1 262.6,395.1 263,394.8 263.3,394.2 263.6,392.4 263.9,393.4 264.3,395.2 264.6,397.9 264.9,397.6 265.2,397 265.6,395.4 265.9,396.7 266.2,397.3 266.5,399.2 266.9,398.8 267.2,399.2 267.5,397.4 267.9,397.2 268.2,398.1 268.5,399.1 268.8,400.2 269.2,398.7 269.5,400 269.8,401.6 270.1,403.7 270.5,403.4 270.8,400.7 271.1,399.7 271.4,399.2 271.8,400.4 272.1,399.5 272.4,399.5 272.7,400 273.1,401.7 273.4,402.9 273.7,403.1 274,402.3 274.4,401 274.7,400.9 275,401.8 275.4,402.9 275.7,402.2 276,403 276.3,403.4 276.7,404.9 277,404 277.3,404.3 277.6,403.6 278,403.3 278.3,402.8 278.6,401.8 278.9,402.5 279.3,402.8 279.6,404.5 279.9,404 280.2,403.1 280.6,402.2 280.9,401.6 281.2,402.2 281.5,404.6 281.9,406.2 282.2,406.3 282.5,404.1 282.8,405.3 283.2,405.1 283.5,405.9" fill="none" stroke="#f0e41a" stroke-width="1.6" stroke-linejoin="round"/>
<polyline points="55.3,398 55.6,384.6 56,377.3 56.3,372.4 56.6,370.2 56.9,370.4 57.3,371.8 57.6,371.8 57.9,371 58.2,370.1 58.6,370.2 58.9,369.4 59.2,369.8 59.5,370 59.9,369.8 60.2,368.6 60.5,368.7 60.8,368.3 61.2,367.9 61.5,366.9 61.8,366.9 62.1,368.1 62.5,368.4 62.8,368.6 63.1,367.3 63.4,367.9 63.8,368.2 64.1,369.9 64.4,369.4 64.8,368.9 65.1,366.9 65.4,366 65.7,366.2 66.1,367 66.4,367.5 66.7,368.4 67,366.7 67.4,366.3 67.7,364.1 68,364.4 68.3,363.9 68.7,364.3 69,364.3 69.3,363.6 69.6,364.8 70,365.2 70.3,366.9 70.6,365.2 70.9,363.8 71.3,362.6 71.6,363.9 71.9,365.1 72.3,365.8 72.6,364.3 72.9,365.6 73.2,365.6 73.6,367.1 73.9,365.8 74.2,366.4 74.5,365.7 74.9,365.5 75.2,364.1 75.5,364 75.8,363.7 76.2,363.3 76.5,363.3 76.8,364.4 77.1,365 77.5,365.4 77.8,366 78.1,365.3 78.4,364.8 78.8,363 79.1,363.4 79.4,363.3 79.8,362.3 80.1,363.2 80.4,363.6 80.7,365.6 81.1,365.6 81.4,366.3 81.7,365.6 82,365.9 82.4,365.6 82.7,366.2 83,364.2 83.3,363 83.7,362.4 84,362.5 84.3,362.6 84.6,363.3 85,364.2 85.3,364.1 85.6,364.6 85.9,364.3 86.3,363.8 86.6,362.8 86.9,364 87.2,365 87.6,365 87.9,363.9 88.2,364.3 88.6,364.9 88.9,364 89.2,363.3 89.5,361 89.9,363.3 90.2,363.4 90.5,364.7 90.8,362.7 91.2,362.1 91.5,361.3 91.8,362.5 92.1,362.4 92.5,362.4 92.8,361.9 93.1,363.1 93.4,363.5 93.8,363.2 94.1,363.6 94.4,364.6 94.7,367.2 95.1,368.3 95.4,370.6 95.7,371.9 96,373.1 96.4,372.7 96.7,373.4 97,373.5 97.4,376.2 97.7,378.4 98,380.8 98.3,381.8 98.7,382.4 99,382.7 99.3,382.8 99.6,383.7 100,383.4 100.3,383.5 100.6,383.6 100.9,384.9 101.3,385 101.6,385.5 101.9,386.2 102.2,387.3 102.6,388.2 102.9,389 103.2,389.6 103.5,390.3 103.9,390.7 104.2,391.6 104.5,391.7 104.9,391 105.2,392 105.5,392.7 105.8,394.3 106.2,393.5 106.5,393 106.8,391.7 107.1,391.7 107.5,391.7 107.8,392.5 108.1,391 108.4,392.6 108.8,392.3 109.1,393.3 109.4,392.8 109.7,394.2 110.1,394.7 110.4,394.6 110.7,394.6 111,395.5 111.4,396 111.7,396.6 112,396.5 112.3,395.2 112.7,396.3 113,396.5 113.3,397.2 113.7,396.4 114,397.2 114.3,397.7 114.6,399 115,397.1 115.3,398.6 115.6,397.1 115.9,399.2 116.3,398.7 116.6,398.7 116.9,398.9 117.2,397.9 117.6,398 117.9,399.2 118.2,398.5 118.5,399.7 118.9,397 119.2,398.4 119.5,398.3 119.8,399.7 120.2,400.1 120.5,398.6 120.8,398.9 121.2,399.3 121.5,400.1 121.8,399.2 122.1,399.6 122.5,400.4 122.8,402.5 123.1,402.8 123.4,403.7 123.8,403.9 124.1,401.7 124.4,401.9 124.7,401.1 125.1,402.5 125.4,401.8 125.7,402.6 126,402.4 126.4,401.4 126.7,401.3 127,402.1 127.3,404.1 127.7,403.9 128,404 128.3,402.2 128.7,402.5 129,401.8 129.3,402 129.6,400.7 130,403.2 130.3,405.4 130.6,406.3 130.9,405 131.3,404.4 131.6,405.5 131.9,405.3 132.2,406.4 132.6,405.5 132.9,407 133.2,403.9 133.5,404.1 133.5,402.8 133.9,391.8 134.2,384.2 134.5,379.7 134.8,377.5 135.2,375.9 135.5,376.1 135.8,373.5 136.1,374.2 136.5,374.2 136.8,374.8 137.1,373.9 137.5,373.3 137.8,372.9 138.1,372.2 138.4,373.4 138.8,374.4 139.1,374.4 139.4,372.7 139.7,372.3 140.1,374.8 140.4,375.4 140.7,374.9 141,373.1 141.4,373.4 141.7,373.4 142,374.3 142.3,374.8 142.7,375.2 143,375.5 143.3,374.7 143.6,373.8 144,374.8 144.3,373.6 144.6,372.8 144.9,369.1 145.3,370.6 145.6,370.9 145.9,373.3 146.3,371.6 146.6,372.2 146.9,371.1 147.2,371.8 147.6,372.7 147.9,372.6 148.2,373.7 148.5,372.5 148.9,372.9 149.2,372.2 149.5,372.6 149.8,372.4 150.2,372.2 150.5,372.5 150.8,372.4 151.1,372.2 151.5,371.1 151.8,371.5 152.1,373.1 152.4,372.9 152.8,372.3 153.1,371.7 153.4,373.3 153.8,374.1 154.1,372.9 154.4,372.2 154.7,372.3 155.1,373.3 155.4,373.1 155.7,371.6 156,371.5 156.4,371.6 156.7,372.5 157,373.4 157.3,374.3 157.7,373.7 158,372.8 158.3,371.7 158.6,372.3 159,373.3 159.3,374.1 159.6,374.1 159.9,372.5 160.3,371.7 160.6,371.9 160.9,372 161.2,372.9 161.6,372.6 161.9,372.2 162.2,372.8 162.6,370.8 162.9,371.4 163.2,369.9 163.5,372.6 163.9,373.5 164.2,374.6 164.5,375 164.8,374.5 165.2,373.5 165.5,373.1 165.8,372.9 166.1,371.9 166.5,370.9 166.8,371.4 167.1,372.7 167.4,372.2 167.8,372.6 168.1,372.3 168.4,372.1 168.7,371.5 169.1,372 169.4,373.4 169.7,372.9 170.1,371.6 170.4,372 170.7,372.4 171,373 171.4,371.9 171.7,371 172,369.7 172.3,369.7 172.7,371.2 173,375.5 173.3,377.2 173.6,379.2 174,379.9 174.3,380.9 174.6,381.7 174.9,383.8 175.3,385.2 175.6,384.5 175.9,384.3 176.2,383.6 176.6,385.2 176.9,387 177.2,389.5 177.6,389.5 177.9,389.5 178.2,389.5 178.5,391.4 178.9,391.1 179.2,393.4 179.5,392.7 179.8,393.5 180.2,391.8 180.5,391.5 180.8,392 181.1,393.3 181.5,393.9 181.8,394.4 182.1,394.2 182.4,394.8 182.8,394.6 183.1,395.5 183.4,396.7 183.7,397.9 184.1,398.2 184.4,397.4 184.7,396.4 185,396.6 185.4,396.5 185.7,397.1 186,396.9 186.4,397.9 186.7,398.3 187,399.6 187.3,401 187.7,401.7 188,401.9 188.3,400.2 188.6,400.5 189,400.9 189.3,400.9 189.6,402.2 189.9,401 190.3,400.5 190.6,400.2 190.9,400.8 191.2,402.1 191.6,400.6 191.9,401.5 192.2,402.4 192.5,402.7 192.9,402.9 193.2,402.3 193.5,402.1 193.9,401 194.2,401.3 194.5,402.6 194.8,402.9 195.2,402.9 195.5,402.2 195.8,401.1 196.1,402.1 196.5,402.7 196.8,404.6 197.1,404.5 197.4,404.8 197.8,403.9 198.1,404.2 198.4,404.1 198.7,404.1 199.1,404.6 199.4,404.7 199.7,405.7 200,405.1 200.4,406.5 200.7,406.6 201,406.5 201.3,404.7 201.7,405.2 202,405.7 202.3,405.8 202.7,405 203,405.9 203.3,406.7 203.6,408 204,407.5 204.3,406.7 204.6,406.7 204.9,407 205.3,407.5 205.6,406.8 205.9,406 206.2,407.1 206.6,407.1 206.9,408.2 207.2,407.9 207.5,408.1 207.9,408.2 208.2,407.9 208.5,407.4 208.8,406.9 209.2,406.3 209.5,407.8 209.8,408.6 210.1,409.1 210.5,409.1 210.8,408.9 211.1,410.1 211.5,409.1 211.8,409 211.8,407.7 212.1,394.3 212.4,387.9 212.8,383.3 213.1,381 213.4,379.2 213.7,380.5 214.1,380.2 214.4,378.2 214.7,376.3 215,377 215.4,379.1 215.7,380.9 216,380 216.3,380.1 216.7,379.3 217,380.2 217.3,379.1 217.6,380.3 218,379.4 218.3,378 218.6,376.6 219,377.1 219.3,378.7 219.6,378.4 219.9,378.1 220.3,377 220.6,377.3 220.9,377.5 221.2,378.4 221.6,379.7 221.9,378.2 222.2,378.4 222.5,377.5 222.9,378 223.2,377.7 223.5,377.4 223.8,377.4 224.2,377.9 224.5,379.2 224.8,380.3 225.1,380.3 225.5,379.7 225.8,379.1 226.1,379.2 226.4,377.9 226.8,378.1 227.1,377.9 227.4,379.3 227.8,379 228.1,378.3 228.4,377.6 228.7,377.8 229.1,378 229.4,378.3 229.7,377.8 230,378.3 230.4,377.9 230.7,378.3 231,376.8 231.3,376.1 231.7,376.2 232,377.7 232.3,376.7 232.6,377.3 233,376.7 233.3,377.3 233.6,377.4 233.9,377.5 234.3,378.6 234.6,377.3 234.9,376.2 235.3,376.5 235.6,378.2 235.9,379.2 236.2,378.4 236.6,377.1 236.9,375.7 237.2,376.5 237.5,376.7 237.9,378.7 238.2,377.5 238.5,378.3 238.8,377 239.2,377.9 239.5,378.1 239.8,378.1 240.1,378.3 240.5,377.3 240.8,377.2 241.1,376.7 241.4,377.1 241.8,377.3 242.1,376.9 242.4,376.1 242.8,376 243.1,376.1 243.4,377 243.7,377.2 244.1,378.2 244.4,377.4 244.7,377.2 245,377.1 245.4,378.3 245.7,378.3 246,378 246.3,376.2 246.7,376.4 247,375.7 247.3,377 247.6,376.4 248,376.3 248.3,375.3 248.6,376.3 248.9,375.8 249.3,375.3 249.6,377.2 249.9,378.2 250.2,378.1 250.6,376.7 250.9,375.6 251.2,377.6 251.6,380 251.9,383.3 252.2,385.3 252.5,384.6 252.9,385.1 253.2,388 253.5,390 253.8,390.9 254.2,389.5 254.5,388.5 254.8,388.9 255.1,391.1 255.5,393 255.8,393.2 256.1,394 256.4,393.8 256.8,395 257.1,395.1 257.4,395.6 257.7,395.4 258.1,395.3 258.4,396.5 258.7,396.1 259.1,396.2 259.4,396.2 259.7,397.2 260,397.7 260.4,398.1 260.7,398.2 261,398.2 261.3,399 261.7,398.9 262,399.3 262.3,398.3 262.6,398.2 263,399 263.3,399.8 263.6,400.7 263.9,400.9 264.3,401.1 264.6,401.8 264.9,403 265.2,403.6 265.6,403.1 265.9,403.2 266.2,403.6 266.5,402.9 266.9,402.8 267.2,402.7 267.5,404.6 267.9,403.1 268.2,402.5 268.5,401.7 268.8,403 269.2,403 269.5,403.1 269.8,403.5 270.1,404 270.5,404.7 270.8,403.6 271.1,403.1 271.4,403.1 271.8,403.7 272.1,404.1 272.4,404.9 272.7,405.7 273.1,407.5 273.4,406.6 273.7,405.4 274,404.8 274.4,405.4 274.7,406.2 275,406 275.4,405.3 275.7,405.1 276,405.5 276.3,406 276.7,407.8 277,407.8 277.3,408.5 277.6,407.2 278,407.4 278.3,406.5 278.6,406.6 278.9,405.8 279.3,405.2 279.6,406.5 279.9,406.9 280.2,408.7 280.6,407.8 280.9,408.3 281.2,408.6 281.5,408.4 281.9,409.2 282.2,408.5 282.5,409.7 282.8,410.1 283.2,410.5 283.5,410.3" fill="none" stroke="#22dd22" stroke-width="1.6" stroke-linejoin="round"/>
<polyline points="55.3,398 55.6,386.5 56,378.2 56.3,372.7 56.6,369.5 56.9,368.5 57.3,368.5 57.6,367.7 57.9,367 58.2,366.1 58.6,367.2 58.9,366.7 59.2,366.6 59.5,364.2 59.9,364 60.2,364.5 60.5,366.5 60.8,367.3 61.2,366.7 61.5,364.7 61.8,363.4 62.1,363.7 62.5,365 62.8,365.3 63.1,366.3 63.4,366.9 63.8,367.2 64.1,364.6 64.4,363.9 64.8,363.6 65.1,365.4 65.4,365.2 65.7,364.5 66.1,364 66.4,363.4 66.7,363.4 67,363.8 67.4,363.5 67.7,363.6 68,364.3 68.3,364.5 68.7,365.8 69,364.3 69.3,364.8 69.6,363.1 70,363.3 70.3,363.2 70.6,362.2 70.9,362.4 71.3,361.4 71.6,363.5 71.9,363.2 72.3,363.3 72.6,361.6 72.9,363.4 73.2,362.9 73.6,363.5 73.9,361 74.2,361.2 74.5,361.5 74.9,361.1 75.2,362 75.5,361.6 75.8,362.9 76.2,360.6 76.5,360.4 76.8,359.8 77.1,360.9 77.5,360.8 77.8,361.1 78.1,361.6 78.4,361.4 78.8,359.8 79.1,360 79.4,360.4 79.8,362.4 80.1,362.5 80.4,362.6 80.7,360.9 81.1,360 81.4,359.5 81.7,361.3 82,360.4 82.4,361.5 82.7,359.6 83,360.3 83.3,358.7 83.7,359.2 84,359.3 84.3,360.5 84.6,360.5 85,361.3 85.3,362.2 85.6,362.7 85.9,361.4 86.3,360.1 86.6,359.9 86.9,360.4 87.2,361.3 87.6,362.1 87.9,363.7 88.2,363.3 88.6,360.7 88.9,359.2 89.2,359.3 89.5,360.5 89.9,360.2 90.2,360.3 90.5,361 90.8,360.6 91.2,359.6 91.5,357.3 91.8,358.1 92.1,357.6 92.5,359.7 92.8,358.9 93.1,359.1 93.4,358.7 93.8,361.4 94.1,361.2 94.4,360.8 94.7,359.9 95.1,362.7 95.4,365.2 95.7,367.1 96,367.2 96.4,367.7 96.7,367.6 97,368.5 97.4,368.7 97.7,369 98,369.1 98.3,371.7 98.7,373.6 99,374.4 99.3,373.6 99.6,373.6 100,375.5 100.3,376 100.6,376.4 100.9,376.6 101.3,377.3 101.6,377.7 101.9,377.2 102.2,377.5 102.6,377.3 102.9,377.6 103.2,378.6 103.5,380.7 103.9,382.4 104.2,381.8 104.5,381.2 104.9,380.6 105.2,380.9 105.5,382.5 105.8,382.9 106.2,384.4 106.5,383.4 106.8,384.1 107.1,384.6 107.5,384.9 107.8,384.5 108.1,383.2 108.4,382.9 108.8,383.4 109.1,383.7 109.4,386.5 109.7,386.7 110.1,385.9 110.4,385.3 110.7,386.5 111,388.2 111.4,388 111.7,388.1 112,387.9 112.3,388 112.7,387.8 113,389.6 113.3,390.7 113.7,390.9 114,389.1 114.3,389 114.6,389 115,390.9 115.3,390.5 115.6,390.9 115.9,390.7 116.3,390.4 116.6,390 116.9,391.3 117.2,391.4 117.6,392.7 117.9,391.8 118.2,393.1 118.5,393.5 118.9,392.3 119.2,392.6 119.5,390.4 119.8,391.6 120.2,391.3 120.5,393.6 120.8,394.4 121.2,393.7 121.5,393 121.8,392.3 122.1,392.6 122.5,392.4 122.8,392.2 123.1,393.6 123.4,395.3 123.8,396.4 124.1,396.9 124.4,396.2 124.7,395 125.1,393.6 125.4,393.8 125.7,395.4 126,396.8 126.4,396.2 126.7,396.3 127,395.2 127.3,396.4 127.7,396.5 128,398 128.3,397.3 128.7,397 129,396.4 129.3,396.6 129.6,396.6 130,396.9 130.3,396.2 130.6,395.8 130.9,397.1 131.3,398.6 131.6,398.8 131.9,396.1 132.2,395.2 132.6,396.1 132.9,397.9 133.2,399 133.5,399.1 133.5,398.3 133.9,388.6 134.2,381.7 134.5,379.3 134.8,376.3 135.2,374.8 135.5,374.5 135.8,374 136.1,375.3 136.5,375.3 136.8,375.4 137.1,374.3 137.5,373.1 137.8,372.7 138.1,374 138.4,374.5 138.8,375.5 139.1,374.9 139.4,373.6 139.7,373 140.1,373 140.4,373.3 140.7,372.9 141,371.9 141.4,371 141.7,370.4 142,371.1 142.3,371.5 142.7,370 143,368.8 143.3,369.7 143.6,371.2 144,372.4 144.3,371.1 144.6,370.5 144.9,369 145.3,368.9 145.6,369.4 145.9,370.1 146.3,370.2 146.6,370 146.9,368.9 147.2,368.9 147.6,367.6 147.9,367.4 148.2,366.6 148.5,366.8 148.9,368.8 149.2,370.6 149.5,372.2 149.8,370.6 150.2,370 150.5,368.3 150.8,368.3 151.1,368 151.5,367.6 151.8,368.1 152.1,368.3 152.4,367.9 152.8,366 153.1,365.4 153.4,366.6 153.8,368.4 154.1,367.7 154.4,368.1 154.7,368.1 155.1,368.3 155.4,369 155.7,369 156,370 156.4,370.1 156.7,369.6 157,368.9 157.3,366.4 157.7,366.5 158,366.9 158.3,369.8 158.6,370.3 159,370.1 159.3,367.5 159.6,366.5 159.9,365.1 160.3,365 160.6,365.6 160.9,367 161.2,367.3 161.6,367.1 161.9,366.3 162.2,367.3 162.6,367.8 162.9,368 163.2,367.2 163.5,365.9 163.9,366 164.2,367.8 164.5,368.6 164.8,369.5 165.2,368.3 165.5,369.3 165.8,368.5 166.1,367.5 166.5,367.1 166.8,368 167.1,368.1 167.4,368.2 167.8,367.5 168.1,367.9 168.4,368.4 168.7,368.7 169.1,369 169.4,367.5 169.7,367.2 170.1,367.7 170.4,368.2 170.7,367.6 171,367.1 171.4,366.7 171.7,367.4 172,367 172.3,365.6 172.7,364.3 173,365.5 173.3,366.7 173.6,367.9 174,370.6 174.3,373.5 174.6,375.1 174.9,374.8 175.3,373.6 175.6,374.8 175.9,376 176.2,378.4 176.6,378 176.9,378.6 177.2,378.7 177.6,379.7 177.9,379.8 178.2,380.5 178.5,382.8 178.9,383 179.2,385.2 179.5,384.5 179.8,384.2 180.2,383.2 180.5,383.3 180.8,385.6 181.1,386.9 181.5,388.9 181.8,387.9 182.1,387.1 182.4,387.3 182.8,387.5 183.1,388.4 183.4,388.2 183.7,388.4 184.1,388.2 184.4,387 184.7,388.3 185,389.1 185.4,389.9 185.7,390.3 186,389.7 186.4,389.8 186.7,389.9 187,392.1 187.3,392.6 187.7,392.6 188,392.3 188.3,392.6 188.6,393.7 189,393.2 189.3,394.2 189.6,393.7 189.9,393.1 190.3,392 190.6,392.3 190.9,394.5 191.2,396.5 191.6,396.2 191.9,396.8 192.2,395 192.5,394.8 192.9,394 193.2,393.9 193.5,395.3 193.9,395.1 194.2,396.8 194.5,395.5 194.8,395.7 195.2,396.1 195.5,397 195.8,397.6 196.1,397.2 196.5,397.6 196.8,396.9 197.1,396.1 197.4,395.9 197.8,396.6 198.1,397.2 198.4,396.1 198.7,394.9 199.1,396.5 199.4,397.8 199.7,398.5 200,398.6 200.4,398.8 200.7,398.4 201,397.4 201.3,397.1 201.7,398.1 202,397.9 202.3,398.7 202.7,399.3 203,399.7 203.3,399.6 203.6,399.3 204,400.5 204.3,400.2 204.6,401 204.9,401.4 205.3,401.9 205.6,400.8 205.9,399.9 206.2,398.9 206.6,399.3 206.9,398.9 207.2,400.1 207.5,400.3 207.9,401.6 208.2,401.9 208.5,402.6 208.8,402.3 209.2,402.6 209.5,401.6 209.8,402.2 210.1,403 210.5,404.7 210.8,403.4 211.1,402.9 211.5,401.1 211.8,402.7 211.8,402.3 212.1,390.9 212.4,383.3 212.8,379.8 213.1,378.1 213.4,376.9 213.7,376.5 214.1,376.4 214.4,377.2 214.7,377 215,376.7 215.4,377.8 215.7,378.5 216,378.6 216.3,376 216.7,375.7 217,375.8 217.3,374.9 217.6,374.3 218,374.1 218.3,375.9 218.6,376.1 219,375.6 219.3,376.5 219.6,376.7 219.9,376.5 220.3,375.4 220.6,376.5 220.9,376.1 221.2,375.9 221.6,374.6 221.9,375.2 222.2,375.8 222.5,376.5 222.9,377.1 223.2,377.2 223.5,376.2 223.8,375.4 224.2,374.9 224.5,375.5 224.8,374.7 225.1,374.1 225.5,373 225.8,373.2 226.1,373.4 226.4,374.5 226.8,373.6 227.1,374.5 227.4,372.7 227.8,374.1 228.1,373.3 228.4,373.5 228.7,372.6 229.1,373 229.4,371.6 229.7,371.2 230,370.8 230.4,373.6 230.7,376.3 231,376.4 231.3,375 231.7,373.6 232,374.1 232.3,375.3 232.6,374.8 233,374.8 233.3,374.1 233.6,375.5 233.9,374.9 234.3,374.8 234.6,373.4 234.9,372.7 235.3,373 235.6,374.1 235.9,375.8 236.2,375.8 236.6,374.9 236.9,373.5 237.2,372.5 237.5,372.3 237.9,373.2 238.2,374 238.5,373 238.8,372.6 239.2,372.4 239.5,373.2 239.8,373.3 240.1,373.8 240.5,373.8 240.8,372.9 241.1,372.3 241.4,373.2 241.8,373.9 242.1,375.2 242.4,375.1 242.8,374.6 243.1,374 243.4,373.5 243.7,374.7 244.1,374.2 244.4,375.5 244.7,374.3 245,374.7 245.4,374.2 245.7,374.2 246,374.2 246.3,375.5 246.7,376.4 247,375.3 247.3,373.7 247.6,374.3 248,375 248.3,376.1 248.6,374.8 248.9,375.5 249.3,373.4 249.6,373.7 249.9,372.6 250.2,373.3 250.6,374.3 250.9,374.1 251.2,375.8 251.6,377.2 251.9,379.1 252.2,379.4 252.5,378.4 252.9,377.1 253.2,378.4 253.5,380.1 253.8,382.9 254.2,383.4 254.5,384.8 254.8,385.1 255.1,383.8 255.5,382.2 255.8,382.7 256.1,384.5 256.4,386.1 256.8,387.7 257.1,387.9 257.4,389.2 257.7,387.7 258.1,387.6 258.4,386.5 258.7,387.5 259.1,388.4 259.4,389.8 259.7,388.9 260,389.4 260.4,389.3 260.7,390 261,390.1 261.3,389.7 261.7,390.5 262,392.4 262.3,393.6 262.6,394.7 263,393.7 263.3,391.9 263.6,390.8 263.9,390.7 264.3,391.4 264.6,391.3 264.9,391.8 265.2,392.7 265.6,393.9 265.9,393.5 266.2,394.5 266.5,394.1 266.9,395.4 267.2,395.7 267.5,395 267.9,395.7 268.2,394.5 268.5,395.9 268.8,395.7 269.2,397 269.5,395.8 269.8,395.3 270.1,395.6 270.5,396.8 270.8,396.8 271.1,396.2 271.4,397.6 271.8,397.4 272.1,396.9 272.4,395.1 272.7,395.3 273.1,395.9 273.4,397.1 273.7,397.5 274,396.6 274.4,395.4 274.7,396.1 275,397.9 275.4,398.2 275.7,398.5 276,396.5 276.3,399.2 276.7,399 277,399.7 277.3,398.6 277.6,398.3 278,399.2 278.3,398.7 278.6,398.7 278.9,399.1 279.3,398.8 279.6,398.7 279.9,399.3 280.2,400.4 280.6,400 280.9,399.4 281.2,400.2 281.5,401.7 281.9,403.3 282.2,401.4 282.5,400.3 282.8,397.7 283.2,397.4 283.5,396.8" fill="none" stroke="#2585e8" stroke-width="1.6" stroke-linejoin="round"/>
<rect x="49" y="251" width="234.3" height="179.8" fill="none" stroke="#2a2a2a" stroke-width="1.3"/>
<line x1="49" y1="340.5" x2="283.3" y2="340.5" stroke="#2a2a2a" stroke-width="1.2" />
<path d="M55.3 430.8L55.3 434.3M55.3 251L55.3 254M55.3 340.5L55.3 337.5M55.3 340.5L55.3 343.5M120.5 430.8L120.5 434.3M120.5 251L120.5 254M120.5 340.5L120.5 337.5M120.5 340.5L120.5 343.5M185.7 430.8L185.7 434.3M185.7 251L185.7 254M185.7 340.5L185.7 337.5M185.7 340.5L185.7 343.5M250.9 430.8L250.9 434.3M250.9 251L250.9 254M250.9 340.5L250.9 337.5M250.9 340.5L250.9 343.5M87.9 430.8L87.9 432.8M87.9 251L87.9 253M87.9 340.5L87.9 338.5M87.9 340.5L87.9 342.5M153.1 430.8L153.1 432.8M153.1 251L153.1 253M153.1 340.5L153.1 338.5M153.1 340.5L153.1 342.5M218.3 430.8L218.3 432.8M218.3 251L218.3 253M218.3 340.5L218.3 338.5M218.3 340.5L218.3 342.5M45 251L49 251M279.8 251L283.3 251M45 283.9L49 283.9M279.8 283.9L283.3 283.9M45 320.6L49 320.6M279.8 320.6L283.3 320.6M47 254.1L49 254.1M281.3 254.1L283.3 254.1M47 257.3L49 257.3M281.3 257.3L283.3 257.3M47 260.5L49 260.5M281.3 260.5L283.3 260.5M47 263.7L49 263.7M281.3 263.7L283.3 263.7M47 267L49 267M281.3 267L283.3 267M47 270.3L49 270.3M281.3 270.3L283.3 270.3M47 273.6L49 273.6M281.3 273.6L283.3 273.6M47 277L49 277M281.3 277L283.3 277M47 280.4L49 280.4M281.3 280.4L283.3 280.4M47 287.3L49 287.3M281.3 287.3L283.3 287.3M47 290.9L49 290.9M281.3 290.9L283.3 290.9M47 294.4L49 294.4M281.3 294.4L283.3 294.4M47 298L49 298M281.3 298L283.3 298M47 301.7L49 301.7M281.3 301.7L283.3 301.7M47 305.4L49 305.4M281.3 305.4L283.3 305.4M47 309.1L49 309.1M281.3 309.1L283.3 309.1M47 312.9L49 312.9M281.3 312.9L283.3 312.9M47 316.7L49 316.7M281.3 316.7L283.3 316.7M47 324.5L49 324.5M281.3 324.5L283.3 324.5M47 328.5L49 328.5M281.3 328.5L283.3 328.5M47 332.5L49 332.5M281.3 332.5L283.3 332.5M47 336.6L49 336.6M281.3 336.6L283.3 336.6M45 340.5L49 340.5M279.8 340.5L283.3 340.5M45 365.2L49 365.2M279.8 365.2L283.3 365.2M45 394.5L49 394.5M279.8 394.5L283.3 394.5M45 430.3L49 430.3M279.8 430.3L283.3 430.3M47 342.8L49 342.8M281.3 342.8L283.3 342.8M47 345.2L49 345.2M281.3 345.2L283.3 345.2M47 347.5L49 347.5M281.3 347.5L283.3 347.5M47 349.9L49 349.9M281.3 349.9L283.3 349.9M47 352.4L49 352.4M281.3 352.4L283.3 352.4M47 354.9L49 354.9M281.3 354.9L283.3 354.9M47 357.4L49 357.4M281.3 357.4L283.3 357.4M47 360L49 360M281.3 360L283.3 360M47 362.6L49 362.6M281.3 362.6L283.3 362.6M47 367.9L49 367.9M281.3 367.9L283.3 367.9M47 370.7L49 370.7M281.3 370.7L283.3 370.7M47 373.5L49 373.5M281.3 373.5L283.3 373.5M47 376.3L49 376.3M281.3 376.3L283.3 376.3M47 379.2L49 379.2M281.3 379.2L283.3 379.2M47 382.1L49 382.1M281.3 382.1L283.3 382.1M47 385.1L49 385.1M281.3 385.1L283.3 385.1M47 388.2L49 388.2M281.3 388.2L283.3 388.2M47 391.3L49 391.3M281.3 391.3L283.3 391.3M47 397.7L49 397.7M281.3 397.7L283.3 397.7M47 401L49 401M281.3 401L283.3 401M47 404.4L49 404.4M281.3 404.4L283.3 404.4M47 407.9L49 407.9M281.3 407.9L283.3 407.9M47 411.4L49 411.4M281.3 411.4L283.3 411.4M47 415L49 415M281.3 415L283.3 415M47 418.7L49 418.7M281.3 418.7L283.3 418.7M47 422.5L49 422.5M281.3 422.5L283.3 422.5M47 426.3L49 426.3M281.3 426.3L283.3 426.3" stroke="#2a2a2a" stroke-width="1.0" fill="none"/>
<text x="43" y="254.3" font-size="11.5" text-anchor="end" font-weight="normal" fill="#111" stroke="#111" >20</text>
<text x="43" y="287.2" font-size="11.5" text-anchor="end" font-weight="normal" fill="#111" stroke="#111" >18</text>
<text x="43" y="323.9" font-size="11.5" text-anchor="end" font-weight="normal" fill="#111" stroke="#111" >16</text>
<text x="43" y="343.8" font-size="11.5" text-anchor="end" font-weight="normal" fill="#111" stroke="#111" >7</text>
<text x="43" y="368.5" font-size="11.5" text-anchor="end" font-weight="normal" fill="#111" stroke="#111" >6</text>
<text x="43" y="397.8" font-size="11.5" text-anchor="end" font-weight="normal" fill="#111" stroke="#111" >5</text>
<text x="43" y="433.6" font-size="11.5" text-anchor="end" font-weight="normal" fill="#111" stroke="#111" >4</text>
<text x="55.3" y="445.5" font-size="11.5" text-anchor="middle" font-weight="normal" fill="#111" stroke="#111" >0</text>
<text x="120.5" y="445.5" font-size="11.5" text-anchor="middle" font-weight="normal" fill="#111" stroke="#111" >100</text>
<text x="185.7" y="445.5" font-size="11.5" text-anchor="middle" font-weight="normal" fill="#111" stroke="#111" >200</text>
<text x="250.9" y="445.5" font-size="11.5" text-anchor="middle" font-weight="normal" fill="#111" stroke="#111" >300</text>
<text x="166" y="463.8" font-size="14.2" text-anchor="middle" font-weight="normal" fill="#111" stroke="#111" >Time (s)</text>
<text transform="translate(15,290) rotate(-90)" font-size="14.8" text-anchor="middle" fill="#111" stroke="#111">|I<tspan font-size="8" dy="3.8">d</tspan><tspan dy="-3.8"> (μA)|</tspan></text>
<text transform="translate(15,385) rotate(-90)" font-size="14.8" text-anchor="middle" fill="#111" stroke="#111">I<tspan font-size="8" dy="3.8">d</tspan><tspan dy="-3.8"> (μA)</tspan></text>
<text x="48.5" y="270" font-size="19.5" text-anchor="start" font-weight="normal" fill="#111" stroke="#111" >(c)</text>
<text x="125.4" y="264.2" font-size="14.5" text-anchor="start" font-weight="normal" fill="#111" stroke="#111" >High vacuum</text>
<text x="51.3" y="333.7" font-size="11.2" text-anchor="start" font-weight="normal" fill="#111" stroke="#111" >V</text>
<text x="59.3" y="338" font-size="7.5" text-anchor="start" font-weight="normal" fill="#111" stroke="#111" >ds</text>
<text x="69.8" y="333.7" font-size="11.2" text-anchor="start" font-weight="normal" fill="#111" stroke="#111" >= -5 V</text>
<text x="51.3" y="353.6" font-size="11.2" text-anchor="start" font-weight="normal" fill="#111" stroke="#111" >V</text>
<text x="59.3" y="357.9" font-size="7.5" text-anchor="start" font-weight="normal" fill="#111" stroke="#111" >ds</text>
<text x="69.8" y="353.6" font-size="11.2" text-anchor="start" font-weight="normal" fill="#111" stroke="#111" >= 5 V</text>
<text x="137" y="413" font-size="10.8" text-anchor="start" font-weight="normal" fill="#111" stroke="#111" >P</text>
<text x="143.6" y="417" font-size="7.2" text-anchor="start" font-weight="normal" fill="#111" stroke="#111" >inc</text>
<text x="156.3" y="414.8" font-size="10.8" text-anchor="start" font-weight="normal" fill="#111" stroke="#111" >(μW)</text>
<line x1="49.5" y1="422.8" x2="74.1" y2="422.8" stroke="#c84040" stroke-width="2.0" />
<text x="77.2" y="427" font-size="12" text-anchor="start" font-weight="normal" fill="#111" stroke="#111" >48</text>
<line x1="91.8" y1="422.8" x2="116.9" y2="422.8" stroke="#dc8a50" stroke-width="2.0" />
<text x="120" y="427" font-size="12" text-anchor="start" font-weight="normal" fill="#111" stroke="#111" >95</text>
<line x1="134.6" y1="422.8" x2="159.7" y2="422.8" stroke="#f0e060" stroke-width="2.0" />
<text x="162.5" y="427" font-size="12" text-anchor="start" font-weight="normal" fill="#111" stroke="#111" >145</text>
<line x1="183" y1="422.8" x2="210" y2="422.8" stroke="#50d050" stroke-width="2.0" />
<text x="212" y="427" font-size="12" text-anchor="start" font-weight="normal" fill="#111" stroke="#111" >193</text>
<line x1="232" y1="422.8" x2="260" y2="422.8" stroke="#3a86d6" stroke-width="2.0" />
<text x="261.5" y="427" font-size="12" text-anchor="start" font-weight="normal" fill="#111" stroke="#111" >241</text>
<line x1="367.2" y1="92.2" x2="517.6" y2="31.7" stroke="#2030d0" stroke-width="1.2" />
<line x1="366.5" y1="173.3" x2="517.6" y2="96.7" stroke="#9030e0" stroke-width="1.2" />
<line x1="366.5" y1="163.9" x2="366.5" y2="177.9" stroke="#f01010" stroke-width="1.0" />
<line x1="364.3" y1="163.9" x2="368.7" y2="163.9" stroke="#f01010" stroke-width="1.0" />
<line x1="364.3" y1="177.9" x2="368.7" y2="177.9" stroke="#f01010" stroke-width="1.0" />
<line x1="516.6" y1="92" x2="516.6" y2="102.5" stroke="#2080e8" stroke-width="1.0" />
<line x1="514.4" y1="92" x2="518.8" y2="92" stroke="#2080e8" stroke-width="1.0" />
<line x1="514.4" y1="102.5" x2="518.8" y2="102.5" stroke="#2080e8" stroke-width="1.0" />
<line x1="366.5" y1="96.5" x2="366.5" y2="103.5" stroke="#f01010" stroke-width="1.0" />
<line x1="364.3" y1="96.5" x2="368.7" y2="96.5" stroke="#f01010" stroke-width="1.0" />
<line x1="364.3" y1="103.5" x2="368.7" y2="103.5" stroke="#f01010" stroke-width="1.0" />
<rect x="363.7" y="96.9" width="5.6" height="5.6" fill="#f01010"/>
<rect x="428.1" y="59.5" width="5.6" height="5.6" fill="#f06a1a"/>
<rect x="467.2" y="43.8" width="5.6" height="5.6" fill="#f2e020"/>
<rect x="493.3" y="36.2" width="5.6" height="5.6" fill="#20d820"/>
<rect x="513.8" y="29.9" width="5.6" height="5.6" fill="#2080e8"/>
<circle cx="366.5" cy="170.9" r="2.9" fill="#f01010"/>
<circle cx="430.9" cy="142.7" r="2.9" fill="#f06a1a"/>
<circle cx="470" cy="118.4" r="2.9" fill="#f2e020"/>
<circle cx="496.1" cy="109.2" r="2.9" fill="#20d820"/>
<circle cx="516.6" cy="97.3" r="2.9" fill="#2080e8"/>
<rect x="350.1" y="9.5" width="213.5" height="171.8" fill="none" stroke="#2a2a2a" stroke-width="1.3"/>
<path d="M346.1 9.5L350.1 9.5M559.6 9.5L563.6 9.5M346.1 34L350.1 34M559.6 34L563.6 34M346.1 58.6L350.1 58.6M559.6 58.6L563.6 58.6M346.1 83.1L350.1 83.1M559.6 83.1L563.6 83.1M346.1 107.7L350.1 107.7M559.6 107.7L563.6 107.7M346.1 132.2L350.1 132.2M559.6 132.2L563.6 132.2M346.1 156.7L350.1 156.7M559.6 156.7L563.6 156.7M346.1 181.3L350.1 181.3M559.6 181.3L563.6 181.3M347.6 21.8L350.1 21.8M561.1 21.8L563.6 21.8M347.6 46.3L350.1 46.3M561.1 46.3L563.6 46.3M347.6 70.8L350.1 70.8M561.1 70.8L563.6 70.8M347.6 95.4L350.1 95.4M561.1 95.4L563.6 95.4M347.6 119.9L350.1 119.9M561.1 119.9L563.6 119.9M347.6 144.5L350.1 144.5M561.1 144.5L563.6 144.5M347.6 169L350.1 169M561.1 169L563.6 169M350.1 181.3L350.1 185.3M350.1 9.5L350.1 13.5M392.8 181.3L392.8 185.3M392.8 9.5L392.8 13.5M435.5 181.3L435.5 185.3M435.5 9.5L435.5 13.5M478.2 181.3L478.2 185.3M478.2 9.5L478.2 13.5M520.9 181.3L520.9 185.3M520.9 9.5L520.9 13.5M563.6 181.3L563.6 185.3M563.6 9.5L563.6 13.5M371.4 181.3L371.4 183.8M371.4 9.5L371.4 12M414.1 181.3L414.1 183.8M414.1 9.5L414.1 12M456.9 181.3L456.9 183.8M456.9 9.5L456.9 12M499.5 181.3L499.5 183.8M499.5 9.5L499.5 12M542.2 181.3L542.2 183.8M542.2 9.5L542.2 12" stroke="#2a2a2a" stroke-width="1.0" fill="none"/>
<text x="344.3" y="13" font-size="11.5" text-anchor="end" font-weight="normal" fill="#111" stroke="#111" >-6.8</text>
<text x="344.3" y="37.5" font-size="11.5" text-anchor="end" font-weight="normal" fill="#111" stroke="#111" >-7.0</text>
<text x="344.3" y="62.1" font-size="11.5" text-anchor="end" font-weight="normal" fill="#111" stroke="#111" >-7.2</text>
<text x="344.3" y="86.6" font-size="11.5" text-anchor="end" font-weight="normal" fill="#111" stroke="#111" >-7.4</text>
<text x="344.3" y="111.2" font-size="11.5" text-anchor="end" font-weight="normal" fill="#111" stroke="#111" >-7.6</text>
<text x="344.3" y="135.7" font-size="11.5" text-anchor="end" font-weight="normal" fill="#111" stroke="#111" >-7.8</text>
<text x="344.3" y="160.2" font-size="11.5" text-anchor="end" font-weight="normal" fill="#111" stroke="#111" >-8.0</text>
<text x="344.3" y="184.8" font-size="11.5" text-anchor="end" font-weight="normal" fill="#111" stroke="#111" >-8.2</text>
<text x="350.1" y="195.9" font-size="11.5" text-anchor="middle" font-weight="normal" fill="#111" stroke="#111" >1.6</text>
<text x="392.8" y="195.9" font-size="11.5" text-anchor="middle" font-weight="normal" fill="#111" stroke="#111" >1.8</text>
<text x="435.5" y="195.9" font-size="11.5" text-anchor="middle" font-weight="normal" fill="#111" stroke="#111" >2.0</text>
<text x="478.2" y="195.9" font-size="11.5" text-anchor="middle" font-weight="normal" fill="#111" stroke="#111" >2.2</text>
<text x="520.9" y="195.9" font-size="11.5" text-anchor="middle" font-weight="normal" fill="#111" stroke="#111" >2.4</text>
<text x="563.6" y="195.9" font-size="11.5" text-anchor="middle" font-weight="normal" fill="#111" stroke="#111" >2.6</text>
<text x="350.5" y="29.3" font-size="19.5" text-anchor="start" font-weight="normal" fill="#111" stroke="#111" >(b)</text>
<text x="407.4" y="23.2" font-size="14.5" text-anchor="start" font-weight="normal" fill="#111" stroke="#111" >Ambient Pressure</text>
<text x="352.2" y="53.5" font-size="13.2" font-weight="bold" fill="#1a22d8" stroke="#1a22d8"><tspan font-family="Liberation Serif" font-weight="normal" font-size="16.2">α</tspan> = 0.71 <tspan font-weight="normal">±</tspan> 0.07</text>
<text x="352" y="128.9" font-size="14.0" font-weight="bold" fill="#8a1ee0" stroke="#8a1ee0"><tspan font-family="Liberation Serif" font-weight="normal" font-size="17.0">α</tspan> = 0.88 <tspan font-weight="normal">±</tspan> 0.06</text>
<text x="502.5" y="70.8" font-size="11.5" text-anchor="start" font-weight="normal" fill="#111" stroke="#111" >I</text>
<text x="505.5" y="75" font-size="7.2" text-anchor="start" font-weight="normal" fill="#111" stroke="#111" >ph</text>
<text x="516.5" y="70.5" font-size="13.5" text-anchor="start" font-weight="normal" fill="#111" stroke="#111" >∝</text>
<text x="528.5" y="70.8" font-size="11.5" text-anchor="start" font-weight="normal" fill="#111" stroke="#111" >P</text>
<text x="537.2" y="75" font-size="7.2" text-anchor="start" font-weight="normal" fill="#111" stroke="#111" >inc</text>
<text x="545.5" y="65.3" font-size="7.5" text-anchor="start" font-weight="normal" fill="#111" stroke="#111" font-family="Liberation Serif">α</text>
<text transform="translate(315.5,95) rotate(-90)" font-size="14.2" text-anchor="middle" fill="#111" stroke="#111">Log I<tspan font-size="8.5" dy="4.2">ph</tspan></text>
<text x="432.5" y="214.3" font-size="14.2" text-anchor="start" font-weight="normal" fill="#111" stroke="#111" >Log P</text>
<text x="470" y="219.8" font-size="9" text-anchor="start" font-weight="normal" fill="#111" stroke="#111" >inc</text>
<rect x="491" y="147.6" width="5.2" height="5.2" fill="#f01010"/>
<circle cx="493.8" cy="167.3" r="3" fill="#f01010"/>
<text x="509.8" y="153.6" font-size="11.2" text-anchor="start" font-weight="normal" fill="#111" stroke="#111" >V</text>
<text x="517.8" y="157.9" font-size="7.5" text-anchor="start" font-weight="normal" fill="#111" stroke="#111" >ds</text>
<text x="528.3" y="153.6" font-size="11.2" text-anchor="start" font-weight="normal" fill="#111" stroke="#111" >= 5 V</text>
<text x="509.8" y="171.3" font-size="11.2" text-anchor="start" font-weight="normal" fill="#111" stroke="#111" >V</text>
<text x="517.8" y="175.6" font-size="7.5" text-anchor="start" font-weight="normal" fill="#111" stroke="#111" >ds</text>
<text x="528.3" y="171.3" font-size="11.2" text-anchor="start" font-weight="normal" fill="#111" stroke="#111" >= -5 V</text>
<line x1="366.1" y1="380" x2="517.2" y2="268.4" stroke="#2030d0" stroke-width="1.2" />
<line x1="366.1" y1="376.2" x2="517.2" y2="276" stroke="#9030e0" stroke-width="1.2" />
<line x1="366.5" y1="355.2" x2="366.5" y2="402.3" stroke="#f01010" stroke-width="1.0" />
<line x1="364.3" y1="355.2" x2="368.7" y2="355.2" stroke="#f01010" stroke-width="1.0" />
<line x1="364.3" y1="402.3" x2="368.7" y2="402.3" stroke="#f01010" stroke-width="1.0" />
<line x1="430.9" y1="301.6" x2="430.9" y2="351.4" stroke="#f06a1a" stroke-width="1.0" />
<line x1="428.7" y1="301.6" x2="433.1" y2="301.6" stroke="#f06a1a" stroke-width="1.0" />
<line x1="428.7" y1="351.4" x2="433.1" y2="351.4" stroke="#f06a1a" stroke-width="1.0" />
<line x1="470" y1="287.5" x2="470" y2="312" stroke="#f2e020" stroke-width="1.0" />
<line x1="467.8" y1="287.5" x2="472.2" y2="287.5" stroke="#f2e020" stroke-width="1.0" />
<line x1="467.8" y1="312" x2="472.2" y2="312" stroke="#f2e020" stroke-width="1.0" />
<line x1="496.1" y1="272.2" x2="496.1" y2="303.6" stroke="#20d820" stroke-width="1.0" />
<line x1="493.9" y1="272.2" x2="498.3" y2="272.2" stroke="#20d820" stroke-width="1.0" />
<line x1="493.9" y1="303.6" x2="498.3" y2="303.6" stroke="#20d820" stroke-width="1.0" />
<line x1="516.6" y1="261.5" x2="516.6" y2="305.5" stroke="#2080e8" stroke-width="1.0" />
<line x1="514.4" y1="261.5" x2="518.8" y2="261.5" stroke="#2080e8" stroke-width="1.0" />
<line x1="514.4" y1="305.5" x2="518.8" y2="305.5" stroke="#2080e8" stroke-width="1.0" />
<rect x="363.7" y="384.2" width="5.6" height="5.6" fill="#f01010"/>
<rect x="428.1" y="316.1" width="5.6" height="5.6" fill="#f06a1a"/>
<rect x="467.2" y="296.9" width="5.6" height="5.6" fill="#f2e020"/>
<rect x="493.3" y="283.5" width="5.6" height="5.6" fill="#20d820"/>
<rect x="513.8" y="280.9" width="5.6" height="5.6" fill="#2080e8"/>
<rect x="513.8" y="283.7" width="5.6" height="5.6" fill="#2080e8"/>
<circle cx="366.5" cy="374.3" r="2.9" fill="#f01010"/>
<circle cx="430.9" cy="341.8" r="2.9" fill="#f06a1a"/>
<circle cx="470" cy="303.6" r="2.9" fill="#f2e020"/>
<circle cx="496.1" cy="294" r="2.9" fill="#20d820"/>
<circle cx="516.6" cy="286.3" r="2.9" fill="#2080e8"/>
<rect x="350.1" y="254" width="212.9" height="171.8" fill="none" stroke="#2a2a2a" stroke-width="1.3"/>
<path d="M346.1 254L350.1 254M559 254L563 254M346.1 282.6L350.1 282.6M559 282.6L563 282.6M346.1 311.3L350.1 311.3M559 311.3L563 311.3M346.1 339.9L350.1 339.9M559 339.9L563 339.9M346.1 368.5L350.1 368.5M559 368.5L563 368.5M346.1 397.1L350.1 397.1M559 397.1L563 397.1M346.1 425.8L350.1 425.8M559 425.8L563 425.8M347.6 268.3L350.1 268.3M560.5 268.3L563 268.3M347.6 296.9L350.1 296.9M560.5 296.9L563 296.9M347.6 325.6L350.1 325.6M560.5 325.6L563 325.6M347.6 354.2L350.1 354.2M560.5 354.2L563 354.2M347.6 382.8L350.1 382.8M560.5 382.8L563 382.8M347.6 411.5L350.1 411.5M560.5 411.5L563 411.5M350.1 425.8L350.1 429.8M350.1 254L350.1 258M392.8 425.8L392.8 429.8M392.8 254L392.8 258M435.5 425.8L435.5 429.8M435.5 254L435.5 258M478.2 425.8L478.2 429.8M478.2 254L478.2 258M520.9 425.8L520.9 429.8M520.9 254L520.9 258M563.6 425.8L563.6 429.8M563.6 254L563.6 258M371.4 425.8L371.4 428.3M371.4 254L371.4 256.5M414.1 425.8L414.1 428.3M414.1 254L414.1 256.5M456.9 425.8L456.9 428.3M456.9 254L456.9 256.5M499.5 425.8L499.5 428.3M499.5 254L499.5 256.5M542.2 425.8L542.2 428.3M542.2 254L542.2 256.5" stroke="#2a2a2a" stroke-width="1.0" fill="none"/>
<text x="344.3" y="257.5" font-size="11.5" text-anchor="end" font-weight="normal" fill="#111" stroke="#111" >-5.8</text>
<text x="344.3" y="286.1" font-size="11.5" text-anchor="end" font-weight="normal" fill="#111" stroke="#111" >-5.9</text>
<text x="344.3" y="314.8" font-size="11.5" text-anchor="end" font-weight="normal" fill="#111" stroke="#111" >-6.0</text>
<text x="344.3" y="343.4" font-size="11.5" text-anchor="end" font-weight="normal" fill="#111" stroke="#111" >-6.1</text>
<text x="344.3" y="372" font-size="11.5" text-anchor="end" font-weight="normal" fill="#111" stroke="#111" >-6.2</text>
<text x="344.3" y="400.6" font-size="11.5" text-anchor="end" font-weight="normal" fill="#111" stroke="#111" >-6.3</text>
<text x="344.3" y="429.3" font-size="11.5" text-anchor="end" font-weight="normal" fill="#111" stroke="#111" >-6.4</text>
<text x="350.1" y="440.4" font-size="11.5" text-anchor="middle" font-weight="normal" fill="#111" stroke="#111" >1.6</text>
<text x="392.8" y="440.4" font-size="11.5" text-anchor="middle" font-weight="normal" fill="#111" stroke="#111" >1.8</text>
<text x="435.5" y="440.4" font-size="11.5" text-anchor="middle" font-weight="normal" fill="#111" stroke="#111" >2.0</text>
<text x="478.2" y="440.4" font-size="11.5" text-anchor="middle" font-weight="normal" fill="#111" stroke="#111" >2.2</text>
<text x="520.9" y="440.4" font-size="11.5" text-anchor="middle" font-weight="normal" fill="#111" stroke="#111" >2.4</text>
<text x="563.6" y="440.4" font-size="11.5" text-anchor="middle" font-weight="normal" fill="#111" stroke="#111" >2.6</text>
<text x="350.5" y="273" font-size="19.5" text-anchor="start" font-weight="normal" fill="#111" stroke="#111" >(d)</text>
<text x="409.3" y="267.2" font-size="14.5" text-anchor="start" font-weight="normal" fill="#111" stroke="#111" >High Vacuum</text>
<text x="350.8" y="296.8" font-size="13.2" font-weight="bold" fill="#1a22d8" stroke="#1a22d8"><tspan font-family="Liberation Serif" font-weight="normal" font-size="16.2">α</tspan> = 0.55 <tspan font-weight="normal">±</tspan> 0.07</text>
<text x="375" y="396.5" font-size="13.2" font-weight="bold" fill="#8a1ee0" stroke="#8a1ee0"><tspan font-family="Liberation Serif" font-weight="normal" font-size="16.2">α</tspan> = 0.49 <tspan font-weight="normal">±</tspan> 0.08</text>
<text x="508" y="335.9" font-size="15" text-anchor="start" font-weight="normal" fill="#111" stroke="#111" >I</text>
<text x="511.6" y="341.5" font-size="8.5" text-anchor="start" font-weight="normal" fill="#111" stroke="#111" >ph</text>
<text x="524.5" y="336.5" font-size="16.5" text-anchor="start" font-weight="normal" fill="#111" stroke="#111" >∝</text>
<text x="539.5" y="335.9" font-size="15" text-anchor="start" font-weight="normal" fill="#111" stroke="#111" >P</text>
<text x="549" y="329.5" font-size="9" text-anchor="start" font-weight="normal" fill="#111" stroke="#111" font-family="Liberation Serif">α</text>
<text transform="translate(315.5,339.5) rotate(-90)" font-size="14.2" text-anchor="middle" fill="#111" stroke="#111">Log I<tspan font-size="8.5" dy="4.2">ph</tspan></text>
<text x="432.5" y="459" font-size="14.2" text-anchor="start" font-weight="normal" fill="#111" stroke="#111" >Log P</text>
<text x="470" y="464.3" font-size="9" text-anchor="start" font-weight="normal" fill="#111" stroke="#111" >inc</text>
<rect x="489.7" y="395.8" width="5.2" height="5.2" fill="#f01010"/>
<circle cx="492.3" cy="415.3" r="3" fill="#f01010"/>
<text x="509.8" y="401.8" font-size="11.2" text-anchor="start" font-weight="normal" fill="#111" stroke="#111" >V</text>
<text x="517.8" y="406.1" font-size="7.5" text-anchor="start" font-weight="normal" fill="#111" stroke="#111" >ds</text>
<text x="528.3" y="401.8" font-size="11.2" text-anchor="start" font-weight="normal" fill="#111" stroke="#111" >= 5 V</text>
<text x="509.8" y="419" font-size="11.2" text-anchor="start" font-weight="normal" fill="#111" stroke="#111" >V</text>
<text x="517.8" y="423.3" font-size="7.5" text-anchor="start" font-weight="normal" fill="#111" stroke="#111" >ds</text>
<text x="528.3" y="419" font-size="11.2" text-anchor="start" font-weight="normal" fill="#111" stroke="#111" >= -5 V</text>
<rect x="57.7" y="502.6" width="213.1" height="171.6" fill="none" stroke="#2a2a2a" stroke-width="1.3"/>
<path d="M53.7 658.5L57.7 658.5M266.8 658.5L270.8 658.5M53.7 606.5L57.7 606.5M266.8 606.5L270.8 606.5M53.7 554.5L57.7 554.5M266.8 554.5L270.8 554.5M53.7 502.5L57.7 502.5M266.8 502.5L270.8 502.5M55.5 674.2L57.7 674.2M268.6 674.2L270.8 674.2M55.5 670L57.7 670M268.6 670L270.8 670M55.5 666.6L57.7 666.6M268.6 666.6L270.8 666.6M55.5 663.5L57.7 663.5M268.6 663.5L270.8 663.5M55.5 660.9L57.7 660.9M268.6 660.9L270.8 660.9M55.5 642.8L57.7 642.8M268.6 642.8L270.8 642.8M55.5 633.7L57.7 633.7M268.6 633.7L270.8 633.7M55.5 627.2L57.7 627.2M268.6 627.2L270.8 627.2M55.5 622.2L57.7 622.2M268.6 622.2L270.8 622.2M55.5 618L57.7 618M268.6 618L270.8 618M55.5 614.6L57.7 614.6M268.6 614.6L270.8 614.6M55.5 611.5L57.7 611.5M268.6 611.5L270.8 611.5M55.5 608.9L57.7 608.9M268.6 608.9L270.8 608.9M55.5 590.8L57.7 590.8M268.6 590.8L270.8 590.8M55.5 581.7L57.7 581.7M268.6 581.7L270.8 581.7M55.5 575.2L57.7 575.2M268.6 575.2L270.8 575.2M55.5 570.2L57.7 570.2M268.6 570.2L270.8 570.2M55.5 566L57.7 566M268.6 566L270.8 566M55.5 562.6L57.7 562.6M268.6 562.6L270.8 562.6M55.5 559.5L57.7 559.5M268.6 559.5L270.8 559.5M55.5 556.9L57.7 556.9M268.6 556.9L270.8 556.9M55.5 538.8L57.7 538.8M268.6 538.8L270.8 538.8M55.5 529.7L57.7 529.7M268.6 529.7L270.8 529.7M55.5 523.2L57.7 523.2M268.6 523.2L270.8 523.2M55.5 518.2L57.7 518.2M268.6 518.2L270.8 518.2M55.5 514L57.7 514M268.6 514L270.8 514M55.5 510.6L57.7 510.6M268.6 510.6L270.8 510.6M55.5 507.5L57.7 507.5M268.6 507.5L270.8 507.5M55.5 504.9L57.7 504.9M268.6 504.9L270.8 504.9M57.8 674.2L57.8 678.2M57.8 502.6L57.8 506.6M98.5 674.2L98.5 678.2M98.5 502.6L98.5 506.6M139.2 674.2L139.2 678.2M139.2 502.6L139.2 506.6M179.9 674.2L179.9 678.2M179.9 502.6L179.9 506.6M220.6 674.2L220.6 678.2M220.6 502.6L220.6 506.6M261.3 674.2L261.3 678.2M261.3 502.6L261.3 506.6M78.2 674.2L78.2 676.7M78.2 502.6L78.2 505.1M118.8 674.2L118.8 676.7M118.8 502.6L118.8 505.1M159.6 674.2L159.6 676.7M159.6 502.6L159.6 505.1M200.2 674.2L200.2 676.7M200.2 502.6L200.2 505.1M240.9 674.2L240.9 676.7M240.9 502.6L240.9 505.1" stroke="#2a2a2a" stroke-width="1.0" fill="none"/>
<text x="51.8" y="662.6" font-size="11.5" text-anchor="end" font-weight="normal" fill="#111" stroke="#111" >0.1</text>
<text x="51.8" y="610.6" font-size="11.5" text-anchor="end" font-weight="normal" fill="#111" stroke="#111" >1</text>
<text x="51.8" y="558.6" font-size="11.5" text-anchor="end" font-weight="normal" fill="#111" stroke="#111" >10</text>
<text x="51.8" y="506.6" font-size="11.5" text-anchor="end" font-weight="normal" fill="#111" stroke="#111" >100</text>
<text x="57.8" y="689" font-size="11.5" text-anchor="middle" font-weight="normal" fill="#111" stroke="#111" >40</text>
<text x="98.5" y="689" font-size="11.5" text-anchor="middle" font-weight="normal" fill="#111" stroke="#111" >80</text>
<text x="139.2" y="689" font-size="11.5" text-anchor="middle" font-weight="normal" fill="#111" stroke="#111" >120</text>
<text x="179.9" y="689" font-size="11.5" text-anchor="middle" font-weight="normal" fill="#111" stroke="#111" >160</text>
<text x="220.6" y="689" font-size="11.5" text-anchor="middle" font-weight="normal" fill="#111" stroke="#111" >200</text>
<text x="261.3" y="689" font-size="11.5" text-anchor="middle" font-weight="normal" fill="#111" stroke="#111" >240</text>
<polyline points="65.3,557.7 113.9,543 164.9,548.6 213.6,559.9 261.7,552.5" fill="none" stroke="#3040c8" stroke-width="1.3" stroke-dasharray="3.2,2.4"/>
<polyline points="65.3,559.7 113.9,565.4 164.9,560.3 213.6,566.6 261.7,558" fill="none" stroke="#3040c8" stroke-width="1.3" stroke-dasharray="3.2,2.4"/>
<polyline points="65.3,597.5 113.9,602.9 164.9,599.3 213.6,610 261.7,604.7" fill="none" stroke="#333" stroke-width="1.3" stroke-dasharray="3.2,2.4"/>
<polyline points="65.3,644.6 113.9,640.7 164.9,635 213.6,637.7 261.7,639.6" fill="none" stroke="#333" stroke-width="1.3" stroke-dasharray="3.2,2.4"/>
<circle cx="65.3" cy="559.7" r="2.4" fill="#fff" stroke="#f01010" stroke-width="1.3"/>
<line x1="62.9" y1="559.7" x2="67.7" y2="559.7" stroke="#f01010" stroke-width="0.8" />
<circle cx="113.9" cy="565.4" r="2.4" fill="#fff" stroke="#f06a1a" stroke-width="1.3"/>
<line x1="111.5" y1="565.4" x2="116.3" y2="565.4" stroke="#f06a1a" stroke-width="0.8" />
<circle cx="164.9" cy="560.3" r="2.4" fill="#fff" stroke="#f2e020" stroke-width="1.3"/>
<line x1="162.5" y1="560.3" x2="167.3" y2="560.3" stroke="#f2e020" stroke-width="0.8" />
<circle cx="213.6" cy="566.6" r="2.4" fill="#fff" stroke="#20d820" stroke-width="1.3"/>
<line x1="211.2" y1="566.6" x2="216" y2="566.6" stroke="#20d820" stroke-width="0.8" />
<circle cx="261.7" cy="558" r="2.4" fill="#fff" stroke="#2080e8" stroke-width="1.3"/>
<line x1="259.3" y1="558" x2="264.1" y2="558" stroke="#2080e8" stroke-width="0.8" />
<rect x="63" y="555.4" width="4.6" height="4.6" fill="#fff" stroke="#f01010" stroke-width="1.3"/>
<line x1="63" y1="557.7" x2="67.6" y2="557.7" stroke="#f01010" stroke-width="0.8" />
<rect x="111.6" y="540.7" width="4.6" height="4.6" fill="#fff" stroke="#f06a1a" stroke-width="1.3"/>
<line x1="111.6" y1="543" x2="116.2" y2="543" stroke="#f06a1a" stroke-width="0.8" />
<rect x="162.6" y="546.3" width="4.6" height="4.6" fill="#fff" stroke="#f2e020" stroke-width="1.3"/>
<line x1="162.6" y1="548.6" x2="167.2" y2="548.6" stroke="#f2e020" stroke-width="0.8" />
<rect x="211.3" y="557.6" width="4.6" height="4.6" fill="#fff" stroke="#20d820" stroke-width="1.3"/>
<line x1="211.3" y1="559.9" x2="215.9" y2="559.9" stroke="#20d820" stroke-width="0.8" />
<rect x="259.4" y="550.2" width="4.6" height="4.6" fill="#fff" stroke="#2080e8" stroke-width="1.3"/>
<line x1="259.4" y1="552.5" x2="264" y2="552.5" stroke="#2080e8" stroke-width="0.8" />
<line x1="65.3" y1="593" x2="65.3" y2="602" stroke="#f01010" stroke-width="1.0" />
<line x1="63.8" y1="593" x2="66.8" y2="593" stroke="#f01010" stroke-width="1.0" />
<line x1="63.8" y1="602" x2="66.8" y2="602" stroke="#f01010" stroke-width="1.0" />
<rect x="62.6" y="594.8" width="5.4" height="5.4" fill="#f01010"/>
<rect x="111.2" y="600.2" width="5.4" height="5.4" fill="#f06a1a"/>
<rect x="162.2" y="596.6" width="5.4" height="5.4" fill="#f2e020"/>
<rect x="210.9" y="607.3" width="5.4" height="5.4" fill="#20d820"/>
<rect x="259" y="602" width="5.4" height="5.4" fill="#2080e8"/>
<circle cx="65.3" cy="595.5" r="3.0" fill="#f01010"/>
<circle cx="65.3" cy="644.6" r="3.0" fill="#f01010"/>
<circle cx="113.9" cy="640.7" r="3.0" fill="#f06a1a"/>
<circle cx="164.9" cy="635" r="3.0" fill="#f2e020"/>
<circle cx="213.6" cy="637.7" r="3.0" fill="#20d820"/>
<circle cx="261.7" cy="639.6" r="3.0" fill="#2080e8"/>
<polyline points="70.4,581.7 98.2,581.7" fill="none" stroke="#8a8ac8" stroke-width="1.2" stroke-dasharray="3.2,2.4"/>
<polyline points="133.4,581.7 158.8,581.7" fill="none" stroke="#8a8ac8" stroke-width="1.2" stroke-dasharray="3.2,2.4"/>
<rect x="81.5" y="579.4" width="4.6" height="4.6" fill="#fff" stroke="#e81010" stroke-width="1.3"/>
<line x1="81.5" y1="581.7" x2="86.1" y2="581.7" stroke="#e81010" stroke-width="0.8" />
<circle cx="145.6" cy="581.7" r="2.4" fill="#fff" stroke="#c01818" stroke-width="1.3"/>
<line x1="143.2" y1="581.7" x2="148" y2="581.7" stroke="#c01818" stroke-width="0.8" />
<text x="100.2" y="585.5" font-size="11.5" fill="#111" stroke="#111"><tspan font-family="Liberation Serif" font-size="12">τ</tspan><tspan font-size="7.5" dy="3.5">2</tspan><tspan dy="-3.5"> rise</tspan></text>
<text x="160.8" y="585.5" font-size="11.5" fill="#111" stroke="#111"><tspan font-family="Liberation Serif" font-size="12">τ</tspan><tspan font-size="7.5" dy="3.5">2</tspan><tspan dy="-3.5"> decay</tspan></text>
<polyline points="70.4,658.8 98.2,658.8" fill="none" stroke="#333" stroke-width="1.2" stroke-dasharray="3.2,2.4"/>
<polyline points="133.4,658.8 158.8,658.8" fill="none" stroke="#333" stroke-width="1.2" stroke-dasharray="3.2,2.4"/>
<rect x="81.1" y="656.1" width="5.4" height="5.4" fill="#e81010"/>
<circle cx="146" cy="658.8" r="3.0" fill="#e81010"/>
<text x="100.2" y="662.5" font-size="11.5" fill="#111" stroke="#111"><tspan font-family="Liberation Serif" font-size="12">τ</tspan><tspan font-size="7.5" dy="3.5">1</tspan><tspan dy="-3.5"> rise</tspan></text>
<text x="160.8" y="662.5" font-size="11.5" fill="#111" stroke="#111"><tspan font-family="Liberation Serif" font-size="12">τ</tspan><tspan font-size="7.5" dy="3.5">1</tspan><tspan dy="-3.5"> decay</tspan></text>
<text x="57.8" y="521" font-size="19.5" text-anchor="start" font-weight="normal" fill="#111" stroke="#111" >(e)</text>
<text x="110.5" y="514.5" font-size="14.4" text-anchor="start" font-weight="normal" fill="#111" stroke="#111" >Ambient pressure</text>
<text x="109.5" y="534.2" font-size="12.3" fill="#111" stroke="#111">I<tspan font-size="7.5" dy="3.8">d</tspan><tspan dy="-3.8"> = I</tspan><tspan font-size="7.5" dy="3.8">0</tspan><tspan dy="-3.8"> + A</tspan><tspan font-size="7.5" dy="3.8">1</tspan><tspan dy="-3.8"> e</tspan><tspan font-size="7.5" dy="-6.3">-t/</tspan><tspan font-size="8" fill="#c02020" stroke="#c02020" font-family="Liberation Serif">τ</tspan><tspan font-size="5.5" fill="#c02020" stroke="#c02020" dy="1.5">1</tspan><tspan dy="4.8"> + A</tspan><tspan font-size="7.5" dy="3.8">2</tspan><tspan dy="-3.8"> e</tspan><tspan font-size="7.5" dy="-6.3">-t/</tspan><tspan font-size="8" fill="#c02020" stroke="#c02020" font-family="Liberation Serif">τ</tspan><tspan font-size="5.5" fill="#c02020" stroke="#c02020" dy="1.5">2</tspan></text>
<text x="225.4" y="669.3" font-size="11.2" text-anchor="start" font-weight="normal" fill="#111" stroke="#111" >V</text>
<text x="233.4" y="673.6" font-size="7.5" text-anchor="start" font-weight="normal" fill="#111" stroke="#111" >ds</text>
<text x="243.9" y="669.3" font-size="11.2" text-anchor="start" font-weight="normal" fill="#111" stroke="#111" >= 5 V</text>
<text transform="translate(27.6,589.3) rotate(-90)" font-size="14.3" text-anchor="middle" fill="#111" stroke="#111">Time constants (s)</text>
<text x="136.5" y="707.8" font-size="14.2" fill="#111" stroke="#111">P<tspan font-size="9.5" dy="4.5">inc</tspan><tspan dy="-4.5"> (μW)</tspan></text>
<rect x="345.9" y="502.6" width="212.8" height="171.8" fill="none" stroke="#2a2a2a" stroke-width="1.3"/>
<path d="M341.9 658.5L345.9 658.5M554.7 658.5L558.7 658.5M341.9 606.5L345.9 606.5M554.7 606.5L558.7 606.5M341.9 554.5L345.9 554.5M554.7 554.5L558.7 554.5M341.9 502.5L345.9 502.5M554.7 502.5L558.7 502.5M343.7 674.2L345.9 674.2M556.5 674.2L558.7 674.2M343.7 670L345.9 670M556.5 670L558.7 670M343.7 666.6L345.9 666.6M556.5 666.6L558.7 666.6M343.7 663.5L345.9 663.5M556.5 663.5L558.7 663.5M343.7 660.9L345.9 660.9M556.5 660.9L558.7 660.9M343.7 642.8L345.9 642.8M556.5 642.8L558.7 642.8M343.7 633.7L345.9 633.7M556.5 633.7L558.7 633.7M343.7 627.2L345.9 627.2M556.5 627.2L558.7 627.2M343.7 622.2L345.9 622.2M556.5 622.2L558.7 622.2M343.7 618L345.9 618M556.5 618L558.7 618M343.7 614.6L345.9 614.6M556.5 614.6L558.7 614.6M343.7 611.5L345.9 611.5M556.5 611.5L558.7 611.5M343.7 608.9L345.9 608.9M556.5 608.9L558.7 608.9M343.7 590.8L345.9 590.8M556.5 590.8L558.7 590.8M343.7 581.7L345.9 581.7M556.5 581.7L558.7 581.7M343.7 575.2L345.9 575.2M556.5 575.2L558.7 575.2M343.7 570.2L345.9 570.2M556.5 570.2L558.7 570.2M343.7 566L345.9 566M556.5 566L558.7 566M343.7 562.6L345.9 562.6M556.5 562.6L558.7 562.6M343.7 559.5L345.9 559.5M556.5 559.5L558.7 559.5M343.7 556.9L345.9 556.9M556.5 556.9L558.7 556.9M343.7 538.8L345.9 538.8M556.5 538.8L558.7 538.8M343.7 529.7L345.9 529.7M556.5 529.7L558.7 529.7M343.7 523.2L345.9 523.2M556.5 523.2L558.7 523.2M343.7 518.2L345.9 518.2M556.5 518.2L558.7 518.2M343.7 514L345.9 514M556.5 514L558.7 514M343.7 510.6L345.9 510.6M556.5 510.6L558.7 510.6M343.7 507.5L345.9 507.5M556.5 507.5L558.7 507.5M343.7 504.9L345.9 504.9M556.5 504.9L558.7 504.9M346.3 674.4L346.3 678.4M346.3 502.6L346.3 506.6M388 674.4L388 678.4M388 502.6L388 506.6M429.7 674.4L429.7 678.4M429.7 502.6L429.7 506.6M471.4 674.4L471.4 678.4M471.4 502.6L471.4 506.6M513.1 674.4L513.1 678.4M513.1 502.6L513.1 506.6M554.8 674.4L554.8 678.4M554.8 502.6L554.8 506.6M367.2 674.4L367.2 676.9M367.2 502.6L367.2 505.1M408.9 674.4L408.9 676.9M408.9 502.6L408.9 505.1M450.6 674.4L450.6 676.9M450.6 502.6L450.6 505.1M492.2 674.4L492.2 676.9M492.2 502.6L492.2 505.1M534 674.4L534 676.9M534 502.6L534 505.1" stroke="#2a2a2a" stroke-width="1.0" fill="none"/>
<text x="340" y="662.6" font-size="11.5" text-anchor="end" font-weight="normal" fill="#111" stroke="#111" >0.1</text>
<text x="340" y="610.6" font-size="11.5" text-anchor="end" font-weight="normal" fill="#111" stroke="#111" >1</text>
<text x="340" y="558.6" font-size="11.5" text-anchor="end" font-weight="normal" fill="#111" stroke="#111" >10</text>
<text x="340" y="506.6" font-size="11.5" text-anchor="end" font-weight="normal" fill="#111" stroke="#111" >100</text>
<text x="346.3" y="689" font-size="11.5" text-anchor="middle" font-weight="normal" fill="#111" stroke="#111" >40</text>
<text x="388" y="689" font-size="11.5" text-anchor="middle" font-weight="normal" fill="#111" stroke="#111" >80</text>
<text x="429.7" y="689" font-size="11.5" text-anchor="middle" font-weight="normal" fill="#111" stroke="#111" >120</text>
<text x="471.4" y="689" font-size="11.5" text-anchor="middle" font-weight="normal" fill="#111" stroke="#111" >160</text>
<text x="513.1" y="689" font-size="11.5" text-anchor="middle" font-weight="normal" fill="#111" stroke="#111" >200</text>
<text x="554.8" y="689" font-size="11.5" text-anchor="middle" font-weight="normal" fill="#111" stroke="#111" >240</text>
<polyline points="353.8,538.5 402.9,540.2 455.5,553.6 505.3,561.2 555,545.1" fill="none" stroke="#3040c8" stroke-width="1.3" stroke-dasharray="3.2,2.4"/>
<polyline points="353.8,547.5 402.9,537.5 455.5,526 505.3,547.1 555,523.7" fill="none" stroke="#3040c8" stroke-width="1.3" stroke-dasharray="3.2,2.4"/>
<polyline points="353.8,641.3 402.9,636.3 455.5,646.4 505.3,660.5 555,620" fill="none" stroke="#333" stroke-width="1.3" stroke-dasharray="3.2,2.4"/>
<polyline points="353.8,641.3 402.9,629 455.5,617.6 505.3,630.9 555,621.3" fill="none" stroke="#333" stroke-width="1.3" stroke-dasharray="3.2,2.4"/>
<circle cx="353.8" cy="547.5" r="2.4" fill="#fff" stroke="#f01010" stroke-width="1.3"/>
<line x1="351.4" y1="547.5" x2="356.2" y2="547.5" stroke="#f01010" stroke-width="0.8" />
<circle cx="402.9" cy="537.5" r="2.4" fill="#fff" stroke="#f06a1a" stroke-width="1.3"/>
<line x1="400.5" y1="537.5" x2="405.3" y2="537.5" stroke="#f06a1a" stroke-width="0.8" />
<circle cx="455.5" cy="526" r="2.4" fill="#fff" stroke="#f2e020" stroke-width="1.3"/>
<line x1="453.1" y1="526" x2="457.9" y2="526" stroke="#f2e020" stroke-width="0.8" />
<circle cx="505.3" cy="547.1" r="2.4" fill="#fff" stroke="#20d820" stroke-width="1.3"/>
<line x1="502.9" y1="547.1" x2="507.7" y2="547.1" stroke="#20d820" stroke-width="0.8" />
<circle cx="555" cy="523.7" r="2.4" fill="#fff" stroke="#2080e8" stroke-width="1.3"/>
<line x1="552.6" y1="523.7" x2="557.4" y2="523.7" stroke="#2080e8" stroke-width="0.8" />
<rect x="351.5" y="536.2" width="4.6" height="4.6" fill="#fff" stroke="#f01010" stroke-width="1.3"/>
<line x1="351.5" y1="538.5" x2="356.1" y2="538.5" stroke="#f01010" stroke-width="0.8" />
<rect x="400.6" y="537.9" width="4.6" height="4.6" fill="#fff" stroke="#f06a1a" stroke-width="1.3"/>
<line x1="400.6" y1="540.2" x2="405.2" y2="540.2" stroke="#f06a1a" stroke-width="0.8" />
<rect x="453.2" y="551.3" width="4.6" height="4.6" fill="#fff" stroke="#f2e020" stroke-width="1.3"/>
<line x1="453.2" y1="553.6" x2="457.8" y2="553.6" stroke="#f2e020" stroke-width="0.8" />
<rect x="503" y="558.9" width="4.6" height="4.6" fill="#fff" stroke="#20d820" stroke-width="1.3"/>
<line x1="503" y1="561.2" x2="507.6" y2="561.2" stroke="#20d820" stroke-width="0.8" />
<rect x="552.7" y="542.8" width="4.6" height="4.6" fill="#fff" stroke="#2080e8" stroke-width="1.3"/>
<line x1="552.7" y1="545.1" x2="557.3" y2="545.1" stroke="#2080e8" stroke-width="0.8" />
<line x1="402.9" y1="624.5" x2="402.9" y2="633.5" stroke="#f06a1a" stroke-width="1.0" />
<line x1="401.1" y1="624.5" x2="404.7" y2="624.5" stroke="#f06a1a" stroke-width="1.0" />
<line x1="401.1" y1="633.5" x2="404.7" y2="633.5" stroke="#f06a1a" stroke-width="1.0" />
<line x1="455.5" y1="641" x2="455.5" y2="651.5" stroke="#f2e020" stroke-width="1.0" />
<line x1="453.7" y1="641" x2="457.3" y2="641" stroke="#f2e020" stroke-width="1.0" />
<line x1="453.7" y1="651.5" x2="457.3" y2="651.5" stroke="#f2e020" stroke-width="1.0" />
<line x1="555" y1="613" x2="555" y2="627" stroke="#2080e8" stroke-width="1.0" />
<line x1="553.2" y1="613" x2="556.8" y2="613" stroke="#2080e8" stroke-width="1.0" />
<line x1="553.2" y1="627" x2="556.8" y2="627" stroke="#2080e8" stroke-width="1.0" />
<rect x="351.1" y="638.6" width="5.4" height="5.4" fill="#f01010"/>
<rect x="400.2" y="633.6" width="5.4" height="5.4" fill="#f06a1a"/>
<rect x="452.8" y="643.7" width="5.4" height="5.4" fill="#f2e020"/>
<rect x="502.6" y="657.8" width="5.4" height="5.4" fill="#20d820"/>
<rect x="552.3" y="617.3" width="5.4" height="5.4" fill="#2080e8"/>
<circle cx="353.8" cy="641.3" r="3.0" fill="#f01010"/>
<circle cx="402.9" cy="629" r="3.0" fill="#f06a1a"/>
<circle cx="455.5" cy="617.6" r="3.0" fill="#f2e020"/>
<circle cx="505.3" cy="630.9" r="3.0" fill="#20d820"/>
<circle cx="555" cy="621.3" r="3.0" fill="#2080e8"/>
<polyline points="347.5,568.1 375.5,568.1" fill="none" stroke="#3040c8" stroke-width="1.2" stroke-dasharray="3.2,2.4"/>
<polyline points="411,568.1 436.7,568.1" fill="none" stroke="#3040c8" stroke-width="1.2" stroke-dasharray="3.2,2.4"/>
<rect x="358.7" y="565.8" width="4.6" height="4.6" fill="#fff" stroke="#e81010" stroke-width="1.3"/>
<line x1="358.7" y1="568.1" x2="363.3" y2="568.1" stroke="#e81010" stroke-width="0.8" />
<circle cx="423.4" cy="568.1" r="2.4" fill="#fff" stroke="#c01818" stroke-width="1.3"/>
<line x1="421" y1="568.1" x2="425.8" y2="568.1" stroke="#c01818" stroke-width="0.8" />
<text x="377.5" y="572" font-size="11.5" fill="#111" stroke="#111"><tspan font-family="Liberation Serif" font-size="12">τ</tspan><tspan font-size="7.5" dy="3.5">2</tspan><tspan dy="-3.5"> rise</tspan></text>
<text x="438.7" y="572" font-size="11.5" fill="#111" stroke="#111"><tspan font-family="Liberation Serif" font-size="12">τ</tspan><tspan font-size="7.5" dy="3.5">2</tspan><tspan dy="-3.5"> decay</tspan></text>
<polyline points="348.5,664 376,664" fill="none" stroke="#333" stroke-width="1.2" stroke-dasharray="3.2,2.4"/>
<polyline points="409,664 437,664" fill="none" stroke="#333" stroke-width="1.2" stroke-dasharray="3.2,2.4"/>
<rect x="359.3" y="661.3" width="5.4" height="5.4" fill="#e81010"/>
<circle cx="423.6" cy="664" r="3.0" fill="#e81010"/>
<text x="378" y="667.8" font-size="11.5" fill="#111" stroke="#111"><tspan font-family="Liberation Serif" font-size="12">τ</tspan><tspan font-size="7.5" dy="3.5">1</tspan><tspan dy="-3.5"> rise</tspan></text>
<text x="439" y="667.8" font-size="11.5" fill="#111" stroke="#111"><tspan font-family="Liberation Serif" font-size="12">τ</tspan><tspan font-size="7.5" dy="3.5">1</tspan><tspan dy="-3.5"> decay</tspan></text>
<text x="346.5" y="522" font-size="19.5" text-anchor="start" font-weight="normal" fill="#111" stroke="#111" >(f)</text>
<text x="410" y="515.3" font-size="14.4" text-anchor="start" font-weight="normal" fill="#111" stroke="#111" >High vacuum</text>
<text x="385.2" y="604.1" font-size="12.3" fill="#111" stroke="#111">I<tspan font-size="7.5" dy="3.8">d</tspan><tspan dy="-3.8"> = I</tspan><tspan font-size="7.5" dy="3.8">0</tspan><tspan dy="-3.8"> + A</tspan><tspan font-size="7.5" dy="3.8">1</tspan><tspan dy="-3.8"> e</tspan><tspan font-size="7.5" dy="-6.3">-t/</tspan><tspan font-size="8" fill="#c02020" stroke="#c02020" font-family="Liberation Serif">τ</tspan><tspan font-size="5.5" fill="#c02020" stroke="#c02020" dy="1.5">1</tspan><tspan dy="4.8"> + A</tspan><tspan font-size="7.5" dy="3.8">2</tspan><tspan dy="-3.8"> e</tspan><tspan font-size="7.5" dy="-6.3">-t/</tspan><tspan font-size="8" fill="#c02020" stroke="#c02020" font-family="Liberation Serif">τ</tspan><tspan font-size="5.5" fill="#c02020" stroke="#c02020" dy="1.5">2</tspan></text>
<text x="510.6" y="669.3" font-size="11.2" text-anchor="start" font-weight="normal" fill="#111" stroke="#111" >V</text>
<text x="518.6" y="673.6" font-size="7.5" text-anchor="start" font-weight="normal" fill="#111" stroke="#111" >ds</text>
<text x="529.1" y="669.3" font-size="11.2" text-anchor="start" font-weight="normal" fill="#111" stroke="#111" >= 5 V</text>
<text transform="translate(316,589.3) rotate(-90)" font-size="14.3" text-anchor="middle" fill="#111" stroke="#111">Time constants (s)</text>
<text x="425.7" y="707.5" font-size="14.2" fill="#111" stroke="#111">P<tspan font-size="9.5" dy="4.5">inc</tspan><tspan dy="-4.5"> (μW)</tspan></text>
</svg></body></html>
